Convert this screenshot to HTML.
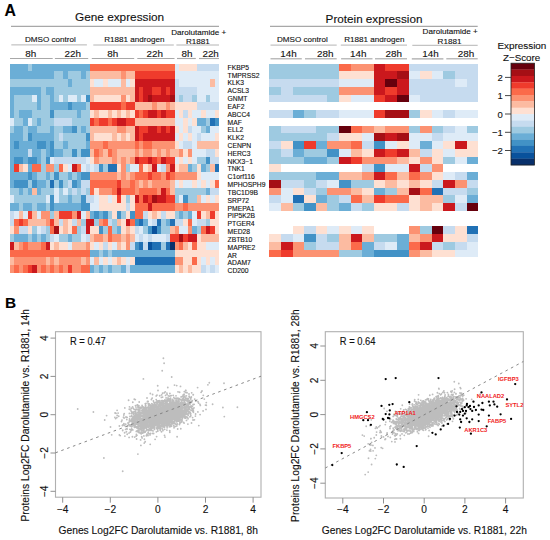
<!DOCTYPE html>
<html><head><meta charset="utf-8"><style>
html,body{margin:0;padding:0;background:#fff;width:550px;height:540px;overflow:hidden}
svg{display:block;font-family:"Liberation Sans",sans-serif}
text{stroke:#111;stroke-width:0.12px}
.hm rect{shape-rendering:crispEdges}
.r{stroke:none}
</style></head><body>
<svg width="550" height="540" viewBox="0 0 550 540">
<text x="4.6" y="16.4" font-size="15.8" font-weight="bold" fill="#000">A</text>
<text x="5.0" y="307.8" font-size="15.4" font-weight="bold" fill="#000">B</text>
<text x="75.0" y="20.6" font-size="11.8" text-anchor="start" fill="#111" >Gene expression</text>
<line x1="11" y1="26.35" x2="219" y2="26.35" stroke="#a8a8a8" stroke-width="1.3"/>
<text x="25.0" y="42.3" font-size="8.1" text-anchor="start" fill="#111" >DMSO control</text>
<line x1="11.3" y1="44.9" x2="86.9" y2="44.9" stroke="#b4b4b4" stroke-width="1.0"/>
<text x="104.2" y="41.9" font-size="8.1" text-anchor="start" fill="#111" >R1881 androgen</text>
<line x1="93.3" y1="45.0" x2="173.8" y2="45.0" stroke="#b4b4b4" stroke-width="1.0"/>
<text x="171.2" y="34.5" font-size="8.1" text-anchor="start" fill="#111" >Darolutamide +</text>
<text x="186.0" y="44.1" font-size="8.1" text-anchor="start" fill="#111" >R1881</text>
<line x1="176.4" y1="45.0" x2="219" y2="45.0" stroke="#b4b4b4" stroke-width="1.0"/>
<text x="25.2" y="56.8" font-size="9.9" text-anchor="start" fill="#111" >8h</text>
<text x="64.6" y="56.8" font-size="9.9" text-anchor="start" fill="#111" >22h</text>
<text x="107.3" y="56.8" font-size="9.9" text-anchor="start" fill="#111" >8h</text>
<text x="146.5" y="56.8" font-size="9.9" text-anchor="start" fill="#111" >22h</text>
<text x="181.4" y="56.8" font-size="9.9" text-anchor="start" fill="#111" >8h</text>
<text x="202.4" y="56.8" font-size="9.9" text-anchor="start" fill="#111" >22h</text>
<line x1="10" y1="58.5" x2="52.7" y2="58.5" stroke="#a8a8a8" stroke-width="1.15"/>
<line x1="54.9" y1="58.5" x2="88.2" y2="58.5" stroke="#a8a8a8" stroke-width="1.15"/>
<line x1="91.8" y1="58.5" x2="134.2" y2="58.5" stroke="#a8a8a8" stroke-width="1.15"/>
<line x1="137.3" y1="58.5" x2="174.5" y2="58.5" stroke="#a8a8a8" stroke-width="1.15"/>
<line x1="177" y1="58.5" x2="195.8" y2="58.5" stroke="#a8a8a8" stroke-width="1.15"/>
<line x1="199" y1="58.5" x2="219" y2="58.5" stroke="#a8a8a8" stroke-width="1.15"/>
<text x="325.6" y="22.8" font-size="11.7" text-anchor="start" fill="#111" >Protein expression</text>
<line x1="270" y1="26.35" x2="477.7" y2="26.35" stroke="#a8a8a8" stroke-width="1.3"/>
<text x="277.0" y="41.8" font-size="8.1" text-anchor="start" fill="#111" >DMSO control</text>
<line x1="270.5" y1="45.1" x2="336.7" y2="45.1" stroke="#b4b4b4" stroke-width="1.0"/>
<text x="344.2" y="41.8" font-size="8.1" text-anchor="start" fill="#111" >R1881 androgen</text>
<line x1="340.8" y1="45.1" x2="407" y2="45.1" stroke="#b4b4b4" stroke-width="1.0"/>
<text x="422.6" y="34.4" font-size="8.1" text-anchor="start" fill="#111" >Darolutamide +</text>
<text x="437.6" y="44.0" font-size="8.1" text-anchor="start" fill="#111" >R1881</text>
<line x1="412.3" y1="45.3" x2="477.7" y2="45.3" stroke="#b4b4b4" stroke-width="1.0"/>
<text x="280.3" y="56.8" font-size="9.9" text-anchor="start" fill="#111" >14h</text>
<text x="317.0" y="56.8" font-size="9.9" text-anchor="start" fill="#111" >28h</text>
<text x="350.0" y="56.8" font-size="9.9" text-anchor="start" fill="#111" >14h</text>
<text x="385.5" y="56.8" font-size="9.9" text-anchor="start" fill="#111" >28h</text>
<text x="422.2" y="56.8" font-size="9.9" text-anchor="start" fill="#111" >14h</text>
<text x="457.7" y="56.8" font-size="9.9" text-anchor="start" fill="#111" >28h</text>
<line x1="270.5" y1="58.8" x2="301.8" y2="58.8" stroke="#a8a8a8" stroke-width="1.15"/>
<line x1="305" y1="58.8" x2="336.7" y2="58.8" stroke="#a8a8a8" stroke-width="1.15"/>
<line x1="341.1" y1="58.8" x2="372.5" y2="58.8" stroke="#a8a8a8" stroke-width="1.15"/>
<line x1="375" y1="58.8" x2="407" y2="58.8" stroke="#a8a8a8" stroke-width="1.15"/>
<line x1="411.8" y1="58.8" x2="443.4" y2="58.8" stroke="#a8a8a8" stroke-width="1.15"/>
<line x1="446.3" y1="58.8" x2="477.7" y2="58.8" stroke="#a8a8a8" stroke-width="1.15"/>
<g class="hm">
<rect x="10.00" y="63.60" width="4.45" height="7.76" fill="#6baed6"/>
<rect x="14.45" y="63.60" width="4.45" height="7.76" fill="#6baed6"/>
<rect x="18.89" y="63.60" width="4.45" height="7.76" fill="#6baed6"/>
<rect x="23.34" y="63.60" width="4.45" height="7.76" fill="#6baed6"/>
<rect x="27.79" y="63.60" width="4.45" height="7.76" fill="#9ecae1"/>
<rect x="32.23" y="63.60" width="4.45" height="7.76" fill="#6baed6"/>
<rect x="36.68" y="63.60" width="4.45" height="7.76" fill="#6baed6"/>
<rect x="41.13" y="63.60" width="4.45" height="7.76" fill="#6baed6"/>
<rect x="45.57" y="63.60" width="4.45" height="7.76" fill="#6baed6"/>
<rect x="50.02" y="63.60" width="4.45" height="7.76" fill="#6baed6"/>
<rect x="54.47" y="63.60" width="4.45" height="7.76" fill="#6baed6"/>
<rect x="58.91" y="63.60" width="4.45" height="7.76" fill="#6baed6"/>
<rect x="63.36" y="63.60" width="4.45" height="7.76" fill="#6baed6"/>
<rect x="67.81" y="63.60" width="4.45" height="7.76" fill="#6baed6"/>
<rect x="72.26" y="63.60" width="4.45" height="7.76" fill="#6baed6"/>
<rect x="76.70" y="63.60" width="4.45" height="7.76" fill="#6baed6"/>
<rect x="81.15" y="63.60" width="4.45" height="7.76" fill="#6baed6"/>
<rect x="85.60" y="63.60" width="4.45" height="7.76" fill="#6baed6"/>
<rect x="90.04" y="63.60" width="4.45" height="7.76" fill="#fb6a4a"/>
<rect x="94.49" y="63.60" width="4.45" height="7.76" fill="#fb6a4a"/>
<rect x="98.94" y="63.60" width="4.45" height="7.76" fill="#fb6a4a"/>
<rect x="103.38" y="63.60" width="4.45" height="7.76" fill="#fb6a4a"/>
<rect x="107.83" y="63.60" width="4.45" height="7.76" fill="#fb6a4a"/>
<rect x="112.28" y="63.60" width="4.45" height="7.76" fill="#fb6a4a"/>
<rect x="116.72" y="63.60" width="4.45" height="7.76" fill="#fb6a4a"/>
<rect x="121.17" y="63.60" width="4.45" height="7.76" fill="#fb6a4a"/>
<rect x="125.62" y="63.60" width="4.45" height="7.76" fill="#fb6a4a"/>
<rect x="130.06" y="63.60" width="4.45" height="7.76" fill="#fb6a4a"/>
<rect x="134.51" y="63.60" width="4.45" height="7.76" fill="#fb6a4a"/>
<rect x="138.96" y="63.60" width="4.45" height="7.76" fill="#fb6a4a"/>
<rect x="143.40" y="63.60" width="4.45" height="7.76" fill="#fb6a4a"/>
<rect x="147.85" y="63.60" width="4.45" height="7.76" fill="#fb6a4a"/>
<rect x="152.30" y="63.60" width="4.45" height="7.76" fill="#fb6a4a"/>
<rect x="156.74" y="63.60" width="4.45" height="7.76" fill="#fb6a4a"/>
<rect x="161.19" y="63.60" width="4.45" height="7.76" fill="#fb6a4a"/>
<rect x="165.64" y="63.60" width="4.45" height="7.76" fill="#fb6a4a"/>
<rect x="170.09" y="63.60" width="4.45" height="7.76" fill="#fb6a4a"/>
<rect x="174.53" y="63.60" width="4.45" height="7.76" fill="#deebf7"/>
<rect x="178.98" y="63.60" width="4.45" height="7.76" fill="#fee0d2"/>
<rect x="183.43" y="63.60" width="4.45" height="7.76" fill="#fee0d2"/>
<rect x="187.87" y="63.60" width="4.45" height="7.76" fill="#fee0d2"/>
<rect x="192.32" y="63.60" width="4.45" height="7.76" fill="#fee0d2"/>
<rect x="196.77" y="63.60" width="4.45" height="7.76" fill="#c6dbef"/>
<rect x="201.21" y="63.60" width="4.45" height="7.76" fill="#c6dbef"/>
<rect x="205.66" y="63.60" width="4.45" height="7.76" fill="#c6dbef"/>
<rect x="210.11" y="63.60" width="4.45" height="7.76" fill="#c6dbef"/>
<rect x="214.55" y="63.60" width="4.45" height="7.76" fill="#c6dbef"/>
<rect x="10.00" y="71.36" width="4.45" height="7.76" fill="#6baed6"/>
<rect x="14.45" y="71.36" width="4.45" height="7.76" fill="#6baed6"/>
<rect x="18.89" y="71.36" width="4.45" height="7.76" fill="#6baed6"/>
<rect x="23.34" y="71.36" width="4.45" height="7.76" fill="#6baed6"/>
<rect x="27.79" y="71.36" width="4.45" height="7.76" fill="#6baed6"/>
<rect x="32.23" y="71.36" width="4.45" height="7.76" fill="#6baed6"/>
<rect x="36.68" y="71.36" width="4.45" height="7.76" fill="#6baed6"/>
<rect x="41.13" y="71.36" width="4.45" height="7.76" fill="#6baed6"/>
<rect x="45.57" y="71.36" width="4.45" height="7.76" fill="#6baed6"/>
<rect x="50.02" y="71.36" width="4.45" height="7.76" fill="#6baed6"/>
<rect x="54.47" y="71.36" width="4.45" height="7.76" fill="#9ecae1"/>
<rect x="58.91" y="71.36" width="4.45" height="7.76" fill="#9ecae1"/>
<rect x="63.36" y="71.36" width="4.45" height="7.76" fill="#6baed6"/>
<rect x="67.81" y="71.36" width="4.45" height="7.76" fill="#9ecae1"/>
<rect x="72.26" y="71.36" width="4.45" height="7.76" fill="#9ecae1"/>
<rect x="76.70" y="71.36" width="4.45" height="7.76" fill="#9ecae1"/>
<rect x="81.15" y="71.36" width="4.45" height="7.76" fill="#6baed6"/>
<rect x="85.60" y="71.36" width="4.45" height="7.76" fill="#9ecae1"/>
<rect x="90.04" y="71.36" width="4.45" height="7.76" fill="#fcbba1"/>
<rect x="94.49" y="71.36" width="4.45" height="7.76" fill="#fcbba1"/>
<rect x="98.94" y="71.36" width="4.45" height="7.76" fill="#fcbba1"/>
<rect x="103.38" y="71.36" width="4.45" height="7.76" fill="#fcbba1"/>
<rect x="107.83" y="71.36" width="4.45" height="7.76" fill="#fcbba1"/>
<rect x="112.28" y="71.36" width="4.45" height="7.76" fill="#fcbba1"/>
<rect x="116.72" y="71.36" width="4.45" height="7.76" fill="#fcbba1"/>
<rect x="121.17" y="71.36" width="4.45" height="7.76" fill="#fc9272"/>
<rect x="125.62" y="71.36" width="4.45" height="7.76" fill="#fcbba1"/>
<rect x="130.06" y="71.36" width="4.45" height="7.76" fill="#fcbba1"/>
<rect x="134.51" y="71.36" width="4.45" height="7.76" fill="#ef3b2c"/>
<rect x="138.96" y="71.36" width="4.45" height="7.76" fill="#ef3b2c"/>
<rect x="143.40" y="71.36" width="4.45" height="7.76" fill="#ef3b2c"/>
<rect x="147.85" y="71.36" width="4.45" height="7.76" fill="#ef3b2c"/>
<rect x="152.30" y="71.36" width="4.45" height="7.76" fill="#ef3b2c"/>
<rect x="156.74" y="71.36" width="4.45" height="7.76" fill="#ef3b2c"/>
<rect x="161.19" y="71.36" width="4.45" height="7.76" fill="#ef3b2c"/>
<rect x="165.64" y="71.36" width="4.45" height="7.76" fill="#ef3b2c"/>
<rect x="170.09" y="71.36" width="4.45" height="7.76" fill="#ef3b2c"/>
<rect x="174.53" y="71.36" width="4.45" height="7.76" fill="#deebf7"/>
<rect x="178.98" y="71.36" width="4.45" height="7.76" fill="#deebf7"/>
<rect x="183.43" y="71.36" width="4.45" height="7.76" fill="#deebf7"/>
<rect x="187.87" y="71.36" width="4.45" height="7.76" fill="#deebf7"/>
<rect x="192.32" y="71.36" width="4.45" height="7.76" fill="#deebf7"/>
<rect x="196.77" y="71.36" width="4.45" height="7.76" fill="#deebf7"/>
<rect x="201.21" y="71.36" width="4.45" height="7.76" fill="#deebf7"/>
<rect x="205.66" y="71.36" width="4.45" height="7.76" fill="#deebf7"/>
<rect x="210.11" y="71.36" width="4.45" height="7.76" fill="#deebf7"/>
<rect x="214.55" y="71.36" width="4.45" height="7.76" fill="#deebf7"/>
<rect x="10.00" y="79.11" width="4.45" height="7.76" fill="#9ecae1"/>
<rect x="14.45" y="79.11" width="4.45" height="7.76" fill="#9ecae1"/>
<rect x="18.89" y="79.11" width="4.45" height="7.76" fill="#9ecae1"/>
<rect x="23.34" y="79.11" width="4.45" height="7.76" fill="#9ecae1"/>
<rect x="27.79" y="79.11" width="4.45" height="7.76" fill="#9ecae1"/>
<rect x="32.23" y="79.11" width="4.45" height="7.76" fill="#9ecae1"/>
<rect x="36.68" y="79.11" width="4.45" height="7.76" fill="#9ecae1"/>
<rect x="41.13" y="79.11" width="4.45" height="7.76" fill="#9ecae1"/>
<rect x="45.57" y="79.11" width="4.45" height="7.76" fill="#9ecae1"/>
<rect x="50.02" y="79.11" width="4.45" height="7.76" fill="#9ecae1"/>
<rect x="54.47" y="79.11" width="4.45" height="7.76" fill="#9ecae1"/>
<rect x="58.91" y="79.11" width="4.45" height="7.76" fill="#9ecae1"/>
<rect x="63.36" y="79.11" width="4.45" height="7.76" fill="#9ecae1"/>
<rect x="67.81" y="79.11" width="4.45" height="7.76" fill="#6baed6"/>
<rect x="72.26" y="79.11" width="4.45" height="7.76" fill="#9ecae1"/>
<rect x="76.70" y="79.11" width="4.45" height="7.76" fill="#9ecae1"/>
<rect x="81.15" y="79.11" width="4.45" height="7.76" fill="#9ecae1"/>
<rect x="85.60" y="79.11" width="4.45" height="7.76" fill="#9ecae1"/>
<rect x="90.04" y="79.11" width="4.45" height="7.76" fill="#fee0d2"/>
<rect x="94.49" y="79.11" width="4.45" height="7.76" fill="#deebf7"/>
<rect x="98.94" y="79.11" width="4.45" height="7.76" fill="#deebf7"/>
<rect x="103.38" y="79.11" width="4.45" height="7.76" fill="#fee0d2"/>
<rect x="107.83" y="79.11" width="4.45" height="7.76" fill="#deebf7"/>
<rect x="112.28" y="79.11" width="4.45" height="7.76" fill="#deebf7"/>
<rect x="116.72" y="79.11" width="4.45" height="7.76" fill="#deebf7"/>
<rect x="121.17" y="79.11" width="4.45" height="7.76" fill="#fcbba1"/>
<rect x="125.62" y="79.11" width="4.45" height="7.76" fill="#deebf7"/>
<rect x="130.06" y="79.11" width="4.45" height="7.76" fill="#fee0d2"/>
<rect x="134.51" y="79.11" width="4.45" height="7.76" fill="#cb181d"/>
<rect x="138.96" y="79.11" width="4.45" height="7.76" fill="#cb181d"/>
<rect x="143.40" y="79.11" width="4.45" height="7.76" fill="#cb181d"/>
<rect x="147.85" y="79.11" width="4.45" height="7.76" fill="#cb181d"/>
<rect x="152.30" y="79.11" width="4.45" height="7.76" fill="#cb181d"/>
<rect x="156.74" y="79.11" width="4.45" height="7.76" fill="#cb181d"/>
<rect x="161.19" y="79.11" width="4.45" height="7.76" fill="#cb181d"/>
<rect x="165.64" y="79.11" width="4.45" height="7.76" fill="#cb181d"/>
<rect x="170.09" y="79.11" width="4.45" height="7.76" fill="#cb181d"/>
<rect x="174.53" y="79.11" width="4.45" height="7.76" fill="#c6dbef"/>
<rect x="178.98" y="79.11" width="4.45" height="7.76" fill="#deebf7"/>
<rect x="183.43" y="79.11" width="4.45" height="7.76" fill="#deebf7"/>
<rect x="187.87" y="79.11" width="4.45" height="7.76" fill="#deebf7"/>
<rect x="192.32" y="79.11" width="4.45" height="7.76" fill="#deebf7"/>
<rect x="196.77" y="79.11" width="4.45" height="7.76" fill="#deebf7"/>
<rect x="201.21" y="79.11" width="4.45" height="7.76" fill="#deebf7"/>
<rect x="205.66" y="79.11" width="4.45" height="7.76" fill="#deebf7"/>
<rect x="210.11" y="79.11" width="4.45" height="7.76" fill="#fcbba1"/>
<rect x="214.55" y="79.11" width="4.45" height="7.76" fill="#deebf7"/>
<rect x="10.00" y="86.87" width="4.45" height="7.76" fill="#6baed6"/>
<rect x="14.45" y="86.87" width="4.45" height="7.76" fill="#6baed6"/>
<rect x="18.89" y="86.87" width="4.45" height="7.76" fill="#6baed6"/>
<rect x="23.34" y="86.87" width="4.45" height="7.76" fill="#6baed6"/>
<rect x="27.79" y="86.87" width="4.45" height="7.76" fill="#6baed6"/>
<rect x="32.23" y="86.87" width="4.45" height="7.76" fill="#6baed6"/>
<rect x="36.68" y="86.87" width="4.45" height="7.76" fill="#6baed6"/>
<rect x="41.13" y="86.87" width="4.45" height="7.76" fill="#9ecae1"/>
<rect x="45.57" y="86.87" width="4.45" height="7.76" fill="#6baed6"/>
<rect x="50.02" y="86.87" width="4.45" height="7.76" fill="#6baed6"/>
<rect x="54.47" y="86.87" width="4.45" height="7.76" fill="#9ecae1"/>
<rect x="58.91" y="86.87" width="4.45" height="7.76" fill="#9ecae1"/>
<rect x="63.36" y="86.87" width="4.45" height="7.76" fill="#9ecae1"/>
<rect x="67.81" y="86.87" width="4.45" height="7.76" fill="#9ecae1"/>
<rect x="72.26" y="86.87" width="4.45" height="7.76" fill="#9ecae1"/>
<rect x="76.70" y="86.87" width="4.45" height="7.76" fill="#9ecae1"/>
<rect x="81.15" y="86.87" width="4.45" height="7.76" fill="#9ecae1"/>
<rect x="85.60" y="86.87" width="4.45" height="7.76" fill="#9ecae1"/>
<rect x="90.04" y="86.87" width="4.45" height="7.76" fill="#fcbba1"/>
<rect x="94.49" y="86.87" width="4.45" height="7.76" fill="#fcbba1"/>
<rect x="98.94" y="86.87" width="4.45" height="7.76" fill="#fcbba1"/>
<rect x="103.38" y="86.87" width="4.45" height="7.76" fill="#fcbba1"/>
<rect x="107.83" y="86.87" width="4.45" height="7.76" fill="#fcbba1"/>
<rect x="112.28" y="86.87" width="4.45" height="7.76" fill="#fcbba1"/>
<rect x="116.72" y="86.87" width="4.45" height="7.76" fill="#fcbba1"/>
<rect x="121.17" y="86.87" width="4.45" height="7.76" fill="#fcbba1"/>
<rect x="125.62" y="86.87" width="4.45" height="7.76" fill="#fcbba1"/>
<rect x="130.06" y="86.87" width="4.45" height="7.76" fill="#fcbba1"/>
<rect x="134.51" y="86.87" width="4.45" height="7.76" fill="#cb181d"/>
<rect x="138.96" y="86.87" width="4.45" height="7.76" fill="#ef3b2c"/>
<rect x="143.40" y="86.87" width="4.45" height="7.76" fill="#cb181d"/>
<rect x="147.85" y="86.87" width="4.45" height="7.76" fill="#cb181d"/>
<rect x="152.30" y="86.87" width="4.45" height="7.76" fill="#ef3b2c"/>
<rect x="156.74" y="86.87" width="4.45" height="7.76" fill="#ef3b2c"/>
<rect x="161.19" y="86.87" width="4.45" height="7.76" fill="#cb181d"/>
<rect x="165.64" y="86.87" width="4.45" height="7.76" fill="#ef3b2c"/>
<rect x="170.09" y="86.87" width="4.45" height="7.76" fill="#cb181d"/>
<rect x="174.53" y="86.87" width="4.45" height="7.76" fill="#c6dbef"/>
<rect x="178.98" y="86.87" width="4.45" height="7.76" fill="#c6dbef"/>
<rect x="183.43" y="86.87" width="4.45" height="7.76" fill="#c6dbef"/>
<rect x="187.87" y="86.87" width="4.45" height="7.76" fill="#c6dbef"/>
<rect x="192.32" y="86.87" width="4.45" height="7.76" fill="#c6dbef"/>
<rect x="196.77" y="86.87" width="4.45" height="7.76" fill="#deebf7"/>
<rect x="201.21" y="86.87" width="4.45" height="7.76" fill="#deebf7"/>
<rect x="205.66" y="86.87" width="4.45" height="7.76" fill="#deebf7"/>
<rect x="210.11" y="86.87" width="4.45" height="7.76" fill="#deebf7"/>
<rect x="214.55" y="86.87" width="4.45" height="7.76" fill="#deebf7"/>
<rect x="10.00" y="94.62" width="4.45" height="7.76" fill="#6baed6"/>
<rect x="14.45" y="94.62" width="4.45" height="7.76" fill="#9ecae1"/>
<rect x="18.89" y="94.62" width="4.45" height="7.76" fill="#9ecae1"/>
<rect x="23.34" y="94.62" width="4.45" height="7.76" fill="#9ecae1"/>
<rect x="27.79" y="94.62" width="4.45" height="7.76" fill="#9ecae1"/>
<rect x="32.23" y="94.62" width="4.45" height="7.76" fill="#deebf7"/>
<rect x="36.68" y="94.62" width="4.45" height="7.76" fill="#6baed6"/>
<rect x="41.13" y="94.62" width="4.45" height="7.76" fill="#9ecae1"/>
<rect x="45.57" y="94.62" width="4.45" height="7.76" fill="#9ecae1"/>
<rect x="50.02" y="94.62" width="4.45" height="7.76" fill="#6baed6"/>
<rect x="54.47" y="94.62" width="4.45" height="7.76" fill="#9ecae1"/>
<rect x="58.91" y="94.62" width="4.45" height="7.76" fill="#deebf7"/>
<rect x="63.36" y="94.62" width="4.45" height="7.76" fill="#9ecae1"/>
<rect x="67.81" y="94.62" width="4.45" height="7.76" fill="#deebf7"/>
<rect x="72.26" y="94.62" width="4.45" height="7.76" fill="#deebf7"/>
<rect x="76.70" y="94.62" width="4.45" height="7.76" fill="#9ecae1"/>
<rect x="81.15" y="94.62" width="4.45" height="7.76" fill="#deebf7"/>
<rect x="85.60" y="94.62" width="4.45" height="7.76" fill="#4292c6"/>
<rect x="90.04" y="94.62" width="4.45" height="7.76" fill="#fcbba1"/>
<rect x="94.49" y="94.62" width="4.45" height="7.76" fill="#fee0d2"/>
<rect x="98.94" y="94.62" width="4.45" height="7.76" fill="#fee0d2"/>
<rect x="103.38" y="94.62" width="4.45" height="7.76" fill="#fee0d2"/>
<rect x="107.83" y="94.62" width="4.45" height="7.76" fill="#fee0d2"/>
<rect x="112.28" y="94.62" width="4.45" height="7.76" fill="#fee0d2"/>
<rect x="116.72" y="94.62" width="4.45" height="7.76" fill="#fee0d2"/>
<rect x="121.17" y="94.62" width="4.45" height="7.76" fill="#fc9272"/>
<rect x="125.62" y="94.62" width="4.45" height="7.76" fill="#fee0d2"/>
<rect x="130.06" y="94.62" width="4.45" height="7.76" fill="#fcbba1"/>
<rect x="134.51" y="94.62" width="4.45" height="7.76" fill="#cb181d"/>
<rect x="138.96" y="94.62" width="4.45" height="7.76" fill="#ef3b2c"/>
<rect x="143.40" y="94.62" width="4.45" height="7.76" fill="#cb181d"/>
<rect x="147.85" y="94.62" width="4.45" height="7.76" fill="#a50f15"/>
<rect x="152.30" y="94.62" width="4.45" height="7.76" fill="#cb181d"/>
<rect x="156.74" y="94.62" width="4.45" height="7.76" fill="#cb181d"/>
<rect x="161.19" y="94.62" width="4.45" height="7.76" fill="#cb181d"/>
<rect x="165.64" y="94.62" width="4.45" height="7.76" fill="#cb181d"/>
<rect x="170.09" y="94.62" width="4.45" height="7.76" fill="#a50f15"/>
<rect x="174.53" y="94.62" width="4.45" height="7.76" fill="#c6dbef"/>
<rect x="178.98" y="94.62" width="4.45" height="7.76" fill="#9ecae1"/>
<rect x="183.43" y="94.62" width="4.45" height="7.76" fill="#c6dbef"/>
<rect x="187.87" y="94.62" width="4.45" height="7.76" fill="#c6dbef"/>
<rect x="192.32" y="94.62" width="4.45" height="7.76" fill="#9ecae1"/>
<rect x="196.77" y="94.62" width="4.45" height="7.76" fill="#deebf7"/>
<rect x="201.21" y="94.62" width="4.45" height="7.76" fill="#deebf7"/>
<rect x="205.66" y="94.62" width="4.45" height="7.76" fill="#9ecae1"/>
<rect x="210.11" y="94.62" width="4.45" height="7.76" fill="#deebf7"/>
<rect x="214.55" y="94.62" width="4.45" height="7.76" fill="#deebf7"/>
<rect x="10.00" y="102.38" width="4.45" height="7.76" fill="#6baed6"/>
<rect x="14.45" y="102.38" width="4.45" height="7.76" fill="#9ecae1"/>
<rect x="18.89" y="102.38" width="4.45" height="7.76" fill="#9ecae1"/>
<rect x="23.34" y="102.38" width="4.45" height="7.76" fill="#9ecae1"/>
<rect x="27.79" y="102.38" width="4.45" height="7.76" fill="#9ecae1"/>
<rect x="32.23" y="102.38" width="4.45" height="7.76" fill="#9ecae1"/>
<rect x="36.68" y="102.38" width="4.45" height="7.76" fill="#6baed6"/>
<rect x="41.13" y="102.38" width="4.45" height="7.76" fill="#9ecae1"/>
<rect x="45.57" y="102.38" width="4.45" height="7.76" fill="#9ecae1"/>
<rect x="50.02" y="102.38" width="4.45" height="7.76" fill="#6baed6"/>
<rect x="54.47" y="102.38" width="4.45" height="7.76" fill="#6baed6"/>
<rect x="58.91" y="102.38" width="4.45" height="7.76" fill="#6baed6"/>
<rect x="63.36" y="102.38" width="4.45" height="7.76" fill="#6baed6"/>
<rect x="67.81" y="102.38" width="4.45" height="7.76" fill="#4292c6"/>
<rect x="72.26" y="102.38" width="4.45" height="7.76" fill="#6baed6"/>
<rect x="76.70" y="102.38" width="4.45" height="7.76" fill="#6baed6"/>
<rect x="81.15" y="102.38" width="4.45" height="7.76" fill="#6baed6"/>
<rect x="85.60" y="102.38" width="4.45" height="7.76" fill="#9ecae1"/>
<rect x="90.04" y="102.38" width="4.45" height="7.76" fill="#ef3b2c"/>
<rect x="94.49" y="102.38" width="4.45" height="7.76" fill="#ef3b2c"/>
<rect x="98.94" y="102.38" width="4.45" height="7.76" fill="#ef3b2c"/>
<rect x="103.38" y="102.38" width="4.45" height="7.76" fill="#ef3b2c"/>
<rect x="107.83" y="102.38" width="4.45" height="7.76" fill="#ef3b2c"/>
<rect x="112.28" y="102.38" width="4.45" height="7.76" fill="#ef3b2c"/>
<rect x="116.72" y="102.38" width="4.45" height="7.76" fill="#ef3b2c"/>
<rect x="121.17" y="102.38" width="4.45" height="7.76" fill="#fb6a4a"/>
<rect x="125.62" y="102.38" width="4.45" height="7.76" fill="#ef3b2c"/>
<rect x="130.06" y="102.38" width="4.45" height="7.76" fill="#ef3b2c"/>
<rect x="134.51" y="102.38" width="4.45" height="7.76" fill="#fcbba1"/>
<rect x="138.96" y="102.38" width="4.45" height="7.76" fill="#fcbba1"/>
<rect x="143.40" y="102.38" width="4.45" height="7.76" fill="#fcbba1"/>
<rect x="147.85" y="102.38" width="4.45" height="7.76" fill="#fcbba1"/>
<rect x="152.30" y="102.38" width="4.45" height="7.76" fill="#fc9272"/>
<rect x="156.74" y="102.38" width="4.45" height="7.76" fill="#fcbba1"/>
<rect x="161.19" y="102.38" width="4.45" height="7.76" fill="#fcbba1"/>
<rect x="165.64" y="102.38" width="4.45" height="7.76" fill="#fc9272"/>
<rect x="170.09" y="102.38" width="4.45" height="7.76" fill="#fcbba1"/>
<rect x="174.53" y="102.38" width="4.45" height="7.76" fill="#fee0d2"/>
<rect x="178.98" y="102.38" width="4.45" height="7.76" fill="#fee0d2"/>
<rect x="183.43" y="102.38" width="4.45" height="7.76" fill="#fee0d2"/>
<rect x="187.87" y="102.38" width="4.45" height="7.76" fill="#fee0d2"/>
<rect x="192.32" y="102.38" width="4.45" height="7.76" fill="#fee0d2"/>
<rect x="196.77" y="102.38" width="4.45" height="7.76" fill="#c6dbef"/>
<rect x="201.21" y="102.38" width="4.45" height="7.76" fill="#c6dbef"/>
<rect x="205.66" y="102.38" width="4.45" height="7.76" fill="#c6dbef"/>
<rect x="210.11" y="102.38" width="4.45" height="7.76" fill="#c6dbef"/>
<rect x="214.55" y="102.38" width="4.45" height="7.76" fill="#c6dbef"/>
<rect x="10.00" y="110.13" width="4.45" height="7.76" fill="#6baed6"/>
<rect x="14.45" y="110.13" width="4.45" height="7.76" fill="#9ecae1"/>
<rect x="18.89" y="110.13" width="4.45" height="7.76" fill="#6baed6"/>
<rect x="23.34" y="110.13" width="4.45" height="7.76" fill="#6baed6"/>
<rect x="27.79" y="110.13" width="4.45" height="7.76" fill="#6baed6"/>
<rect x="32.23" y="110.13" width="4.45" height="7.76" fill="#9ecae1"/>
<rect x="36.68" y="110.13" width="4.45" height="7.76" fill="#9ecae1"/>
<rect x="41.13" y="110.13" width="4.45" height="7.76" fill="#9ecae1"/>
<rect x="45.57" y="110.13" width="4.45" height="7.76" fill="#9ecae1"/>
<rect x="50.02" y="110.13" width="4.45" height="7.76" fill="#4292c6"/>
<rect x="54.47" y="110.13" width="4.45" height="7.76" fill="#9ecae1"/>
<rect x="58.91" y="110.13" width="4.45" height="7.76" fill="#9ecae1"/>
<rect x="63.36" y="110.13" width="4.45" height="7.76" fill="#9ecae1"/>
<rect x="67.81" y="110.13" width="4.45" height="7.76" fill="#9ecae1"/>
<rect x="72.26" y="110.13" width="4.45" height="7.76" fill="#9ecae1"/>
<rect x="76.70" y="110.13" width="4.45" height="7.76" fill="#6baed6"/>
<rect x="81.15" y="110.13" width="4.45" height="7.76" fill="#9ecae1"/>
<rect x="85.60" y="110.13" width="4.45" height="7.76" fill="#9ecae1"/>
<rect x="90.04" y="110.13" width="4.45" height="7.76" fill="#fee0d2"/>
<rect x="94.49" y="110.13" width="4.45" height="7.76" fill="#fcbba1"/>
<rect x="98.94" y="110.13" width="4.45" height="7.76" fill="#fee0d2"/>
<rect x="103.38" y="110.13" width="4.45" height="7.76" fill="#fee0d2"/>
<rect x="107.83" y="110.13" width="4.45" height="7.76" fill="#fcbba1"/>
<rect x="112.28" y="110.13" width="4.45" height="7.76" fill="#fee0d2"/>
<rect x="116.72" y="110.13" width="4.45" height="7.76" fill="#fcbba1"/>
<rect x="121.17" y="110.13" width="4.45" height="7.76" fill="#fee0d2"/>
<rect x="125.62" y="110.13" width="4.45" height="7.76" fill="#fcbba1"/>
<rect x="130.06" y="110.13" width="4.45" height="7.76" fill="#fee0d2"/>
<rect x="134.51" y="110.13" width="4.45" height="7.76" fill="#ef3b2c"/>
<rect x="138.96" y="110.13" width="4.45" height="7.76" fill="#fb6a4a"/>
<rect x="143.40" y="110.13" width="4.45" height="7.76" fill="#ef3b2c"/>
<rect x="147.85" y="110.13" width="4.45" height="7.76" fill="#cb181d"/>
<rect x="152.30" y="110.13" width="4.45" height="7.76" fill="#cb181d"/>
<rect x="156.74" y="110.13" width="4.45" height="7.76" fill="#ef3b2c"/>
<rect x="161.19" y="110.13" width="4.45" height="7.76" fill="#cb181d"/>
<rect x="165.64" y="110.13" width="4.45" height="7.76" fill="#ef3b2c"/>
<rect x="170.09" y="110.13" width="4.45" height="7.76" fill="#ef3b2c"/>
<rect x="174.53" y="110.13" width="4.45" height="7.76" fill="#deebf7"/>
<rect x="178.98" y="110.13" width="4.45" height="7.76" fill="#fee0d2"/>
<rect x="183.43" y="110.13" width="4.45" height="7.76" fill="#c6dbef"/>
<rect x="187.87" y="110.13" width="4.45" height="7.76" fill="#fee0d2"/>
<rect x="192.32" y="110.13" width="4.45" height="7.76" fill="#deebf7"/>
<rect x="196.77" y="110.13" width="4.45" height="7.76" fill="#deebf7"/>
<rect x="201.21" y="110.13" width="4.45" height="7.76" fill="#fee0d2"/>
<rect x="205.66" y="110.13" width="4.45" height="7.76" fill="#deebf7"/>
<rect x="210.11" y="110.13" width="4.45" height="7.76" fill="#deebf7"/>
<rect x="214.55" y="110.13" width="4.45" height="7.76" fill="#fee0d2"/>
<rect x="10.00" y="117.89" width="4.45" height="7.76" fill="#deebf7"/>
<rect x="14.45" y="117.89" width="4.45" height="7.76" fill="#9ecae1"/>
<rect x="18.89" y="117.89" width="4.45" height="7.76" fill="#9ecae1"/>
<rect x="23.34" y="117.89" width="4.45" height="7.76" fill="#6baed6"/>
<rect x="27.79" y="117.89" width="4.45" height="7.76" fill="#deebf7"/>
<rect x="32.23" y="117.89" width="4.45" height="7.76" fill="#9ecae1"/>
<rect x="36.68" y="117.89" width="4.45" height="7.76" fill="#6baed6"/>
<rect x="41.13" y="117.89" width="4.45" height="7.76" fill="#9ecae1"/>
<rect x="45.57" y="117.89" width="4.45" height="7.76" fill="#9ecae1"/>
<rect x="50.02" y="117.89" width="4.45" height="7.76" fill="#9ecae1"/>
<rect x="54.47" y="117.89" width="4.45" height="7.76" fill="#c6dbef"/>
<rect x="58.91" y="117.89" width="4.45" height="7.76" fill="#c6dbef"/>
<rect x="63.36" y="117.89" width="4.45" height="7.76" fill="#c6dbef"/>
<rect x="67.81" y="117.89" width="4.45" height="7.76" fill="#c6dbef"/>
<rect x="72.26" y="117.89" width="4.45" height="7.76" fill="#9ecae1"/>
<rect x="76.70" y="117.89" width="4.45" height="7.76" fill="#9ecae1"/>
<rect x="81.15" y="117.89" width="4.45" height="7.76" fill="#9ecae1"/>
<rect x="85.60" y="117.89" width="4.45" height="7.76" fill="#9ecae1"/>
<rect x="90.04" y="117.89" width="4.45" height="7.76" fill="#ef3b2c"/>
<rect x="94.49" y="117.89" width="4.45" height="7.76" fill="#fb6a4a"/>
<rect x="98.94" y="117.89" width="4.45" height="7.76" fill="#ef3b2c"/>
<rect x="103.38" y="117.89" width="4.45" height="7.76" fill="#ef3b2c"/>
<rect x="107.83" y="117.89" width="4.45" height="7.76" fill="#fb6a4a"/>
<rect x="112.28" y="117.89" width="4.45" height="7.76" fill="#ef3b2c"/>
<rect x="116.72" y="117.89" width="4.45" height="7.76" fill="#cb181d"/>
<rect x="121.17" y="117.89" width="4.45" height="7.76" fill="#cb181d"/>
<rect x="125.62" y="117.89" width="4.45" height="7.76" fill="#ef3b2c"/>
<rect x="130.06" y="117.89" width="4.45" height="7.76" fill="#ef3b2c"/>
<rect x="134.51" y="117.89" width="4.45" height="7.76" fill="#fcbba1"/>
<rect x="138.96" y="117.89" width="4.45" height="7.76" fill="#fcbba1"/>
<rect x="143.40" y="117.89" width="4.45" height="7.76" fill="#fcbba1"/>
<rect x="147.85" y="117.89" width="4.45" height="7.76" fill="#fcbba1"/>
<rect x="152.30" y="117.89" width="4.45" height="7.76" fill="#fcbba1"/>
<rect x="156.74" y="117.89" width="4.45" height="7.76" fill="#fcbba1"/>
<rect x="161.19" y="117.89" width="4.45" height="7.76" fill="#fcbba1"/>
<rect x="165.64" y="117.89" width="4.45" height="7.76" fill="#fcbba1"/>
<rect x="170.09" y="117.89" width="4.45" height="7.76" fill="#fcbba1"/>
<rect x="174.53" y="117.89" width="4.45" height="7.76" fill="#deebf7"/>
<rect x="178.98" y="117.89" width="4.45" height="7.76" fill="#deebf7"/>
<rect x="183.43" y="117.89" width="4.45" height="7.76" fill="#fee0d2"/>
<rect x="187.87" y="117.89" width="4.45" height="7.76" fill="#deebf7"/>
<rect x="192.32" y="117.89" width="4.45" height="7.76" fill="#fee0d2"/>
<rect x="196.77" y="117.89" width="4.45" height="7.76" fill="#6baed6"/>
<rect x="201.21" y="117.89" width="4.45" height="7.76" fill="#6baed6"/>
<rect x="205.66" y="117.89" width="4.45" height="7.76" fill="#9ecae1"/>
<rect x="210.11" y="117.89" width="4.45" height="7.76" fill="#2171b5"/>
<rect x="214.55" y="117.89" width="4.45" height="7.76" fill="#4292c6"/>
<rect x="10.00" y="125.64" width="4.45" height="7.76" fill="#9ecae1"/>
<rect x="14.45" y="125.64" width="4.45" height="7.76" fill="#6baed6"/>
<rect x="18.89" y="125.64" width="4.45" height="7.76" fill="#6baed6"/>
<rect x="23.34" y="125.64" width="4.45" height="7.76" fill="#9ecae1"/>
<rect x="27.79" y="125.64" width="4.45" height="7.76" fill="#6baed6"/>
<rect x="32.23" y="125.64" width="4.45" height="7.76" fill="#6baed6"/>
<rect x="36.68" y="125.64" width="4.45" height="7.76" fill="#9ecae1"/>
<rect x="41.13" y="125.64" width="4.45" height="7.76" fill="#9ecae1"/>
<rect x="45.57" y="125.64" width="4.45" height="7.76" fill="#9ecae1"/>
<rect x="50.02" y="125.64" width="4.45" height="7.76" fill="#6baed6"/>
<rect x="54.47" y="125.64" width="4.45" height="7.76" fill="#9ecae1"/>
<rect x="58.91" y="125.64" width="4.45" height="7.76" fill="#9ecae1"/>
<rect x="63.36" y="125.64" width="4.45" height="7.76" fill="#6baed6"/>
<rect x="67.81" y="125.64" width="4.45" height="7.76" fill="#6baed6"/>
<rect x="72.26" y="125.64" width="4.45" height="7.76" fill="#4292c6"/>
<rect x="76.70" y="125.64" width="4.45" height="7.76" fill="#9ecae1"/>
<rect x="81.15" y="125.64" width="4.45" height="7.76" fill="#6baed6"/>
<rect x="85.60" y="125.64" width="4.45" height="7.76" fill="#9ecae1"/>
<rect x="90.04" y="125.64" width="4.45" height="7.76" fill="#fcbba1"/>
<rect x="94.49" y="125.64" width="4.45" height="7.76" fill="#fcbba1"/>
<rect x="98.94" y="125.64" width="4.45" height="7.76" fill="#fcbba1"/>
<rect x="103.38" y="125.64" width="4.45" height="7.76" fill="#fcbba1"/>
<rect x="107.83" y="125.64" width="4.45" height="7.76" fill="#fcbba1"/>
<rect x="112.28" y="125.64" width="4.45" height="7.76" fill="#fcbba1"/>
<rect x="116.72" y="125.64" width="4.45" height="7.76" fill="#fc9272"/>
<rect x="121.17" y="125.64" width="4.45" height="7.76" fill="#fc9272"/>
<rect x="125.62" y="125.64" width="4.45" height="7.76" fill="#fcbba1"/>
<rect x="130.06" y="125.64" width="4.45" height="7.76" fill="#fcbba1"/>
<rect x="134.51" y="125.64" width="4.45" height="7.76" fill="#cb181d"/>
<rect x="138.96" y="125.64" width="4.45" height="7.76" fill="#ef3b2c"/>
<rect x="143.40" y="125.64" width="4.45" height="7.76" fill="#ef3b2c"/>
<rect x="147.85" y="125.64" width="4.45" height="7.76" fill="#cb181d"/>
<rect x="152.30" y="125.64" width="4.45" height="7.76" fill="#cb181d"/>
<rect x="156.74" y="125.64" width="4.45" height="7.76" fill="#ef3b2c"/>
<rect x="161.19" y="125.64" width="4.45" height="7.76" fill="#cb181d"/>
<rect x="165.64" y="125.64" width="4.45" height="7.76" fill="#ef3b2c"/>
<rect x="170.09" y="125.64" width="4.45" height="7.76" fill="#cb181d"/>
<rect x="174.53" y="125.64" width="4.45" height="7.76" fill="#fee0d2"/>
<rect x="178.98" y="125.64" width="4.45" height="7.76" fill="#deebf7"/>
<rect x="183.43" y="125.64" width="4.45" height="7.76" fill="#fee0d2"/>
<rect x="187.87" y="125.64" width="4.45" height="7.76" fill="#c6dbef"/>
<rect x="192.32" y="125.64" width="4.45" height="7.76" fill="#deebf7"/>
<rect x="196.77" y="125.64" width="4.45" height="7.76" fill="#deebf7"/>
<rect x="201.21" y="125.64" width="4.45" height="7.76" fill="#9ecae1"/>
<rect x="205.66" y="125.64" width="4.45" height="7.76" fill="#6baed6"/>
<rect x="210.11" y="125.64" width="4.45" height="7.76" fill="#deebf7"/>
<rect x="214.55" y="125.64" width="4.45" height="7.76" fill="#deebf7"/>
<rect x="10.00" y="133.40" width="4.45" height="7.76" fill="#6baed6"/>
<rect x="14.45" y="133.40" width="4.45" height="7.76" fill="#6baed6"/>
<rect x="18.89" y="133.40" width="4.45" height="7.76" fill="#6baed6"/>
<rect x="23.34" y="133.40" width="4.45" height="7.76" fill="#9ecae1"/>
<rect x="27.79" y="133.40" width="4.45" height="7.76" fill="#4292c6"/>
<rect x="32.23" y="133.40" width="4.45" height="7.76" fill="#6baed6"/>
<rect x="36.68" y="133.40" width="4.45" height="7.76" fill="#6baed6"/>
<rect x="41.13" y="133.40" width="4.45" height="7.76" fill="#6baed6"/>
<rect x="45.57" y="133.40" width="4.45" height="7.76" fill="#6baed6"/>
<rect x="50.02" y="133.40" width="4.45" height="7.76" fill="#6baed6"/>
<rect x="54.47" y="133.40" width="4.45" height="7.76" fill="#9ecae1"/>
<rect x="58.91" y="133.40" width="4.45" height="7.76" fill="#c6dbef"/>
<rect x="63.36" y="133.40" width="4.45" height="7.76" fill="#9ecae1"/>
<rect x="67.81" y="133.40" width="4.45" height="7.76" fill="#9ecae1"/>
<rect x="72.26" y="133.40" width="4.45" height="7.76" fill="#9ecae1"/>
<rect x="76.70" y="133.40" width="4.45" height="7.76" fill="#9ecae1"/>
<rect x="81.15" y="133.40" width="4.45" height="7.76" fill="#9ecae1"/>
<rect x="85.60" y="133.40" width="4.45" height="7.76" fill="#4292c6"/>
<rect x="90.04" y="133.40" width="4.45" height="7.76" fill="#fcbba1"/>
<rect x="94.49" y="133.40" width="4.45" height="7.76" fill="#fee0d2"/>
<rect x="98.94" y="133.40" width="4.45" height="7.76" fill="#fee0d2"/>
<rect x="103.38" y="133.40" width="4.45" height="7.76" fill="#fee0d2"/>
<rect x="107.83" y="133.40" width="4.45" height="7.76" fill="#fee0d2"/>
<rect x="112.28" y="133.40" width="4.45" height="7.76" fill="#fcbba1"/>
<rect x="116.72" y="133.40" width="4.45" height="7.76" fill="#fee0d2"/>
<rect x="121.17" y="133.40" width="4.45" height="7.76" fill="#fcbba1"/>
<rect x="125.62" y="133.40" width="4.45" height="7.76" fill="#fee0d2"/>
<rect x="130.06" y="133.40" width="4.45" height="7.76" fill="#fcbba1"/>
<rect x="134.51" y="133.40" width="4.45" height="7.76" fill="#cb181d"/>
<rect x="138.96" y="133.40" width="4.45" height="7.76" fill="#ef3b2c"/>
<rect x="143.40" y="133.40" width="4.45" height="7.76" fill="#cb181d"/>
<rect x="147.85" y="133.40" width="4.45" height="7.76" fill="#cb181d"/>
<rect x="152.30" y="133.40" width="4.45" height="7.76" fill="#cb181d"/>
<rect x="156.74" y="133.40" width="4.45" height="7.76" fill="#cb181d"/>
<rect x="161.19" y="133.40" width="4.45" height="7.76" fill="#cb181d"/>
<rect x="165.64" y="133.40" width="4.45" height="7.76" fill="#cb181d"/>
<rect x="170.09" y="133.40" width="4.45" height="7.76" fill="#cb181d"/>
<rect x="174.53" y="133.40" width="4.45" height="7.76" fill="#deebf7"/>
<rect x="178.98" y="133.40" width="4.45" height="7.76" fill="#fee0d2"/>
<rect x="183.43" y="133.40" width="4.45" height="7.76" fill="#deebf7"/>
<rect x="187.87" y="133.40" width="4.45" height="7.76" fill="#fee0d2"/>
<rect x="192.32" y="133.40" width="4.45" height="7.76" fill="#deebf7"/>
<rect x="196.77" y="133.40" width="4.45" height="7.76" fill="#c6dbef"/>
<rect x="201.21" y="133.40" width="4.45" height="7.76" fill="#deebf7"/>
<rect x="205.66" y="133.40" width="4.45" height="7.76" fill="#deebf7"/>
<rect x="210.11" y="133.40" width="4.45" height="7.76" fill="#deebf7"/>
<rect x="214.55" y="133.40" width="4.45" height="7.76" fill="#fee0d2"/>
<rect x="10.00" y="141.16" width="4.45" height="7.76" fill="#6baed6"/>
<rect x="14.45" y="141.16" width="4.45" height="7.76" fill="#4292c6"/>
<rect x="18.89" y="141.16" width="4.45" height="7.76" fill="#6baed6"/>
<rect x="23.34" y="141.16" width="4.45" height="7.76" fill="#6baed6"/>
<rect x="27.79" y="141.16" width="4.45" height="7.76" fill="#6baed6"/>
<rect x="32.23" y="141.16" width="4.45" height="7.76" fill="#6baed6"/>
<rect x="36.68" y="141.16" width="4.45" height="7.76" fill="#4292c6"/>
<rect x="41.13" y="141.16" width="4.45" height="7.76" fill="#4292c6"/>
<rect x="45.57" y="141.16" width="4.45" height="7.76" fill="#6baed6"/>
<rect x="50.02" y="141.16" width="4.45" height="7.76" fill="#4292c6"/>
<rect x="54.47" y="141.16" width="4.45" height="7.76" fill="#9ecae1"/>
<rect x="58.91" y="141.16" width="4.45" height="7.76" fill="#9ecae1"/>
<rect x="63.36" y="141.16" width="4.45" height="7.76" fill="#6baed6"/>
<rect x="67.81" y="141.16" width="4.45" height="7.76" fill="#9ecae1"/>
<rect x="72.26" y="141.16" width="4.45" height="7.76" fill="#9ecae1"/>
<rect x="76.70" y="141.16" width="4.45" height="7.76" fill="#9ecae1"/>
<rect x="81.15" y="141.16" width="4.45" height="7.76" fill="#9ecae1"/>
<rect x="85.60" y="141.16" width="4.45" height="7.76" fill="#6baed6"/>
<rect x="90.04" y="141.16" width="4.45" height="7.76" fill="#fc9272"/>
<rect x="94.49" y="141.16" width="4.45" height="7.76" fill="#fc9272"/>
<rect x="98.94" y="141.16" width="4.45" height="7.76" fill="#fc9272"/>
<rect x="103.38" y="141.16" width="4.45" height="7.76" fill="#fb6a4a"/>
<rect x="107.83" y="141.16" width="4.45" height="7.76" fill="#fc9272"/>
<rect x="112.28" y="141.16" width="4.45" height="7.76" fill="#fc9272"/>
<rect x="116.72" y="141.16" width="4.45" height="7.76" fill="#fc9272"/>
<rect x="121.17" y="141.16" width="4.45" height="7.76" fill="#fc9272"/>
<rect x="125.62" y="141.16" width="4.45" height="7.76" fill="#fc9272"/>
<rect x="130.06" y="141.16" width="4.45" height="7.76" fill="#fc9272"/>
<rect x="134.51" y="141.16" width="4.45" height="7.76" fill="#fb6a4a"/>
<rect x="138.96" y="141.16" width="4.45" height="7.76" fill="#fc9272"/>
<rect x="143.40" y="141.16" width="4.45" height="7.76" fill="#fb6a4a"/>
<rect x="147.85" y="141.16" width="4.45" height="7.76" fill="#fb6a4a"/>
<rect x="152.30" y="141.16" width="4.45" height="7.76" fill="#fc9272"/>
<rect x="156.74" y="141.16" width="4.45" height="7.76" fill="#fc9272"/>
<rect x="161.19" y="141.16" width="4.45" height="7.76" fill="#fc9272"/>
<rect x="165.64" y="141.16" width="4.45" height="7.76" fill="#fc9272"/>
<rect x="170.09" y="141.16" width="4.45" height="7.76" fill="#fc9272"/>
<rect x="174.53" y="141.16" width="4.45" height="7.76" fill="#fee0d2"/>
<rect x="178.98" y="141.16" width="4.45" height="7.76" fill="#deebf7"/>
<rect x="183.43" y="141.16" width="4.45" height="7.76" fill="#c6dbef"/>
<rect x="187.87" y="141.16" width="4.45" height="7.76" fill="#c6dbef"/>
<rect x="192.32" y="141.16" width="4.45" height="7.76" fill="#deebf7"/>
<rect x="196.77" y="141.16" width="4.45" height="7.76" fill="#fcbba1"/>
<rect x="201.21" y="141.16" width="4.45" height="7.76" fill="#fcbba1"/>
<rect x="205.66" y="141.16" width="4.45" height="7.76" fill="#fcbba1"/>
<rect x="210.11" y="141.16" width="4.45" height="7.76" fill="#fcbba1"/>
<rect x="214.55" y="141.16" width="4.45" height="7.76" fill="#fcbba1"/>
<rect x="10.00" y="148.91" width="4.45" height="7.76" fill="#6baed6"/>
<rect x="14.45" y="148.91" width="4.45" height="7.76" fill="#6baed6"/>
<rect x="18.89" y="148.91" width="4.45" height="7.76" fill="#6baed6"/>
<rect x="23.34" y="148.91" width="4.45" height="7.76" fill="#6baed6"/>
<rect x="27.79" y="148.91" width="4.45" height="7.76" fill="#c6dbef"/>
<rect x="32.23" y="148.91" width="4.45" height="7.76" fill="#6baed6"/>
<rect x="36.68" y="148.91" width="4.45" height="7.76" fill="#6baed6"/>
<rect x="41.13" y="148.91" width="4.45" height="7.76" fill="#9ecae1"/>
<rect x="45.57" y="148.91" width="4.45" height="7.76" fill="#6baed6"/>
<rect x="50.02" y="148.91" width="4.45" height="7.76" fill="#4292c6"/>
<rect x="54.47" y="148.91" width="4.45" height="7.76" fill="#6baed6"/>
<rect x="58.91" y="148.91" width="4.45" height="7.76" fill="#6baed6"/>
<rect x="63.36" y="148.91" width="4.45" height="7.76" fill="#9ecae1"/>
<rect x="67.81" y="148.91" width="4.45" height="7.76" fill="#9ecae1"/>
<rect x="72.26" y="148.91" width="4.45" height="7.76" fill="#4292c6"/>
<rect x="76.70" y="148.91" width="4.45" height="7.76" fill="#9ecae1"/>
<rect x="81.15" y="148.91" width="4.45" height="7.76" fill="#4292c6"/>
<rect x="85.60" y="148.91" width="4.45" height="7.76" fill="#4292c6"/>
<rect x="90.04" y="148.91" width="4.45" height="7.76" fill="#fcbba1"/>
<rect x="94.49" y="148.91" width="4.45" height="7.76" fill="#fb6a4a"/>
<rect x="98.94" y="148.91" width="4.45" height="7.76" fill="#fc9272"/>
<rect x="103.38" y="148.91" width="4.45" height="7.76" fill="#fcbba1"/>
<rect x="107.83" y="148.91" width="4.45" height="7.76" fill="#fb6a4a"/>
<rect x="112.28" y="148.91" width="4.45" height="7.76" fill="#fc9272"/>
<rect x="116.72" y="148.91" width="4.45" height="7.76" fill="#fcbba1"/>
<rect x="121.17" y="148.91" width="4.45" height="7.76" fill="#fcbba1"/>
<rect x="125.62" y="148.91" width="4.45" height="7.76" fill="#fcbba1"/>
<rect x="130.06" y="148.91" width="4.45" height="7.76" fill="#fcbba1"/>
<rect x="134.51" y="148.91" width="4.45" height="7.76" fill="#fc9272"/>
<rect x="138.96" y="148.91" width="4.45" height="7.76" fill="#fcbba1"/>
<rect x="143.40" y="148.91" width="4.45" height="7.76" fill="#fc9272"/>
<rect x="147.85" y="148.91" width="4.45" height="7.76" fill="#fc9272"/>
<rect x="152.30" y="148.91" width="4.45" height="7.76" fill="#fcbba1"/>
<rect x="156.74" y="148.91" width="4.45" height="7.76" fill="#fc9272"/>
<rect x="161.19" y="148.91" width="4.45" height="7.76" fill="#fcbba1"/>
<rect x="165.64" y="148.91" width="4.45" height="7.76" fill="#fc9272"/>
<rect x="170.09" y="148.91" width="4.45" height="7.76" fill="#fcbba1"/>
<rect x="174.53" y="148.91" width="4.45" height="7.76" fill="#fcbba1"/>
<rect x="178.98" y="148.91" width="4.45" height="7.76" fill="#fc9272"/>
<rect x="183.43" y="148.91" width="4.45" height="7.76" fill="#fee0d2"/>
<rect x="187.87" y="148.91" width="4.45" height="7.76" fill="#fc9272"/>
<rect x="192.32" y="148.91" width="4.45" height="7.76" fill="#deebf7"/>
<rect x="196.77" y="148.91" width="4.45" height="7.76" fill="#deebf7"/>
<rect x="201.21" y="148.91" width="4.45" height="7.76" fill="#deebf7"/>
<rect x="205.66" y="148.91" width="4.45" height="7.76" fill="#c6dbef"/>
<rect x="210.11" y="148.91" width="4.45" height="7.76" fill="#c6dbef"/>
<rect x="214.55" y="148.91" width="4.45" height="7.76" fill="#fee0d2"/>
<rect x="10.00" y="156.67" width="4.45" height="7.76" fill="#6baed6"/>
<rect x="14.45" y="156.67" width="4.45" height="7.76" fill="#4292c6"/>
<rect x="18.89" y="156.67" width="4.45" height="7.76" fill="#4292c6"/>
<rect x="23.34" y="156.67" width="4.45" height="7.76" fill="#6baed6"/>
<rect x="27.79" y="156.67" width="4.45" height="7.76" fill="#4292c6"/>
<rect x="32.23" y="156.67" width="4.45" height="7.76" fill="#4292c6"/>
<rect x="36.68" y="156.67" width="4.45" height="7.76" fill="#6baed6"/>
<rect x="41.13" y="156.67" width="4.45" height="7.76" fill="#9ecae1"/>
<rect x="45.57" y="156.67" width="4.45" height="7.76" fill="#4292c6"/>
<rect x="50.02" y="156.67" width="4.45" height="7.76" fill="#deebf7"/>
<rect x="54.47" y="156.67" width="4.45" height="7.76" fill="#c6dbef"/>
<rect x="58.91" y="156.67" width="4.45" height="7.76" fill="#c6dbef"/>
<rect x="63.36" y="156.67" width="4.45" height="7.76" fill="#c6dbef"/>
<rect x="67.81" y="156.67" width="4.45" height="7.76" fill="#c6dbef"/>
<rect x="72.26" y="156.67" width="4.45" height="7.76" fill="#c6dbef"/>
<rect x="76.70" y="156.67" width="4.45" height="7.76" fill="#c6dbef"/>
<rect x="81.15" y="156.67" width="4.45" height="7.76" fill="#c6dbef"/>
<rect x="85.60" y="156.67" width="4.45" height="7.76" fill="#deebf7"/>
<rect x="90.04" y="156.67" width="4.45" height="7.76" fill="#fee0d2"/>
<rect x="94.49" y="156.67" width="4.45" height="7.76" fill="#fc9272"/>
<rect x="98.94" y="156.67" width="4.45" height="7.76" fill="#fcbba1"/>
<rect x="103.38" y="156.67" width="4.45" height="7.76" fill="#fcbba1"/>
<rect x="107.83" y="156.67" width="4.45" height="7.76" fill="#fcbba1"/>
<rect x="112.28" y="156.67" width="4.45" height="7.76" fill="#fc9272"/>
<rect x="116.72" y="156.67" width="4.45" height="7.76" fill="#fcbba1"/>
<rect x="121.17" y="156.67" width="4.45" height="7.76" fill="#fc9272"/>
<rect x="125.62" y="156.67" width="4.45" height="7.76" fill="#fcbba1"/>
<rect x="130.06" y="156.67" width="4.45" height="7.76" fill="#fc9272"/>
<rect x="134.51" y="156.67" width="4.45" height="7.76" fill="#cb181d"/>
<rect x="138.96" y="156.67" width="4.45" height="7.76" fill="#ef3b2c"/>
<rect x="143.40" y="156.67" width="4.45" height="7.76" fill="#ef3b2c"/>
<rect x="147.85" y="156.67" width="4.45" height="7.76" fill="#cb181d"/>
<rect x="152.30" y="156.67" width="4.45" height="7.76" fill="#ef3b2c"/>
<rect x="156.74" y="156.67" width="4.45" height="7.76" fill="#fb6a4a"/>
<rect x="161.19" y="156.67" width="4.45" height="7.76" fill="#cb181d"/>
<rect x="165.64" y="156.67" width="4.45" height="7.76" fill="#ef3b2c"/>
<rect x="170.09" y="156.67" width="4.45" height="7.76" fill="#ef3b2c"/>
<rect x="174.53" y="156.67" width="4.45" height="7.76" fill="#deebf7"/>
<rect x="178.98" y="156.67" width="4.45" height="7.76" fill="#fee0d2"/>
<rect x="183.43" y="156.67" width="4.45" height="7.76" fill="#deebf7"/>
<rect x="187.87" y="156.67" width="4.45" height="7.76" fill="#fee0d2"/>
<rect x="192.32" y="156.67" width="4.45" height="7.76" fill="#deebf7"/>
<rect x="196.77" y="156.67" width="4.45" height="7.76" fill="#9ecae1"/>
<rect x="201.21" y="156.67" width="4.45" height="7.76" fill="#9ecae1"/>
<rect x="205.66" y="156.67" width="4.45" height="7.76" fill="#4292c6"/>
<rect x="210.11" y="156.67" width="4.45" height="7.76" fill="#c6dbef"/>
<rect x="214.55" y="156.67" width="4.45" height="7.76" fill="#c6dbef"/>
<rect x="10.00" y="164.42" width="4.45" height="7.76" fill="#6baed6"/>
<rect x="14.45" y="164.42" width="4.45" height="7.76" fill="#ef3b2c"/>
<rect x="18.89" y="164.42" width="4.45" height="7.76" fill="#fcbba1"/>
<rect x="23.34" y="164.42" width="4.45" height="7.76" fill="#fee0d2"/>
<rect x="27.79" y="164.42" width="4.45" height="7.76" fill="#6baed6"/>
<rect x="32.23" y="164.42" width="4.45" height="7.76" fill="#fb6a4a"/>
<rect x="36.68" y="164.42" width="4.45" height="7.76" fill="#fb6a4a"/>
<rect x="41.13" y="164.42" width="4.45" height="7.76" fill="#9ecae1"/>
<rect x="45.57" y="164.42" width="4.45" height="7.76" fill="#fc9272"/>
<rect x="50.02" y="164.42" width="4.45" height="7.76" fill="#fc9272"/>
<rect x="54.47" y="164.42" width="4.45" height="7.76" fill="#9ecae1"/>
<rect x="58.91" y="164.42" width="4.45" height="7.76" fill="#fb6a4a"/>
<rect x="63.36" y="164.42" width="4.45" height="7.76" fill="#fee0d2"/>
<rect x="67.81" y="164.42" width="4.45" height="7.76" fill="#deebf7"/>
<rect x="72.26" y="164.42" width="4.45" height="7.76" fill="#cb181d"/>
<rect x="76.70" y="164.42" width="4.45" height="7.76" fill="#fb6a4a"/>
<rect x="81.15" y="164.42" width="4.45" height="7.76" fill="#deebf7"/>
<rect x="85.60" y="164.42" width="4.45" height="7.76" fill="#c6dbef"/>
<rect x="90.04" y="164.42" width="4.45" height="7.76" fill="#deebf7"/>
<rect x="94.49" y="164.42" width="4.45" height="7.76" fill="#c6dbef"/>
<rect x="98.94" y="164.42" width="4.45" height="7.76" fill="#4292c6"/>
<rect x="103.38" y="164.42" width="4.45" height="7.76" fill="#9ecae1"/>
<rect x="107.83" y="164.42" width="4.45" height="7.76" fill="#2171b5"/>
<rect x="112.28" y="164.42" width="4.45" height="7.76" fill="#2171b5"/>
<rect x="116.72" y="164.42" width="4.45" height="7.76" fill="#fee0d2"/>
<rect x="121.17" y="164.42" width="4.45" height="7.76" fill="#fc9272"/>
<rect x="125.62" y="164.42" width="4.45" height="7.76" fill="#9ecae1"/>
<rect x="130.06" y="164.42" width="4.45" height="7.76" fill="#deebf7"/>
<rect x="134.51" y="164.42" width="4.45" height="7.76" fill="#deebf7"/>
<rect x="138.96" y="164.42" width="4.45" height="7.76" fill="#fb6a4a"/>
<rect x="143.40" y="164.42" width="4.45" height="7.76" fill="#fee0d2"/>
<rect x="147.85" y="164.42" width="4.45" height="7.76" fill="#fcbba1"/>
<rect x="152.30" y="164.42" width="4.45" height="7.76" fill="#cb181d"/>
<rect x="156.74" y="164.42" width="4.45" height="7.76" fill="#deebf7"/>
<rect x="161.19" y="164.42" width="4.45" height="7.76" fill="#c6dbef"/>
<rect x="165.64" y="164.42" width="4.45" height="7.76" fill="#fc9272"/>
<rect x="170.09" y="164.42" width="4.45" height="7.76" fill="#cb181d"/>
<rect x="174.53" y="164.42" width="4.45" height="7.76" fill="#fee0d2"/>
<rect x="178.98" y="164.42" width="4.45" height="7.76" fill="#fcbba1"/>
<rect x="183.43" y="164.42" width="4.45" height="7.76" fill="#fcbba1"/>
<rect x="187.87" y="164.42" width="4.45" height="7.76" fill="#6baed6"/>
<rect x="192.32" y="164.42" width="4.45" height="7.76" fill="#9ecae1"/>
<rect x="196.77" y="164.42" width="4.45" height="7.76" fill="#fee0d2"/>
<rect x="201.21" y="164.42" width="4.45" height="7.76" fill="#6baed6"/>
<rect x="205.66" y="164.42" width="4.45" height="7.76" fill="#9ecae1"/>
<rect x="210.11" y="164.42" width="4.45" height="7.76" fill="#fcbba1"/>
<rect x="214.55" y="164.42" width="4.45" height="7.76" fill="#2171b5"/>
<rect x="10.00" y="172.18" width="4.45" height="7.76" fill="#6baed6"/>
<rect x="14.45" y="172.18" width="4.45" height="7.76" fill="#6baed6"/>
<rect x="18.89" y="172.18" width="4.45" height="7.76" fill="#6baed6"/>
<rect x="23.34" y="172.18" width="4.45" height="7.76" fill="#6baed6"/>
<rect x="27.79" y="172.18" width="4.45" height="7.76" fill="#4292c6"/>
<rect x="32.23" y="172.18" width="4.45" height="7.76" fill="#6baed6"/>
<rect x="36.68" y="172.18" width="4.45" height="7.76" fill="#9ecae1"/>
<rect x="41.13" y="172.18" width="4.45" height="7.76" fill="#9ecae1"/>
<rect x="45.57" y="172.18" width="4.45" height="7.76" fill="#6baed6"/>
<rect x="50.02" y="172.18" width="4.45" height="7.76" fill="#9ecae1"/>
<rect x="54.47" y="172.18" width="4.45" height="7.76" fill="#4292c6"/>
<rect x="58.91" y="172.18" width="4.45" height="7.76" fill="#9ecae1"/>
<rect x="63.36" y="172.18" width="4.45" height="7.76" fill="#9ecae1"/>
<rect x="67.81" y="172.18" width="4.45" height="7.76" fill="#6baed6"/>
<rect x="72.26" y="172.18" width="4.45" height="7.76" fill="#9ecae1"/>
<rect x="76.70" y="172.18" width="4.45" height="7.76" fill="#6baed6"/>
<rect x="81.15" y="172.18" width="4.45" height="7.76" fill="#4292c6"/>
<rect x="85.60" y="172.18" width="4.45" height="7.76" fill="#4292c6"/>
<rect x="90.04" y="172.18" width="4.45" height="7.76" fill="#fc9272"/>
<rect x="94.49" y="172.18" width="4.45" height="7.76" fill="#fc9272"/>
<rect x="98.94" y="172.18" width="4.45" height="7.76" fill="#fc9272"/>
<rect x="103.38" y="172.18" width="4.45" height="7.76" fill="#fc9272"/>
<rect x="107.83" y="172.18" width="4.45" height="7.76" fill="#fc9272"/>
<rect x="112.28" y="172.18" width="4.45" height="7.76" fill="#fc9272"/>
<rect x="116.72" y="172.18" width="4.45" height="7.76" fill="#fcbba1"/>
<rect x="121.17" y="172.18" width="4.45" height="7.76" fill="#fc9272"/>
<rect x="125.62" y="172.18" width="4.45" height="7.76" fill="#fcbba1"/>
<rect x="130.06" y="172.18" width="4.45" height="7.76" fill="#fc9272"/>
<rect x="134.51" y="172.18" width="4.45" height="7.76" fill="#fb6a4a"/>
<rect x="138.96" y="172.18" width="4.45" height="7.76" fill="#fb6a4a"/>
<rect x="143.40" y="172.18" width="4.45" height="7.76" fill="#fb6a4a"/>
<rect x="147.85" y="172.18" width="4.45" height="7.76" fill="#ef3b2c"/>
<rect x="152.30" y="172.18" width="4.45" height="7.76" fill="#fb6a4a"/>
<rect x="156.74" y="172.18" width="4.45" height="7.76" fill="#fb6a4a"/>
<rect x="161.19" y="172.18" width="4.45" height="7.76" fill="#fc9272"/>
<rect x="165.64" y="172.18" width="4.45" height="7.76" fill="#ef3b2c"/>
<rect x="170.09" y="172.18" width="4.45" height="7.76" fill="#fb6a4a"/>
<rect x="174.53" y="172.18" width="4.45" height="7.76" fill="#fc9272"/>
<rect x="178.98" y="172.18" width="4.45" height="7.76" fill="#fc9272"/>
<rect x="183.43" y="172.18" width="4.45" height="7.76" fill="#fc9272"/>
<rect x="187.87" y="172.18" width="4.45" height="7.76" fill="#fc9272"/>
<rect x="192.32" y="172.18" width="4.45" height="7.76" fill="#fc9272"/>
<rect x="196.77" y="172.18" width="4.45" height="7.76" fill="#fee0d2"/>
<rect x="201.21" y="172.18" width="4.45" height="7.76" fill="#deebf7"/>
<rect x="205.66" y="172.18" width="4.45" height="7.76" fill="#deebf7"/>
<rect x="210.11" y="172.18" width="4.45" height="7.76" fill="#deebf7"/>
<rect x="214.55" y="172.18" width="4.45" height="7.76" fill="#deebf7"/>
<rect x="10.00" y="179.93" width="4.45" height="7.76" fill="#6baed6"/>
<rect x="14.45" y="179.93" width="4.45" height="7.76" fill="#4292c6"/>
<rect x="18.89" y="179.93" width="4.45" height="7.76" fill="#4292c6"/>
<rect x="23.34" y="179.93" width="4.45" height="7.76" fill="#4292c6"/>
<rect x="27.79" y="179.93" width="4.45" height="7.76" fill="#9ecae1"/>
<rect x="32.23" y="179.93" width="4.45" height="7.76" fill="#4292c6"/>
<rect x="36.68" y="179.93" width="4.45" height="7.76" fill="#6baed6"/>
<rect x="41.13" y="179.93" width="4.45" height="7.76" fill="#6baed6"/>
<rect x="45.57" y="179.93" width="4.45" height="7.76" fill="#9ecae1"/>
<rect x="50.02" y="179.93" width="4.45" height="7.76" fill="#2171b5"/>
<rect x="54.47" y="179.93" width="4.45" height="7.76" fill="#9ecae1"/>
<rect x="58.91" y="179.93" width="4.45" height="7.76" fill="#4292c6"/>
<rect x="63.36" y="179.93" width="4.45" height="7.76" fill="#9ecae1"/>
<rect x="67.81" y="179.93" width="4.45" height="7.76" fill="#c6dbef"/>
<rect x="72.26" y="179.93" width="4.45" height="7.76" fill="#4292c6"/>
<rect x="76.70" y="179.93" width="4.45" height="7.76" fill="#6baed6"/>
<rect x="81.15" y="179.93" width="4.45" height="7.76" fill="#c6dbef"/>
<rect x="85.60" y="179.93" width="4.45" height="7.76" fill="#c6dbef"/>
<rect x="90.04" y="179.93" width="4.45" height="7.76" fill="#fb6a4a"/>
<rect x="94.49" y="179.93" width="4.45" height="7.76" fill="#fb6a4a"/>
<rect x="98.94" y="179.93" width="4.45" height="7.76" fill="#fb6a4a"/>
<rect x="103.38" y="179.93" width="4.45" height="7.76" fill="#fb6a4a"/>
<rect x="107.83" y="179.93" width="4.45" height="7.76" fill="#fb6a4a"/>
<rect x="112.28" y="179.93" width="4.45" height="7.76" fill="#fb6a4a"/>
<rect x="116.72" y="179.93" width="4.45" height="7.76" fill="#ef3b2c"/>
<rect x="121.17" y="179.93" width="4.45" height="7.76" fill="#fc9272"/>
<rect x="125.62" y="179.93" width="4.45" height="7.76" fill="#fc9272"/>
<rect x="130.06" y="179.93" width="4.45" height="7.76" fill="#fb6a4a"/>
<rect x="134.51" y="179.93" width="4.45" height="7.76" fill="#fc9272"/>
<rect x="138.96" y="179.93" width="4.45" height="7.76" fill="#fcbba1"/>
<rect x="143.40" y="179.93" width="4.45" height="7.76" fill="#fc9272"/>
<rect x="147.85" y="179.93" width="4.45" height="7.76" fill="#fcbba1"/>
<rect x="152.30" y="179.93" width="4.45" height="7.76" fill="#fc9272"/>
<rect x="156.74" y="179.93" width="4.45" height="7.76" fill="#fc9272"/>
<rect x="161.19" y="179.93" width="4.45" height="7.76" fill="#fc9272"/>
<rect x="165.64" y="179.93" width="4.45" height="7.76" fill="#fc9272"/>
<rect x="170.09" y="179.93" width="4.45" height="7.76" fill="#fcbba1"/>
<rect x="174.53" y="179.93" width="4.45" height="7.76" fill="#deebf7"/>
<rect x="178.98" y="179.93" width="4.45" height="7.76" fill="#fee0d2"/>
<rect x="183.43" y="179.93" width="4.45" height="7.76" fill="#deebf7"/>
<rect x="187.87" y="179.93" width="4.45" height="7.76" fill="#deebf7"/>
<rect x="192.32" y="179.93" width="4.45" height="7.76" fill="#fee0d2"/>
<rect x="196.77" y="179.93" width="4.45" height="7.76" fill="#deebf7"/>
<rect x="201.21" y="179.93" width="4.45" height="7.76" fill="#fee0d2"/>
<rect x="205.66" y="179.93" width="4.45" height="7.76" fill="#deebf7"/>
<rect x="210.11" y="179.93" width="4.45" height="7.76" fill="#fee0d2"/>
<rect x="214.55" y="179.93" width="4.45" height="7.76" fill="#fb6a4a"/>
<rect x="10.00" y="187.69" width="4.45" height="7.76" fill="#9ecae1"/>
<rect x="14.45" y="187.69" width="4.45" height="7.76" fill="#9ecae1"/>
<rect x="18.89" y="187.69" width="4.45" height="7.76" fill="#6baed6"/>
<rect x="23.34" y="187.69" width="4.45" height="7.76" fill="#9ecae1"/>
<rect x="27.79" y="187.69" width="4.45" height="7.76" fill="#6baed6"/>
<rect x="32.23" y="187.69" width="4.45" height="7.76" fill="#fcbba1"/>
<rect x="36.68" y="187.69" width="4.45" height="7.76" fill="#6baed6"/>
<rect x="41.13" y="187.69" width="4.45" height="7.76" fill="#9ecae1"/>
<rect x="45.57" y="187.69" width="4.45" height="7.76" fill="#9ecae1"/>
<rect x="50.02" y="187.69" width="4.45" height="7.76" fill="#9ecae1"/>
<rect x="54.47" y="187.69" width="4.45" height="7.76" fill="#deebf7"/>
<rect x="58.91" y="187.69" width="4.45" height="7.76" fill="#9ecae1"/>
<rect x="63.36" y="187.69" width="4.45" height="7.76" fill="#deebf7"/>
<rect x="67.81" y="187.69" width="4.45" height="7.76" fill="#9ecae1"/>
<rect x="72.26" y="187.69" width="4.45" height="7.76" fill="#c6dbef"/>
<rect x="76.70" y="187.69" width="4.45" height="7.76" fill="#9ecae1"/>
<rect x="81.15" y="187.69" width="4.45" height="7.76" fill="#c6dbef"/>
<rect x="85.60" y="187.69" width="4.45" height="7.76" fill="#9ecae1"/>
<rect x="90.04" y="187.69" width="4.45" height="7.76" fill="#fb6a4a"/>
<rect x="94.49" y="187.69" width="4.45" height="7.76" fill="#fee0d2"/>
<rect x="98.94" y="187.69" width="4.45" height="7.76" fill="#fc9272"/>
<rect x="103.38" y="187.69" width="4.45" height="7.76" fill="#fc9272"/>
<rect x="107.83" y="187.69" width="4.45" height="7.76" fill="#fc9272"/>
<rect x="112.28" y="187.69" width="4.45" height="7.76" fill="#fb6a4a"/>
<rect x="116.72" y="187.69" width="4.45" height="7.76" fill="#cb181d"/>
<rect x="121.17" y="187.69" width="4.45" height="7.76" fill="#fb6a4a"/>
<rect x="125.62" y="187.69" width="4.45" height="7.76" fill="#fb6a4a"/>
<rect x="130.06" y="187.69" width="4.45" height="7.76" fill="#fb6a4a"/>
<rect x="134.51" y="187.69" width="4.45" height="7.76" fill="#fc9272"/>
<rect x="138.96" y="187.69" width="4.45" height="7.76" fill="#fb6a4a"/>
<rect x="143.40" y="187.69" width="4.45" height="7.76" fill="#fb6a4a"/>
<rect x="147.85" y="187.69" width="4.45" height="7.76" fill="#fb6a4a"/>
<rect x="152.30" y="187.69" width="4.45" height="7.76" fill="#fb6a4a"/>
<rect x="156.74" y="187.69" width="4.45" height="7.76" fill="#fc9272"/>
<rect x="161.19" y="187.69" width="4.45" height="7.76" fill="#cb181d"/>
<rect x="165.64" y="187.69" width="4.45" height="7.76" fill="#fb6a4a"/>
<rect x="170.09" y="187.69" width="4.45" height="7.76" fill="#fcbba1"/>
<rect x="174.53" y="187.69" width="4.45" height="7.76" fill="#9ecae1"/>
<rect x="178.98" y="187.69" width="4.45" height="7.76" fill="#9ecae1"/>
<rect x="183.43" y="187.69" width="4.45" height="7.76" fill="#9ecae1"/>
<rect x="187.87" y="187.69" width="4.45" height="7.76" fill="#9ecae1"/>
<rect x="192.32" y="187.69" width="4.45" height="7.76" fill="#9ecae1"/>
<rect x="196.77" y="187.69" width="4.45" height="7.76" fill="#9ecae1"/>
<rect x="201.21" y="187.69" width="4.45" height="7.76" fill="#9ecae1"/>
<rect x="205.66" y="187.69" width="4.45" height="7.76" fill="#6baed6"/>
<rect x="210.11" y="187.69" width="4.45" height="7.76" fill="#c6dbef"/>
<rect x="214.55" y="187.69" width="4.45" height="7.76" fill="#c6dbef"/>
<rect x="10.00" y="195.44" width="4.45" height="7.76" fill="#deebf7"/>
<rect x="14.45" y="195.44" width="4.45" height="7.76" fill="#9ecae1"/>
<rect x="18.89" y="195.44" width="4.45" height="7.76" fill="#9ecae1"/>
<rect x="23.34" y="195.44" width="4.45" height="7.76" fill="#9ecae1"/>
<rect x="27.79" y="195.44" width="4.45" height="7.76" fill="#9ecae1"/>
<rect x="32.23" y="195.44" width="4.45" height="7.76" fill="#9ecae1"/>
<rect x="36.68" y="195.44" width="4.45" height="7.76" fill="#9ecae1"/>
<rect x="41.13" y="195.44" width="4.45" height="7.76" fill="#9ecae1"/>
<rect x="45.57" y="195.44" width="4.45" height="7.76" fill="#deebf7"/>
<rect x="50.02" y="195.44" width="4.45" height="7.76" fill="#4292c6"/>
<rect x="54.47" y="195.44" width="4.45" height="7.76" fill="#deebf7"/>
<rect x="58.91" y="195.44" width="4.45" height="7.76" fill="#9ecae1"/>
<rect x="63.36" y="195.44" width="4.45" height="7.76" fill="#9ecae1"/>
<rect x="67.81" y="195.44" width="4.45" height="7.76" fill="#6baed6"/>
<rect x="72.26" y="195.44" width="4.45" height="7.76" fill="#9ecae1"/>
<rect x="76.70" y="195.44" width="4.45" height="7.76" fill="#9ecae1"/>
<rect x="81.15" y="195.44" width="4.45" height="7.76" fill="#4292c6"/>
<rect x="85.60" y="195.44" width="4.45" height="7.76" fill="#c6dbef"/>
<rect x="90.04" y="195.44" width="4.45" height="7.76" fill="#c6dbef"/>
<rect x="94.49" y="195.44" width="4.45" height="7.76" fill="#deebf7"/>
<rect x="98.94" y="195.44" width="4.45" height="7.76" fill="#fee0d2"/>
<rect x="103.38" y="195.44" width="4.45" height="7.76" fill="#fee0d2"/>
<rect x="107.83" y="195.44" width="4.45" height="7.76" fill="#deebf7"/>
<rect x="112.28" y="195.44" width="4.45" height="7.76" fill="#fee0d2"/>
<rect x="116.72" y="195.44" width="4.45" height="7.76" fill="#ef3b2c"/>
<rect x="121.17" y="195.44" width="4.45" height="7.76" fill="#fee0d2"/>
<rect x="125.62" y="195.44" width="4.45" height="7.76" fill="#9ecae1"/>
<rect x="130.06" y="195.44" width="4.45" height="7.76" fill="#fee0d2"/>
<rect x="134.51" y="195.44" width="4.45" height="7.76" fill="#cb181d"/>
<rect x="138.96" y="195.44" width="4.45" height="7.76" fill="#fb6a4a"/>
<rect x="143.40" y="195.44" width="4.45" height="7.76" fill="#cb181d"/>
<rect x="147.85" y="195.44" width="4.45" height="7.76" fill="#ef3b2c"/>
<rect x="152.30" y="195.44" width="4.45" height="7.76" fill="#a50f15"/>
<rect x="156.74" y="195.44" width="4.45" height="7.76" fill="#cb181d"/>
<rect x="161.19" y="195.44" width="4.45" height="7.76" fill="#cb181d"/>
<rect x="165.64" y="195.44" width="4.45" height="7.76" fill="#ef3b2c"/>
<rect x="170.09" y="195.44" width="4.45" height="7.76" fill="#ef3b2c"/>
<rect x="174.53" y="195.44" width="4.45" height="7.76" fill="#9ecae1"/>
<rect x="178.98" y="195.44" width="4.45" height="7.76" fill="#deebf7"/>
<rect x="183.43" y="195.44" width="4.45" height="7.76" fill="#4292c6"/>
<rect x="187.87" y="195.44" width="4.45" height="7.76" fill="#9ecae1"/>
<rect x="192.32" y="195.44" width="4.45" height="7.76" fill="#9ecae1"/>
<rect x="196.77" y="195.44" width="4.45" height="7.76" fill="#fcbba1"/>
<rect x="201.21" y="195.44" width="4.45" height="7.76" fill="#deebf7"/>
<rect x="205.66" y="195.44" width="4.45" height="7.76" fill="#fee0d2"/>
<rect x="210.11" y="195.44" width="4.45" height="7.76" fill="#deebf7"/>
<rect x="214.55" y="195.44" width="4.45" height="7.76" fill="#fee0d2"/>
<rect x="10.00" y="203.20" width="4.45" height="7.76" fill="#6baed6"/>
<rect x="14.45" y="203.20" width="4.45" height="7.76" fill="#6baed6"/>
<rect x="18.89" y="203.20" width="4.45" height="7.76" fill="#9ecae1"/>
<rect x="23.34" y="203.20" width="4.45" height="7.76" fill="#6baed6"/>
<rect x="27.79" y="203.20" width="4.45" height="7.76" fill="#6baed6"/>
<rect x="32.23" y="203.20" width="4.45" height="7.76" fill="#9ecae1"/>
<rect x="36.68" y="203.20" width="4.45" height="7.76" fill="#6baed6"/>
<rect x="41.13" y="203.20" width="4.45" height="7.76" fill="#6baed6"/>
<rect x="45.57" y="203.20" width="4.45" height="7.76" fill="#9ecae1"/>
<rect x="50.02" y="203.20" width="4.45" height="7.76" fill="#4292c6"/>
<rect x="54.47" y="203.20" width="4.45" height="7.76" fill="#6baed6"/>
<rect x="58.91" y="203.20" width="4.45" height="7.76" fill="#6baed6"/>
<rect x="63.36" y="203.20" width="4.45" height="7.76" fill="#6baed6"/>
<rect x="67.81" y="203.20" width="4.45" height="7.76" fill="#6baed6"/>
<rect x="72.26" y="203.20" width="4.45" height="7.76" fill="#6baed6"/>
<rect x="76.70" y="203.20" width="4.45" height="7.76" fill="#6baed6"/>
<rect x="81.15" y="203.20" width="4.45" height="7.76" fill="#4292c6"/>
<rect x="85.60" y="203.20" width="4.45" height="7.76" fill="#4292c6"/>
<rect x="90.04" y="203.20" width="4.45" height="7.76" fill="#deebf7"/>
<rect x="94.49" y="203.20" width="4.45" height="7.76" fill="#deebf7"/>
<rect x="98.94" y="203.20" width="4.45" height="7.76" fill="#fee0d2"/>
<rect x="103.38" y="203.20" width="4.45" height="7.76" fill="#fee0d2"/>
<rect x="107.83" y="203.20" width="4.45" height="7.76" fill="#fee0d2"/>
<rect x="112.28" y="203.20" width="4.45" height="7.76" fill="#fee0d2"/>
<rect x="116.72" y="203.20" width="4.45" height="7.76" fill="#fee0d2"/>
<rect x="121.17" y="203.20" width="4.45" height="7.76" fill="#fee0d2"/>
<rect x="125.62" y="203.20" width="4.45" height="7.76" fill="#c6dbef"/>
<rect x="130.06" y="203.20" width="4.45" height="7.76" fill="#fee0d2"/>
<rect x="134.51" y="203.20" width="4.45" height="7.76" fill="#fb6a4a"/>
<rect x="138.96" y="203.20" width="4.45" height="7.76" fill="#fb6a4a"/>
<rect x="143.40" y="203.20" width="4.45" height="7.76" fill="#fb6a4a"/>
<rect x="147.85" y="203.20" width="4.45" height="7.76" fill="#cb181d"/>
<rect x="152.30" y="203.20" width="4.45" height="7.76" fill="#fb6a4a"/>
<rect x="156.74" y="203.20" width="4.45" height="7.76" fill="#fb6a4a"/>
<rect x="161.19" y="203.20" width="4.45" height="7.76" fill="#fb6a4a"/>
<rect x="165.64" y="203.20" width="4.45" height="7.76" fill="#fb6a4a"/>
<rect x="170.09" y="203.20" width="4.45" height="7.76" fill="#fb6a4a"/>
<rect x="174.53" y="203.20" width="4.45" height="7.76" fill="#fc9272"/>
<rect x="178.98" y="203.20" width="4.45" height="7.76" fill="#fc9272"/>
<rect x="183.43" y="203.20" width="4.45" height="7.76" fill="#fb6a4a"/>
<rect x="187.87" y="203.20" width="4.45" height="7.76" fill="#fc9272"/>
<rect x="192.32" y="203.20" width="4.45" height="7.76" fill="#fc9272"/>
<rect x="196.77" y="203.20" width="4.45" height="7.76" fill="#fc9272"/>
<rect x="201.21" y="203.20" width="4.45" height="7.76" fill="#fc9272"/>
<rect x="205.66" y="203.20" width="4.45" height="7.76" fill="#fc9272"/>
<rect x="210.11" y="203.20" width="4.45" height="7.76" fill="#fc9272"/>
<rect x="214.55" y="203.20" width="4.45" height="7.76" fill="#fc9272"/>
<rect x="10.00" y="210.96" width="4.45" height="7.76" fill="#c6dbef"/>
<rect x="14.45" y="210.96" width="4.45" height="7.76" fill="#deebf7"/>
<rect x="18.89" y="210.96" width="4.45" height="7.76" fill="#fcbba1"/>
<rect x="23.34" y="210.96" width="4.45" height="7.76" fill="#deebf7"/>
<rect x="27.79" y="210.96" width="4.45" height="7.76" fill="#ef3b2c"/>
<rect x="32.23" y="210.96" width="4.45" height="7.76" fill="#fcbba1"/>
<rect x="36.68" y="210.96" width="4.45" height="7.76" fill="#deebf7"/>
<rect x="41.13" y="210.96" width="4.45" height="7.76" fill="#fc9272"/>
<rect x="45.57" y="210.96" width="4.45" height="7.76" fill="#fc9272"/>
<rect x="50.02" y="210.96" width="4.45" height="7.76" fill="#9ecae1"/>
<rect x="54.47" y="210.96" width="4.45" height="7.76" fill="#fcbba1"/>
<rect x="58.91" y="210.96" width="4.45" height="7.76" fill="#ef3b2c"/>
<rect x="63.36" y="210.96" width="4.45" height="7.76" fill="#ef3b2c"/>
<rect x="67.81" y="210.96" width="4.45" height="7.76" fill="#ef3b2c"/>
<rect x="72.26" y="210.96" width="4.45" height="7.76" fill="#fc9272"/>
<rect x="76.70" y="210.96" width="4.45" height="7.76" fill="#cb181d"/>
<rect x="81.15" y="210.96" width="4.45" height="7.76" fill="#deebf7"/>
<rect x="85.60" y="210.96" width="4.45" height="7.76" fill="#fcbba1"/>
<rect x="90.04" y="210.96" width="4.45" height="7.76" fill="#6baed6"/>
<rect x="94.49" y="210.96" width="4.45" height="7.76" fill="#4292c6"/>
<rect x="98.94" y="210.96" width="4.45" height="7.76" fill="#6baed6"/>
<rect x="103.38" y="210.96" width="4.45" height="7.76" fill="#4292c6"/>
<rect x="107.83" y="210.96" width="4.45" height="7.76" fill="#9ecae1"/>
<rect x="112.28" y="210.96" width="4.45" height="7.76" fill="#fee0d2"/>
<rect x="116.72" y="210.96" width="4.45" height="7.76" fill="#4292c6"/>
<rect x="121.17" y="210.96" width="4.45" height="7.76" fill="#9ecae1"/>
<rect x="125.62" y="210.96" width="4.45" height="7.76" fill="#fee0d2"/>
<rect x="130.06" y="210.96" width="4.45" height="7.76" fill="#4292c6"/>
<rect x="134.51" y="210.96" width="4.45" height="7.76" fill="#fb6a4a"/>
<rect x="138.96" y="210.96" width="4.45" height="7.76" fill="#fb6a4a"/>
<rect x="143.40" y="210.96" width="4.45" height="7.76" fill="#c6dbef"/>
<rect x="147.85" y="210.96" width="4.45" height="7.76" fill="#fee0d2"/>
<rect x="152.30" y="210.96" width="4.45" height="7.76" fill="#fcbba1"/>
<rect x="156.74" y="210.96" width="4.45" height="7.76" fill="#fee0d2"/>
<rect x="161.19" y="210.96" width="4.45" height="7.76" fill="#c6dbef"/>
<rect x="165.64" y="210.96" width="4.45" height="7.76" fill="#fee0d2"/>
<rect x="170.09" y="210.96" width="4.45" height="7.76" fill="#fee0d2"/>
<rect x="174.53" y="210.96" width="4.45" height="7.76" fill="#9ecae1"/>
<rect x="178.98" y="210.96" width="4.45" height="7.76" fill="#6baed6"/>
<rect x="183.43" y="210.96" width="4.45" height="7.76" fill="#9ecae1"/>
<rect x="187.87" y="210.96" width="4.45" height="7.76" fill="#6baed6"/>
<rect x="192.32" y="210.96" width="4.45" height="7.76" fill="#deebf7"/>
<rect x="196.77" y="210.96" width="4.45" height="7.76" fill="#ef3b2c"/>
<rect x="201.21" y="210.96" width="4.45" height="7.76" fill="#fee0d2"/>
<rect x="205.66" y="210.96" width="4.45" height="7.76" fill="#fcbba1"/>
<rect x="210.11" y="210.96" width="4.45" height="7.76" fill="#ef3b2c"/>
<rect x="214.55" y="210.96" width="4.45" height="7.76" fill="#fee0d2"/>
<rect x="10.00" y="218.71" width="4.45" height="7.76" fill="#c6dbef"/>
<rect x="14.45" y="218.71" width="4.45" height="7.76" fill="#fb6a4a"/>
<rect x="18.89" y="218.71" width="4.45" height="7.76" fill="#ef3b2c"/>
<rect x="23.34" y="218.71" width="4.45" height="7.76" fill="#fb6a4a"/>
<rect x="27.79" y="218.71" width="4.45" height="7.76" fill="#fcbba1"/>
<rect x="32.23" y="218.71" width="4.45" height="7.76" fill="#fcbba1"/>
<rect x="36.68" y="218.71" width="4.45" height="7.76" fill="#fcbba1"/>
<rect x="41.13" y="218.71" width="4.45" height="7.76" fill="#fcbba1"/>
<rect x="45.57" y="218.71" width="4.45" height="7.76" fill="#fc9272"/>
<rect x="50.02" y="218.71" width="4.45" height="7.76" fill="#ef3b2c"/>
<rect x="54.47" y="218.71" width="4.45" height="7.76" fill="#fcbba1"/>
<rect x="58.91" y="218.71" width="4.45" height="7.76" fill="#c6dbef"/>
<rect x="63.36" y="218.71" width="4.45" height="7.76" fill="#fcbba1"/>
<rect x="67.81" y="218.71" width="4.45" height="7.76" fill="#fee0d2"/>
<rect x="72.26" y="218.71" width="4.45" height="7.76" fill="#c6dbef"/>
<rect x="76.70" y="218.71" width="4.45" height="7.76" fill="#fcbba1"/>
<rect x="81.15" y="218.71" width="4.45" height="7.76" fill="#9ecae1"/>
<rect x="85.60" y="218.71" width="4.45" height="7.76" fill="#cb181d"/>
<rect x="90.04" y="218.71" width="4.45" height="7.76" fill="#cb181d"/>
<rect x="94.49" y="218.71" width="4.45" height="7.76" fill="#9ecae1"/>
<rect x="98.94" y="218.71" width="4.45" height="7.76" fill="#fc9272"/>
<rect x="103.38" y="218.71" width="4.45" height="7.76" fill="#fb6a4a"/>
<rect x="107.83" y="218.71" width="4.45" height="7.76" fill="#c6dbef"/>
<rect x="112.28" y="218.71" width="4.45" height="7.76" fill="#9ecae1"/>
<rect x="116.72" y="218.71" width="4.45" height="7.76" fill="#fcbba1"/>
<rect x="121.17" y="218.71" width="4.45" height="7.76" fill="#fee0d2"/>
<rect x="125.62" y="218.71" width="4.45" height="7.76" fill="#cb181d"/>
<rect x="130.06" y="218.71" width="4.45" height="7.76" fill="#fb6a4a"/>
<rect x="134.51" y="218.71" width="4.45" height="7.76" fill="#4292c6"/>
<rect x="138.96" y="218.71" width="4.45" height="7.76" fill="#2171b5"/>
<rect x="143.40" y="218.71" width="4.45" height="7.76" fill="#6baed6"/>
<rect x="147.85" y="218.71" width="4.45" height="7.76" fill="#deebf7"/>
<rect x="152.30" y="218.71" width="4.45" height="7.76" fill="#c6dbef"/>
<rect x="156.74" y="218.71" width="4.45" height="7.76" fill="#2171b5"/>
<rect x="161.19" y="218.71" width="4.45" height="7.76" fill="#9ecae1"/>
<rect x="165.64" y="218.71" width="4.45" height="7.76" fill="#6baed6"/>
<rect x="170.09" y="218.71" width="4.45" height="7.76" fill="#2171b5"/>
<rect x="174.53" y="218.71" width="4.45" height="7.76" fill="#c6dbef"/>
<rect x="178.98" y="218.71" width="4.45" height="7.76" fill="#c6dbef"/>
<rect x="183.43" y="218.71" width="4.45" height="7.76" fill="#fee0d2"/>
<rect x="187.87" y="218.71" width="4.45" height="7.76" fill="#fb6a4a"/>
<rect x="192.32" y="218.71" width="4.45" height="7.76" fill="#deebf7"/>
<rect x="196.77" y="218.71" width="4.45" height="7.76" fill="#c6dbef"/>
<rect x="201.21" y="218.71" width="4.45" height="7.76" fill="#c6dbef"/>
<rect x="205.66" y="218.71" width="4.45" height="7.76" fill="#9ecae1"/>
<rect x="210.11" y="218.71" width="4.45" height="7.76" fill="#fee0d2"/>
<rect x="214.55" y="218.71" width="4.45" height="7.76" fill="#fee0d2"/>
<rect x="10.00" y="226.47" width="4.45" height="7.76" fill="#fee0d2"/>
<rect x="14.45" y="226.47" width="4.45" height="7.76" fill="#fc9272"/>
<rect x="18.89" y="226.47" width="4.45" height="7.76" fill="#c6dbef"/>
<rect x="23.34" y="226.47" width="4.45" height="7.76" fill="#c6dbef"/>
<rect x="27.79" y="226.47" width="4.45" height="7.76" fill="#fee0d2"/>
<rect x="32.23" y="226.47" width="4.45" height="7.76" fill="#9ecae1"/>
<rect x="36.68" y="226.47" width="4.45" height="7.76" fill="#deebf7"/>
<rect x="41.13" y="226.47" width="4.45" height="7.76" fill="#c6dbef"/>
<rect x="45.57" y="226.47" width="4.45" height="7.76" fill="#9ecae1"/>
<rect x="50.02" y="226.47" width="4.45" height="7.76" fill="#fb6a4a"/>
<rect x="54.47" y="226.47" width="4.45" height="7.76" fill="#a50f15"/>
<rect x="58.91" y="226.47" width="4.45" height="7.76" fill="#fee0d2"/>
<rect x="63.36" y="226.47" width="4.45" height="7.76" fill="#fcbba1"/>
<rect x="67.81" y="226.47" width="4.45" height="7.76" fill="#fee0d2"/>
<rect x="72.26" y="226.47" width="4.45" height="7.76" fill="#fb6a4a"/>
<rect x="76.70" y="226.47" width="4.45" height="7.76" fill="#9ecae1"/>
<rect x="81.15" y="226.47" width="4.45" height="7.76" fill="#c6dbef"/>
<rect x="85.60" y="226.47" width="4.45" height="7.76" fill="#cb181d"/>
<rect x="90.04" y="226.47" width="4.45" height="7.76" fill="#fee0d2"/>
<rect x="94.49" y="226.47" width="4.45" height="7.76" fill="#fee0d2"/>
<rect x="98.94" y="226.47" width="4.45" height="7.76" fill="#4292c6"/>
<rect x="103.38" y="226.47" width="4.45" height="7.76" fill="#9ecae1"/>
<rect x="107.83" y="226.47" width="4.45" height="7.76" fill="#fb6a4a"/>
<rect x="112.28" y="226.47" width="4.45" height="7.76" fill="#9ecae1"/>
<rect x="116.72" y="226.47" width="4.45" height="7.76" fill="#6baed6"/>
<rect x="121.17" y="226.47" width="4.45" height="7.76" fill="#fee0d2"/>
<rect x="125.62" y="226.47" width="4.45" height="7.76" fill="#fcbba1"/>
<rect x="130.06" y="226.47" width="4.45" height="7.76" fill="#fee0d2"/>
<rect x="134.51" y="226.47" width="4.45" height="7.76" fill="#c6dbef"/>
<rect x="138.96" y="226.47" width="4.45" height="7.76" fill="#deebf7"/>
<rect x="143.40" y="226.47" width="4.45" height="7.76" fill="#9ecae1"/>
<rect x="147.85" y="226.47" width="4.45" height="7.76" fill="#4292c6"/>
<rect x="152.30" y="226.47" width="4.45" height="7.76" fill="#08519c"/>
<rect x="156.74" y="226.47" width="4.45" height="7.76" fill="#4292c6"/>
<rect x="161.19" y="226.47" width="4.45" height="7.76" fill="#9ecae1"/>
<rect x="165.64" y="226.47" width="4.45" height="7.76" fill="#9ecae1"/>
<rect x="170.09" y="226.47" width="4.45" height="7.76" fill="#fcbba1"/>
<rect x="174.53" y="226.47" width="4.45" height="7.76" fill="#fc9272"/>
<rect x="178.98" y="226.47" width="4.45" height="7.76" fill="#deebf7"/>
<rect x="183.43" y="226.47" width="4.45" height="7.76" fill="#deebf7"/>
<rect x="187.87" y="226.47" width="4.45" height="7.76" fill="#fc9272"/>
<rect x="192.32" y="226.47" width="4.45" height="7.76" fill="#6baed6"/>
<rect x="196.77" y="226.47" width="4.45" height="7.76" fill="#9ecae1"/>
<rect x="201.21" y="226.47" width="4.45" height="7.76" fill="#fb6a4a"/>
<rect x="205.66" y="226.47" width="4.45" height="7.76" fill="#cb181d"/>
<rect x="210.11" y="226.47" width="4.45" height="7.76" fill="#ef3b2c"/>
<rect x="214.55" y="226.47" width="4.45" height="7.76" fill="#fee0d2"/>
<rect x="10.00" y="234.22" width="4.45" height="7.76" fill="#9ecae1"/>
<rect x="14.45" y="234.22" width="4.45" height="7.76" fill="#6baed6"/>
<rect x="18.89" y="234.22" width="4.45" height="7.76" fill="#6baed6"/>
<rect x="23.34" y="234.22" width="4.45" height="7.76" fill="#6baed6"/>
<rect x="27.79" y="234.22" width="4.45" height="7.76" fill="#9ecae1"/>
<rect x="32.23" y="234.22" width="4.45" height="7.76" fill="#6baed6"/>
<rect x="36.68" y="234.22" width="4.45" height="7.76" fill="#9ecae1"/>
<rect x="41.13" y="234.22" width="4.45" height="7.76" fill="#6baed6"/>
<rect x="45.57" y="234.22" width="4.45" height="7.76" fill="#9ecae1"/>
<rect x="50.02" y="234.22" width="4.45" height="7.76" fill="#c6dbef"/>
<rect x="54.47" y="234.22" width="4.45" height="7.76" fill="#deebf7"/>
<rect x="58.91" y="234.22" width="4.45" height="7.76" fill="#9ecae1"/>
<rect x="63.36" y="234.22" width="4.45" height="7.76" fill="#9ecae1"/>
<rect x="67.81" y="234.22" width="4.45" height="7.76" fill="#6baed6"/>
<rect x="72.26" y="234.22" width="4.45" height="7.76" fill="#9ecae1"/>
<rect x="76.70" y="234.22" width="4.45" height="7.76" fill="#9ecae1"/>
<rect x="81.15" y="234.22" width="4.45" height="7.76" fill="#deebf7"/>
<rect x="85.60" y="234.22" width="4.45" height="7.76" fill="#c6dbef"/>
<rect x="90.04" y="234.22" width="4.45" height="7.76" fill="#fcbba1"/>
<rect x="94.49" y="234.22" width="4.45" height="7.76" fill="#fc9272"/>
<rect x="98.94" y="234.22" width="4.45" height="7.76" fill="#fc9272"/>
<rect x="103.38" y="234.22" width="4.45" height="7.76" fill="#fcbba1"/>
<rect x="107.83" y="234.22" width="4.45" height="7.76" fill="#fb6a4a"/>
<rect x="112.28" y="234.22" width="4.45" height="7.76" fill="#fc9272"/>
<rect x="116.72" y="234.22" width="4.45" height="7.76" fill="#fc9272"/>
<rect x="121.17" y="234.22" width="4.45" height="7.76" fill="#fcbba1"/>
<rect x="125.62" y="234.22" width="4.45" height="7.76" fill="#fc9272"/>
<rect x="130.06" y="234.22" width="4.45" height="7.76" fill="#fcbba1"/>
<rect x="134.51" y="234.22" width="4.45" height="7.76" fill="#deebf7"/>
<rect x="138.96" y="234.22" width="4.45" height="7.76" fill="#c6dbef"/>
<rect x="143.40" y="234.22" width="4.45" height="7.76" fill="#deebf7"/>
<rect x="147.85" y="234.22" width="4.45" height="7.76" fill="#c6dbef"/>
<rect x="152.30" y="234.22" width="4.45" height="7.76" fill="#deebf7"/>
<rect x="156.74" y="234.22" width="4.45" height="7.76" fill="#deebf7"/>
<rect x="161.19" y="234.22" width="4.45" height="7.76" fill="#deebf7"/>
<rect x="165.64" y="234.22" width="4.45" height="7.76" fill="#c6dbef"/>
<rect x="170.09" y="234.22" width="4.45" height="7.76" fill="#ef3b2c"/>
<rect x="174.53" y="234.22" width="4.45" height="7.76" fill="#ef3b2c"/>
<rect x="178.98" y="234.22" width="4.45" height="7.76" fill="#a50f15"/>
<rect x="183.43" y="234.22" width="4.45" height="7.76" fill="#ef3b2c"/>
<rect x="187.87" y="234.22" width="4.45" height="7.76" fill="#cb181d"/>
<rect x="192.32" y="234.22" width="4.45" height="7.76" fill="#cb181d"/>
<rect x="196.77" y="234.22" width="4.45" height="7.76" fill="#fee0d2"/>
<rect x="201.21" y="234.22" width="4.45" height="7.76" fill="#fcbba1"/>
<rect x="205.66" y="234.22" width="4.45" height="7.76" fill="#fcbba1"/>
<rect x="210.11" y="234.22" width="4.45" height="7.76" fill="#fcbba1"/>
<rect x="214.55" y="234.22" width="4.45" height="7.76" fill="#fcbba1"/>
<rect x="10.00" y="241.98" width="4.45" height="7.76" fill="#cb181d"/>
<rect x="14.45" y="241.98" width="4.45" height="7.76" fill="#fcbba1"/>
<rect x="18.89" y="241.98" width="4.45" height="7.76" fill="#fc9272"/>
<rect x="23.34" y="241.98" width="4.45" height="7.76" fill="#fb6a4a"/>
<rect x="27.79" y="241.98" width="4.45" height="7.76" fill="#fc9272"/>
<rect x="32.23" y="241.98" width="4.45" height="7.76" fill="#fc9272"/>
<rect x="36.68" y="241.98" width="4.45" height="7.76" fill="#fc9272"/>
<rect x="41.13" y="241.98" width="4.45" height="7.76" fill="#fb6a4a"/>
<rect x="45.57" y="241.98" width="4.45" height="7.76" fill="#cb181d"/>
<rect x="50.02" y="241.98" width="4.45" height="7.76" fill="#fee0d2"/>
<rect x="54.47" y="241.98" width="4.45" height="7.76" fill="#fcbba1"/>
<rect x="58.91" y="241.98" width="4.45" height="7.76" fill="#fee0d2"/>
<rect x="63.36" y="241.98" width="4.45" height="7.76" fill="#fee0d2"/>
<rect x="67.81" y="241.98" width="4.45" height="7.76" fill="#deebf7"/>
<rect x="72.26" y="241.98" width="4.45" height="7.76" fill="#fcbba1"/>
<rect x="76.70" y="241.98" width="4.45" height="7.76" fill="#fcbba1"/>
<rect x="81.15" y="241.98" width="4.45" height="7.76" fill="#fcbba1"/>
<rect x="85.60" y="241.98" width="4.45" height="7.76" fill="#fc9272"/>
<rect x="90.04" y="241.98" width="4.45" height="7.76" fill="#fee0d2"/>
<rect x="94.49" y="241.98" width="4.45" height="7.76" fill="#deebf7"/>
<rect x="98.94" y="241.98" width="4.45" height="7.76" fill="#fee0d2"/>
<rect x="103.38" y="241.98" width="4.45" height="7.76" fill="#c6dbef"/>
<rect x="107.83" y="241.98" width="4.45" height="7.76" fill="#fee0d2"/>
<rect x="112.28" y="241.98" width="4.45" height="7.76" fill="#deebf7"/>
<rect x="116.72" y="241.98" width="4.45" height="7.76" fill="#fcbba1"/>
<rect x="121.17" y="241.98" width="4.45" height="7.76" fill="#fee0d2"/>
<rect x="125.62" y="241.98" width="4.45" height="7.76" fill="#fc9272"/>
<rect x="130.06" y="241.98" width="4.45" height="7.76" fill="#c6dbef"/>
<rect x="134.51" y="241.98" width="4.45" height="7.76" fill="#4292c6"/>
<rect x="138.96" y="241.98" width="4.45" height="7.76" fill="#2171b5"/>
<rect x="143.40" y="241.98" width="4.45" height="7.76" fill="#c6dbef"/>
<rect x="147.85" y="241.98" width="4.45" height="7.76" fill="#08519c"/>
<rect x="152.30" y="241.98" width="4.45" height="7.76" fill="#2171b5"/>
<rect x="156.74" y="241.98" width="4.45" height="7.76" fill="#2171b5"/>
<rect x="161.19" y="241.98" width="4.45" height="7.76" fill="#9ecae1"/>
<rect x="165.64" y="241.98" width="4.45" height="7.76" fill="#2171b5"/>
<rect x="170.09" y="241.98" width="4.45" height="7.76" fill="#08306b"/>
<rect x="174.53" y="241.98" width="4.45" height="7.76" fill="#fc9272"/>
<rect x="178.98" y="241.98" width="4.45" height="7.76" fill="#fb6a4a"/>
<rect x="183.43" y="241.98" width="4.45" height="7.76" fill="#fcbba1"/>
<rect x="187.87" y="241.98" width="4.45" height="7.76" fill="#fee0d2"/>
<rect x="192.32" y="241.98" width="4.45" height="7.76" fill="#fb6a4a"/>
<rect x="196.77" y="241.98" width="4.45" height="7.76" fill="#fee0d2"/>
<rect x="201.21" y="241.98" width="4.45" height="7.76" fill="#fee0d2"/>
<rect x="205.66" y="241.98" width="4.45" height="7.76" fill="#deebf7"/>
<rect x="210.11" y="241.98" width="4.45" height="7.76" fill="#deebf7"/>
<rect x="214.55" y="241.98" width="4.45" height="7.76" fill="#deebf7"/>
<rect x="10.00" y="249.73" width="4.45" height="7.76" fill="#fb6a4a"/>
<rect x="14.45" y="249.73" width="4.45" height="7.76" fill="#fb6a4a"/>
<rect x="18.89" y="249.73" width="4.45" height="7.76" fill="#fb6a4a"/>
<rect x="23.34" y="249.73" width="4.45" height="7.76" fill="#fb6a4a"/>
<rect x="27.79" y="249.73" width="4.45" height="7.76" fill="#fb6a4a"/>
<rect x="32.23" y="249.73" width="4.45" height="7.76" fill="#fb6a4a"/>
<rect x="36.68" y="249.73" width="4.45" height="7.76" fill="#fb6a4a"/>
<rect x="41.13" y="249.73" width="4.45" height="7.76" fill="#fb6a4a"/>
<rect x="45.57" y="249.73" width="4.45" height="7.76" fill="#fb6a4a"/>
<rect x="50.02" y="249.73" width="4.45" height="7.76" fill="#fb6a4a"/>
<rect x="54.47" y="249.73" width="4.45" height="7.76" fill="#fb6a4a"/>
<rect x="58.91" y="249.73" width="4.45" height="7.76" fill="#fb6a4a"/>
<rect x="63.36" y="249.73" width="4.45" height="7.76" fill="#fb6a4a"/>
<rect x="67.81" y="249.73" width="4.45" height="7.76" fill="#fb6a4a"/>
<rect x="72.26" y="249.73" width="4.45" height="7.76" fill="#fb6a4a"/>
<rect x="76.70" y="249.73" width="4.45" height="7.76" fill="#fb6a4a"/>
<rect x="81.15" y="249.73" width="4.45" height="7.76" fill="#fb6a4a"/>
<rect x="85.60" y="249.73" width="4.45" height="7.76" fill="#fb6a4a"/>
<rect x="90.04" y="249.73" width="4.45" height="7.76" fill="#6baed6"/>
<rect x="94.49" y="249.73" width="4.45" height="7.76" fill="#6baed6"/>
<rect x="98.94" y="249.73" width="4.45" height="7.76" fill="#9ecae1"/>
<rect x="103.38" y="249.73" width="4.45" height="7.76" fill="#6baed6"/>
<rect x="107.83" y="249.73" width="4.45" height="7.76" fill="#9ecae1"/>
<rect x="112.28" y="249.73" width="4.45" height="7.76" fill="#6baed6"/>
<rect x="116.72" y="249.73" width="4.45" height="7.76" fill="#6baed6"/>
<rect x="121.17" y="249.73" width="4.45" height="7.76" fill="#6baed6"/>
<rect x="125.62" y="249.73" width="4.45" height="7.76" fill="#6baed6"/>
<rect x="130.06" y="249.73" width="4.45" height="7.76" fill="#6baed6"/>
<rect x="134.51" y="249.73" width="4.45" height="7.76" fill="#6baed6"/>
<rect x="138.96" y="249.73" width="4.45" height="7.76" fill="#6baed6"/>
<rect x="143.40" y="249.73" width="4.45" height="7.76" fill="#6baed6"/>
<rect x="147.85" y="249.73" width="4.45" height="7.76" fill="#6baed6"/>
<rect x="152.30" y="249.73" width="4.45" height="7.76" fill="#6baed6"/>
<rect x="156.74" y="249.73" width="4.45" height="7.76" fill="#6baed6"/>
<rect x="161.19" y="249.73" width="4.45" height="7.76" fill="#6baed6"/>
<rect x="165.64" y="249.73" width="4.45" height="7.76" fill="#6baed6"/>
<rect x="170.09" y="249.73" width="4.45" height="7.76" fill="#6baed6"/>
<rect x="174.53" y="249.73" width="4.45" height="7.76" fill="#fee0d2"/>
<rect x="178.98" y="249.73" width="4.45" height="7.76" fill="#fee0d2"/>
<rect x="183.43" y="249.73" width="4.45" height="7.76" fill="#fee0d2"/>
<rect x="187.87" y="249.73" width="4.45" height="7.76" fill="#fee0d2"/>
<rect x="192.32" y="249.73" width="4.45" height="7.76" fill="#fee0d2"/>
<rect x="196.77" y="249.73" width="4.45" height="7.76" fill="#fee0d2"/>
<rect x="201.21" y="249.73" width="4.45" height="7.76" fill="#fee0d2"/>
<rect x="205.66" y="249.73" width="4.45" height="7.76" fill="#fee0d2"/>
<rect x="210.11" y="249.73" width="4.45" height="7.76" fill="#fee0d2"/>
<rect x="214.55" y="249.73" width="4.45" height="7.76" fill="#fee0d2"/>
<rect x="10.00" y="257.49" width="4.45" height="7.76" fill="#fcbba1"/>
<rect x="14.45" y="257.49" width="4.45" height="7.76" fill="#fc9272"/>
<rect x="18.89" y="257.49" width="4.45" height="7.76" fill="#fc9272"/>
<rect x="23.34" y="257.49" width="4.45" height="7.76" fill="#fc9272"/>
<rect x="27.79" y="257.49" width="4.45" height="7.76" fill="#fc9272"/>
<rect x="32.23" y="257.49" width="4.45" height="7.76" fill="#fc9272"/>
<rect x="36.68" y="257.49" width="4.45" height="7.76" fill="#fc9272"/>
<rect x="41.13" y="257.49" width="4.45" height="7.76" fill="#fc9272"/>
<rect x="45.57" y="257.49" width="4.45" height="7.76" fill="#fcbba1"/>
<rect x="50.02" y="257.49" width="4.45" height="7.76" fill="#fc9272"/>
<rect x="54.47" y="257.49" width="4.45" height="7.76" fill="#fcbba1"/>
<rect x="58.91" y="257.49" width="4.45" height="7.76" fill="#fc9272"/>
<rect x="63.36" y="257.49" width="4.45" height="7.76" fill="#fc9272"/>
<rect x="67.81" y="257.49" width="4.45" height="7.76" fill="#fc9272"/>
<rect x="72.26" y="257.49" width="4.45" height="7.76" fill="#fc9272"/>
<rect x="76.70" y="257.49" width="4.45" height="7.76" fill="#fc9272"/>
<rect x="81.15" y="257.49" width="4.45" height="7.76" fill="#fcbba1"/>
<rect x="85.60" y="257.49" width="4.45" height="7.76" fill="#fc9272"/>
<rect x="90.04" y="257.49" width="4.45" height="7.76" fill="#deebf7"/>
<rect x="94.49" y="257.49" width="4.45" height="7.76" fill="#fcbba1"/>
<rect x="98.94" y="257.49" width="4.45" height="7.76" fill="#deebf7"/>
<rect x="103.38" y="257.49" width="4.45" height="7.76" fill="#fee0d2"/>
<rect x="107.83" y="257.49" width="4.45" height="7.76" fill="#deebf7"/>
<rect x="112.28" y="257.49" width="4.45" height="7.76" fill="#fee0d2"/>
<rect x="116.72" y="257.49" width="4.45" height="7.76" fill="#fcbba1"/>
<rect x="121.17" y="257.49" width="4.45" height="7.76" fill="#fee0d2"/>
<rect x="125.62" y="257.49" width="4.45" height="7.76" fill="#deebf7"/>
<rect x="130.06" y="257.49" width="4.45" height="7.76" fill="#fee0d2"/>
<rect x="134.51" y="257.49" width="4.45" height="7.76" fill="#2171b5"/>
<rect x="138.96" y="257.49" width="4.45" height="7.76" fill="#2171b5"/>
<rect x="143.40" y="257.49" width="4.45" height="7.76" fill="#2171b5"/>
<rect x="147.85" y="257.49" width="4.45" height="7.76" fill="#2171b5"/>
<rect x="152.30" y="257.49" width="4.45" height="7.76" fill="#2171b5"/>
<rect x="156.74" y="257.49" width="4.45" height="7.76" fill="#2171b5"/>
<rect x="161.19" y="257.49" width="4.45" height="7.76" fill="#2171b5"/>
<rect x="165.64" y="257.49" width="4.45" height="7.76" fill="#2171b5"/>
<rect x="170.09" y="257.49" width="4.45" height="7.76" fill="#2171b5"/>
<rect x="174.53" y="257.49" width="4.45" height="7.76" fill="#fc9272"/>
<rect x="178.98" y="257.49" width="4.45" height="7.76" fill="#fc9272"/>
<rect x="183.43" y="257.49" width="4.45" height="7.76" fill="#fee0d2"/>
<rect x="187.87" y="257.49" width="4.45" height="7.76" fill="#fee0d2"/>
<rect x="192.32" y="257.49" width="4.45" height="7.76" fill="#fb6a4a"/>
<rect x="196.77" y="257.49" width="4.45" height="7.76" fill="#fee0d2"/>
<rect x="201.21" y="257.49" width="4.45" height="7.76" fill="#deebf7"/>
<rect x="205.66" y="257.49" width="4.45" height="7.76" fill="#fee0d2"/>
<rect x="210.11" y="257.49" width="4.45" height="7.76" fill="#deebf7"/>
<rect x="214.55" y="257.49" width="4.45" height="7.76" fill="#fee0d2"/>
<rect x="10.00" y="265.24" width="4.45" height="7.76" fill="#fc9272"/>
<rect x="14.45" y="265.24" width="4.45" height="7.76" fill="#fb6a4a"/>
<rect x="18.89" y="265.24" width="4.45" height="7.76" fill="#fc9272"/>
<rect x="23.34" y="265.24" width="4.45" height="7.76" fill="#fb6a4a"/>
<rect x="27.79" y="265.24" width="4.45" height="7.76" fill="#ef3b2c"/>
<rect x="32.23" y="265.24" width="4.45" height="7.76" fill="#cb181d"/>
<rect x="36.68" y="265.24" width="4.45" height="7.76" fill="#fc9272"/>
<rect x="41.13" y="265.24" width="4.45" height="7.76" fill="#fb6a4a"/>
<rect x="45.57" y="265.24" width="4.45" height="7.76" fill="#fc9272"/>
<rect x="50.02" y="265.24" width="4.45" height="7.76" fill="#fb6a4a"/>
<rect x="54.47" y="265.24" width="4.45" height="7.76" fill="#fc9272"/>
<rect x="58.91" y="265.24" width="4.45" height="7.76" fill="#fb6a4a"/>
<rect x="63.36" y="265.24" width="4.45" height="7.76" fill="#fc9272"/>
<rect x="67.81" y="265.24" width="4.45" height="7.76" fill="#ef3b2c"/>
<rect x="72.26" y="265.24" width="4.45" height="7.76" fill="#fc9272"/>
<rect x="76.70" y="265.24" width="4.45" height="7.76" fill="#fc9272"/>
<rect x="81.15" y="265.24" width="4.45" height="7.76" fill="#fb6a4a"/>
<rect x="85.60" y="265.24" width="4.45" height="7.76" fill="#fb6a4a"/>
<rect x="90.04" y="265.24" width="4.45" height="7.76" fill="#6baed6"/>
<rect x="94.49" y="265.24" width="4.45" height="7.76" fill="#9ecae1"/>
<rect x="98.94" y="265.24" width="4.45" height="7.76" fill="#6baed6"/>
<rect x="103.38" y="265.24" width="4.45" height="7.76" fill="#9ecae1"/>
<rect x="107.83" y="265.24" width="4.45" height="7.76" fill="#6baed6"/>
<rect x="112.28" y="265.24" width="4.45" height="7.76" fill="#9ecae1"/>
<rect x="116.72" y="265.24" width="4.45" height="7.76" fill="#9ecae1"/>
<rect x="121.17" y="265.24" width="4.45" height="7.76" fill="#6baed6"/>
<rect x="125.62" y="265.24" width="4.45" height="7.76" fill="#c6dbef"/>
<rect x="130.06" y="265.24" width="4.45" height="7.76" fill="#6baed6"/>
<rect x="134.51" y="265.24" width="4.45" height="7.76" fill="#6baed6"/>
<rect x="138.96" y="265.24" width="4.45" height="7.76" fill="#6baed6"/>
<rect x="143.40" y="265.24" width="4.45" height="7.76" fill="#6baed6"/>
<rect x="147.85" y="265.24" width="4.45" height="7.76" fill="#6baed6"/>
<rect x="152.30" y="265.24" width="4.45" height="7.76" fill="#6baed6"/>
<rect x="156.74" y="265.24" width="4.45" height="7.76" fill="#6baed6"/>
<rect x="161.19" y="265.24" width="4.45" height="7.76" fill="#6baed6"/>
<rect x="165.64" y="265.24" width="4.45" height="7.76" fill="#6baed6"/>
<rect x="170.09" y="265.24" width="4.45" height="7.76" fill="#6baed6"/>
<rect x="174.53" y="265.24" width="4.45" height="7.76" fill="#fee0d2"/>
<rect x="178.98" y="265.24" width="4.45" height="7.76" fill="#fcbba1"/>
<rect x="183.43" y="265.24" width="4.45" height="7.76" fill="#fee0d2"/>
<rect x="187.87" y="265.24" width="4.45" height="7.76" fill="#fcbba1"/>
<rect x="192.32" y="265.24" width="4.45" height="7.76" fill="#fee0d2"/>
<rect x="196.77" y="265.24" width="4.45" height="7.76" fill="#fee0d2"/>
<rect x="201.21" y="265.24" width="4.45" height="7.76" fill="#c6dbef"/>
<rect x="205.66" y="265.24" width="4.45" height="7.76" fill="#deebf7"/>
<rect x="210.11" y="265.24" width="4.45" height="7.76" fill="#c6dbef"/>
<rect x="214.55" y="265.24" width="4.45" height="7.76" fill="#deebf7"/>
<rect x="269.40" y="63.60" width="11.60" height="7.76" fill="#9ecae1"/>
<rect x="281.00" y="63.60" width="11.60" height="7.76" fill="#9ecae1"/>
<rect x="292.60" y="63.60" width="11.60" height="7.76" fill="#9ecae1"/>
<rect x="304.20" y="63.60" width="11.60" height="7.76" fill="#9ecae1"/>
<rect x="315.80" y="63.60" width="11.60" height="7.76" fill="#9ecae1"/>
<rect x="327.40" y="63.60" width="11.60" height="7.76" fill="#9ecae1"/>
<rect x="339.00" y="63.60" width="11.60" height="7.76" fill="#fb6a4a"/>
<rect x="350.60" y="63.60" width="11.60" height="7.76" fill="#fc9272"/>
<rect x="362.20" y="63.60" width="11.60" height="7.76" fill="#fc9272"/>
<rect x="373.80" y="63.60" width="11.60" height="7.76" fill="#cb181d"/>
<rect x="385.40" y="63.60" width="11.60" height="7.76" fill="#ef3b2c"/>
<rect x="397.00" y="63.60" width="11.60" height="7.76" fill="#ef3b2c"/>
<rect x="408.60" y="63.60" width="11.60" height="7.76" fill="#c6dbef"/>
<rect x="420.20" y="63.60" width="11.60" height="7.76" fill="#c6dbef"/>
<rect x="431.80" y="63.60" width="11.60" height="7.76" fill="#c6dbef"/>
<rect x="443.40" y="63.60" width="11.60" height="7.76" fill="#c6dbef"/>
<rect x="455.00" y="63.60" width="11.60" height="7.76" fill="#c6dbef"/>
<rect x="466.60" y="63.60" width="11.60" height="7.76" fill="#c6dbef"/>
<rect x="269.40" y="71.36" width="11.60" height="7.76" fill="#9ecae1"/>
<rect x="281.00" y="71.36" width="11.60" height="7.76" fill="#9ecae1"/>
<rect x="292.60" y="71.36" width="11.60" height="7.76" fill="#9ecae1"/>
<rect x="304.20" y="71.36" width="11.60" height="7.76" fill="#9ecae1"/>
<rect x="315.80" y="71.36" width="11.60" height="7.76" fill="#9ecae1"/>
<rect x="327.40" y="71.36" width="11.60" height="7.76" fill="#9ecae1"/>
<rect x="339.00" y="71.36" width="11.60" height="7.76" fill="#fee0d2"/>
<rect x="350.60" y="71.36" width="11.60" height="7.76" fill="#fee0d2"/>
<rect x="362.20" y="71.36" width="11.60" height="7.76" fill="#fee0d2"/>
<rect x="373.80" y="71.36" width="11.60" height="7.76" fill="#cb181d"/>
<rect x="385.40" y="71.36" width="11.60" height="7.76" fill="#cb181d"/>
<rect x="397.00" y="71.36" width="11.60" height="7.76" fill="#a50f15"/>
<rect x="408.60" y="71.36" width="11.60" height="7.76" fill="#deebf7"/>
<rect x="420.20" y="71.36" width="11.60" height="7.76" fill="#fee0d2"/>
<rect x="431.80" y="71.36" width="11.60" height="7.76" fill="#deebf7"/>
<rect x="443.40" y="71.36" width="11.60" height="7.76" fill="#9ecae1"/>
<rect x="455.00" y="71.36" width="11.60" height="7.76" fill="#c6dbef"/>
<rect x="466.60" y="71.36" width="11.60" height="7.76" fill="#c6dbef"/>
<rect x="269.40" y="79.11" width="11.60" height="7.76" fill="#c6dbef"/>
<rect x="281.00" y="79.11" width="11.60" height="7.76" fill="#c6dbef"/>
<rect x="292.60" y="79.11" width="11.60" height="7.76" fill="#c6dbef"/>
<rect x="304.20" y="79.11" width="11.60" height="7.76" fill="#c6dbef"/>
<rect x="315.80" y="79.11" width="11.60" height="7.76" fill="#c6dbef"/>
<rect x="327.40" y="79.11" width="11.60" height="7.76" fill="#c6dbef"/>
<rect x="339.00" y="79.11" width="11.60" height="7.76" fill="#deebf7"/>
<rect x="350.60" y="79.11" width="11.60" height="7.76" fill="#deebf7"/>
<rect x="362.20" y="79.11" width="11.60" height="7.76" fill="#deebf7"/>
<rect x="373.80" y="79.11" width="11.60" height="7.76" fill="#cb181d"/>
<rect x="385.40" y="79.11" width="11.60" height="7.76" fill="#67000d"/>
<rect x="397.00" y="79.11" width="11.60" height="7.76" fill="#cb181d"/>
<rect x="408.60" y="79.11" width="11.60" height="7.76" fill="#c6dbef"/>
<rect x="420.20" y="79.11" width="11.60" height="7.76" fill="#c6dbef"/>
<rect x="431.80" y="79.11" width="11.60" height="7.76" fill="#c6dbef"/>
<rect x="443.40" y="79.11" width="11.60" height="7.76" fill="#c6dbef"/>
<rect x="455.00" y="79.11" width="11.60" height="7.76" fill="#deebf7"/>
<rect x="466.60" y="79.11" width="11.60" height="7.76" fill="#c6dbef"/>
<rect x="269.40" y="86.87" width="11.60" height="7.76" fill="#9ecae1"/>
<rect x="281.00" y="86.87" width="11.60" height="7.76" fill="#c6dbef"/>
<rect x="292.60" y="86.87" width="11.60" height="7.76" fill="#9ecae1"/>
<rect x="304.20" y="86.87" width="11.60" height="7.76" fill="#9ecae1"/>
<rect x="315.80" y="86.87" width="11.60" height="7.76" fill="#9ecae1"/>
<rect x="327.40" y="86.87" width="11.60" height="7.76" fill="#9ecae1"/>
<rect x="339.00" y="86.87" width="11.60" height="7.76" fill="#fc9272"/>
<rect x="350.60" y="86.87" width="11.60" height="7.76" fill="#fc9272"/>
<rect x="362.20" y="86.87" width="11.60" height="7.76" fill="#fc9272"/>
<rect x="373.80" y="86.87" width="11.60" height="7.76" fill="#cb181d"/>
<rect x="385.40" y="86.87" width="11.60" height="7.76" fill="#ef3b2c"/>
<rect x="397.00" y="86.87" width="11.60" height="7.76" fill="#cb181d"/>
<rect x="408.60" y="86.87" width="11.60" height="7.76" fill="#c6dbef"/>
<rect x="420.20" y="86.87" width="11.60" height="7.76" fill="#c6dbef"/>
<rect x="431.80" y="86.87" width="11.60" height="7.76" fill="#c6dbef"/>
<rect x="443.40" y="86.87" width="11.60" height="7.76" fill="#c6dbef"/>
<rect x="455.00" y="86.87" width="11.60" height="7.76" fill="#c6dbef"/>
<rect x="466.60" y="86.87" width="11.60" height="7.76" fill="#c6dbef"/>
<rect x="269.40" y="94.62" width="11.60" height="7.76" fill="#c6dbef"/>
<rect x="281.00" y="94.62" width="11.60" height="7.76" fill="#c6dbef"/>
<rect x="292.60" y="94.62" width="11.60" height="7.76" fill="#c6dbef"/>
<rect x="304.20" y="94.62" width="11.60" height="7.76" fill="#c6dbef"/>
<rect x="315.80" y="94.62" width="11.60" height="7.76" fill="#c6dbef"/>
<rect x="327.40" y="94.62" width="11.60" height="7.76" fill="#9ecae1"/>
<rect x="339.00" y="94.62" width="11.60" height="7.76" fill="#fee0d2"/>
<rect x="350.60" y="94.62" width="11.60" height="7.76" fill="#deebf7"/>
<rect x="362.20" y="94.62" width="11.60" height="7.76" fill="#deebf7"/>
<rect x="373.80" y="94.62" width="11.60" height="7.76" fill="#ef3b2c"/>
<rect x="385.40" y="94.62" width="11.60" height="7.76" fill="#cb181d"/>
<rect x="397.00" y="94.62" width="11.60" height="7.76" fill="#67000d"/>
<rect x="408.60" y="94.62" width="11.60" height="7.76" fill="#deebf7"/>
<rect x="420.20" y="94.62" width="11.60" height="7.76" fill="#c6dbef"/>
<rect x="431.80" y="94.62" width="11.60" height="7.76" fill="#c6dbef"/>
<rect x="443.40" y="94.62" width="11.60" height="7.76" fill="#c6dbef"/>
<rect x="455.00" y="94.62" width="11.60" height="7.76" fill="#c6dbef"/>
<rect x="466.60" y="94.62" width="11.60" height="7.76" fill="#c6dbef"/>
<rect x="269.40" y="110.13" width="11.60" height="7.76" fill="#c6dbef"/>
<rect x="281.00" y="110.13" width="11.60" height="7.76" fill="#c6dbef"/>
<rect x="292.60" y="110.13" width="11.60" height="7.76" fill="#6baed6"/>
<rect x="304.20" y="110.13" width="11.60" height="7.76" fill="#9ecae1"/>
<rect x="315.80" y="110.13" width="11.60" height="7.76" fill="#c6dbef"/>
<rect x="327.40" y="110.13" width="11.60" height="7.76" fill="#c6dbef"/>
<rect x="339.00" y="110.13" width="11.60" height="7.76" fill="#deebf7"/>
<rect x="350.60" y="110.13" width="11.60" height="7.76" fill="#deebf7"/>
<rect x="362.20" y="110.13" width="11.60" height="7.76" fill="#deebf7"/>
<rect x="373.80" y="110.13" width="11.60" height="7.76" fill="#ef3b2c"/>
<rect x="385.40" y="110.13" width="11.60" height="7.76" fill="#a50f15"/>
<rect x="397.00" y="110.13" width="11.60" height="7.76" fill="#a50f15"/>
<rect x="408.60" y="110.13" width="11.60" height="7.76" fill="#9ecae1"/>
<rect x="420.20" y="110.13" width="11.60" height="7.76" fill="#fee0d2"/>
<rect x="431.80" y="110.13" width="11.60" height="7.76" fill="#deebf7"/>
<rect x="443.40" y="110.13" width="11.60" height="7.76" fill="#c6dbef"/>
<rect x="455.00" y="110.13" width="11.60" height="7.76" fill="#deebf7"/>
<rect x="466.60" y="110.13" width="11.60" height="7.76" fill="#deebf7"/>
<rect x="269.40" y="125.64" width="11.60" height="7.76" fill="#9ecae1"/>
<rect x="281.00" y="125.64" width="11.60" height="7.76" fill="#c6dbef"/>
<rect x="292.60" y="125.64" width="11.60" height="7.76" fill="#c6dbef"/>
<rect x="304.20" y="125.64" width="11.60" height="7.76" fill="#c6dbef"/>
<rect x="315.80" y="125.64" width="11.60" height="7.76" fill="#9ecae1"/>
<rect x="327.40" y="125.64" width="11.60" height="7.76" fill="#9ecae1"/>
<rect x="339.00" y="125.64" width="11.60" height="7.76" fill="#67000d"/>
<rect x="350.60" y="125.64" width="11.60" height="7.76" fill="#fb6a4a"/>
<rect x="362.20" y="125.64" width="11.60" height="7.76" fill="#fc9272"/>
<rect x="373.80" y="125.64" width="11.60" height="7.76" fill="#fcbba1"/>
<rect x="385.40" y="125.64" width="11.60" height="7.76" fill="#fc9272"/>
<rect x="397.00" y="125.64" width="11.60" height="7.76" fill="#fc9272"/>
<rect x="408.60" y="125.64" width="11.60" height="7.76" fill="#9ecae1"/>
<rect x="420.20" y="125.64" width="11.60" height="7.76" fill="#fc9272"/>
<rect x="431.80" y="125.64" width="11.60" height="7.76" fill="#9ecae1"/>
<rect x="443.40" y="125.64" width="11.60" height="7.76" fill="#c6dbef"/>
<rect x="455.00" y="125.64" width="11.60" height="7.76" fill="#deebf7"/>
<rect x="466.60" y="125.64" width="11.60" height="7.76" fill="#9ecae1"/>
<rect x="269.40" y="133.40" width="11.60" height="7.76" fill="#9ecae1"/>
<rect x="281.00" y="133.40" width="11.60" height="7.76" fill="#9ecae1"/>
<rect x="292.60" y="133.40" width="11.60" height="7.76" fill="#9ecae1"/>
<rect x="304.20" y="133.40" width="11.60" height="7.76" fill="#9ecae1"/>
<rect x="315.80" y="133.40" width="11.60" height="7.76" fill="#9ecae1"/>
<rect x="327.40" y="133.40" width="11.60" height="7.76" fill="#c6dbef"/>
<rect x="339.00" y="133.40" width="11.60" height="7.76" fill="#fee0d2"/>
<rect x="350.60" y="133.40" width="11.60" height="7.76" fill="#fee0d2"/>
<rect x="362.20" y="133.40" width="11.60" height="7.76" fill="#deebf7"/>
<rect x="373.80" y="133.40" width="11.60" height="7.76" fill="#a50f15"/>
<rect x="385.40" y="133.40" width="11.60" height="7.76" fill="#cb181d"/>
<rect x="397.00" y="133.40" width="11.60" height="7.76" fill="#a50f15"/>
<rect x="408.60" y="133.40" width="11.60" height="7.76" fill="#deebf7"/>
<rect x="420.20" y="133.40" width="11.60" height="7.76" fill="#deebf7"/>
<rect x="431.80" y="133.40" width="11.60" height="7.76" fill="#c6dbef"/>
<rect x="443.40" y="133.40" width="11.60" height="7.76" fill="#deebf7"/>
<rect x="455.00" y="133.40" width="11.60" height="7.76" fill="#deebf7"/>
<rect x="466.60" y="133.40" width="11.60" height="7.76" fill="#deebf7"/>
<rect x="269.40" y="141.16" width="11.60" height="7.76" fill="#c6dbef"/>
<rect x="281.00" y="141.16" width="11.60" height="7.76" fill="#fee0d2"/>
<rect x="292.60" y="141.16" width="11.60" height="7.76" fill="#4292c6"/>
<rect x="304.20" y="141.16" width="11.60" height="7.76" fill="#ef3b2c"/>
<rect x="315.80" y="141.16" width="11.60" height="7.76" fill="#6baed6"/>
<rect x="327.40" y="141.16" width="11.60" height="7.76" fill="#fc9272"/>
<rect x="339.00" y="141.16" width="11.60" height="7.76" fill="#fc9272"/>
<rect x="350.60" y="141.16" width="11.60" height="7.76" fill="#fb6a4a"/>
<rect x="362.20" y="141.16" width="11.60" height="7.76" fill="#c6dbef"/>
<rect x="373.80" y="141.16" width="11.60" height="7.76" fill="#4292c6"/>
<rect x="385.40" y="141.16" width="11.60" height="7.76" fill="#deebf7"/>
<rect x="397.00" y="141.16" width="11.60" height="7.76" fill="#fee0d2"/>
<rect x="408.60" y="141.16" width="11.60" height="7.76" fill="#deebf7"/>
<rect x="420.20" y="141.16" width="11.60" height="7.76" fill="#6baed6"/>
<rect x="431.80" y="141.16" width="11.60" height="7.76" fill="#deebf7"/>
<rect x="443.40" y="141.16" width="11.60" height="7.76" fill="#fee0d2"/>
<rect x="455.00" y="141.16" width="11.60" height="7.76" fill="#cb181d"/>
<rect x="466.60" y="141.16" width="11.60" height="7.76" fill="#fee0d2"/>
<rect x="269.40" y="148.91" width="11.60" height="7.76" fill="#9ecae1"/>
<rect x="281.00" y="148.91" width="11.60" height="7.76" fill="#c6dbef"/>
<rect x="292.60" y="148.91" width="11.60" height="7.76" fill="#6baed6"/>
<rect x="304.20" y="148.91" width="11.60" height="7.76" fill="#9ecae1"/>
<rect x="315.80" y="148.91" width="11.60" height="7.76" fill="#9ecae1"/>
<rect x="327.40" y="148.91" width="11.60" height="7.76" fill="#4292c6"/>
<rect x="339.00" y="148.91" width="11.60" height="7.76" fill="#deebf7"/>
<rect x="350.60" y="148.91" width="11.60" height="7.76" fill="#fcbba1"/>
<rect x="362.20" y="148.91" width="11.60" height="7.76" fill="#fee0d2"/>
<rect x="373.80" y="148.91" width="11.60" height="7.76" fill="#cb181d"/>
<rect x="385.40" y="148.91" width="11.60" height="7.76" fill="#ef3b2c"/>
<rect x="397.00" y="148.91" width="11.60" height="7.76" fill="#cb181d"/>
<rect x="408.60" y="148.91" width="11.60" height="7.76" fill="#fcbba1"/>
<rect x="420.20" y="148.91" width="11.60" height="7.76" fill="#c6dbef"/>
<rect x="431.80" y="148.91" width="11.60" height="7.76" fill="#fee0d2"/>
<rect x="443.40" y="148.91" width="11.60" height="7.76" fill="#deebf7"/>
<rect x="455.00" y="148.91" width="11.60" height="7.76" fill="#fee0d2"/>
<rect x="466.60" y="148.91" width="11.60" height="7.76" fill="#fee0d2"/>
<rect x="269.40" y="156.67" width="11.60" height="7.76" fill="#9ecae1"/>
<rect x="281.00" y="156.67" width="11.60" height="7.76" fill="#9ecae1"/>
<rect x="292.60" y="156.67" width="11.60" height="7.76" fill="#9ecae1"/>
<rect x="304.20" y="156.67" width="11.60" height="7.76" fill="#6baed6"/>
<rect x="315.80" y="156.67" width="11.60" height="7.76" fill="#6baed6"/>
<rect x="327.40" y="156.67" width="11.60" height="7.76" fill="#9ecae1"/>
<rect x="339.00" y="156.67" width="11.60" height="7.76" fill="#cb181d"/>
<rect x="350.60" y="156.67" width="11.60" height="7.76" fill="#ef3b2c"/>
<rect x="362.20" y="156.67" width="11.60" height="7.76" fill="#fc9272"/>
<rect x="373.80" y="156.67" width="11.60" height="7.76" fill="#fc9272"/>
<rect x="385.40" y="156.67" width="11.60" height="7.76" fill="#fc9272"/>
<rect x="397.00" y="156.67" width="11.60" height="7.76" fill="#fcbba1"/>
<rect x="408.60" y="156.67" width="11.60" height="7.76" fill="#fee0d2"/>
<rect x="420.20" y="156.67" width="11.60" height="7.76" fill="#fc9272"/>
<rect x="431.80" y="156.67" width="11.60" height="7.76" fill="#fee0d2"/>
<rect x="443.40" y="156.67" width="11.60" height="7.76" fill="#9ecae1"/>
<rect x="455.00" y="156.67" width="11.60" height="7.76" fill="#deebf7"/>
<rect x="466.60" y="156.67" width="11.60" height="7.76" fill="#6baed6"/>
<rect x="269.40" y="164.42" width="11.60" height="7.76" fill="#fee0d2"/>
<rect x="362.20" y="164.42" width="11.60" height="7.76" fill="#c6dbef"/>
<rect x="373.80" y="164.42" width="11.60" height="7.76" fill="#4292c6"/>
<rect x="385.40" y="164.42" width="11.60" height="7.76" fill="#deebf7"/>
<rect x="397.00" y="164.42" width="11.60" height="7.76" fill="#deebf7"/>
<rect x="408.60" y="164.42" width="11.60" height="7.76" fill="#cb181d"/>
<rect x="420.20" y="164.42" width="11.60" height="7.76" fill="#c6dbef"/>
<rect x="431.80" y="164.42" width="11.60" height="7.76" fill="#fc9272"/>
<rect x="269.40" y="172.18" width="11.60" height="7.76" fill="#9ecae1"/>
<rect x="281.00" y="172.18" width="11.60" height="7.76" fill="#9ecae1"/>
<rect x="292.60" y="172.18" width="11.60" height="7.76" fill="#9ecae1"/>
<rect x="304.20" y="172.18" width="11.60" height="7.76" fill="#9ecae1"/>
<rect x="315.80" y="172.18" width="11.60" height="7.76" fill="#6baed6"/>
<rect x="327.40" y="172.18" width="11.60" height="7.76" fill="#6baed6"/>
<rect x="339.00" y="172.18" width="11.60" height="7.76" fill="#fcbba1"/>
<rect x="350.60" y="172.18" width="11.60" height="7.76" fill="#fcbba1"/>
<rect x="362.20" y="172.18" width="11.60" height="7.76" fill="#fc9272"/>
<rect x="373.80" y="172.18" width="11.60" height="7.76" fill="#cb181d"/>
<rect x="385.40" y="172.18" width="11.60" height="7.76" fill="#fb6a4a"/>
<rect x="397.00" y="172.18" width="11.60" height="7.76" fill="#fcbba1"/>
<rect x="408.60" y="172.18" width="11.60" height="7.76" fill="#fb6a4a"/>
<rect x="420.20" y="172.18" width="11.60" height="7.76" fill="#fc9272"/>
<rect x="431.80" y="172.18" width="11.60" height="7.76" fill="#fee0d2"/>
<rect x="443.40" y="172.18" width="11.60" height="7.76" fill="#deebf7"/>
<rect x="455.00" y="172.18" width="11.60" height="7.76" fill="#c6dbef"/>
<rect x="466.60" y="172.18" width="11.60" height="7.76" fill="#6baed6"/>
<rect x="269.40" y="179.93" width="11.60" height="7.76" fill="#a50f15"/>
<rect x="281.00" y="179.93" width="11.60" height="7.76" fill="#c6dbef"/>
<rect x="292.60" y="179.93" width="11.60" height="7.76" fill="#c6dbef"/>
<rect x="304.20" y="179.93" width="11.60" height="7.76" fill="#9ecae1"/>
<rect x="315.80" y="179.93" width="11.60" height="7.76" fill="#c6dbef"/>
<rect x="327.40" y="179.93" width="11.60" height="7.76" fill="#deebf7"/>
<rect x="339.00" y="179.93" width="11.60" height="7.76" fill="#4292c6"/>
<rect x="350.60" y="179.93" width="11.60" height="7.76" fill="#9ecae1"/>
<rect x="362.20" y="179.93" width="11.60" height="7.76" fill="#9ecae1"/>
<rect x="373.80" y="179.93" width="11.60" height="7.76" fill="#fee0d2"/>
<rect x="385.40" y="179.93" width="11.60" height="7.76" fill="#fcbba1"/>
<rect x="397.00" y="179.93" width="11.60" height="7.76" fill="#fee0d2"/>
<rect x="408.60" y="179.93" width="11.60" height="7.76" fill="#fcbba1"/>
<rect x="420.20" y="179.93" width="11.60" height="7.76" fill="#fee0d2"/>
<rect x="431.80" y="179.93" width="11.60" height="7.76" fill="#c6dbef"/>
<rect x="443.40" y="179.93" width="11.60" height="7.76" fill="#cb181d"/>
<rect x="455.00" y="179.93" width="11.60" height="7.76" fill="#fc9272"/>
<rect x="466.60" y="179.93" width="11.60" height="7.76" fill="#c6dbef"/>
<rect x="269.40" y="187.69" width="11.60" height="7.76" fill="#fc9272"/>
<rect x="281.00" y="187.69" width="11.60" height="7.76" fill="#deebf7"/>
<rect x="292.60" y="187.69" width="11.60" height="7.76" fill="#fee0d2"/>
<rect x="304.20" y="187.69" width="11.60" height="7.76" fill="#c6dbef"/>
<rect x="315.80" y="187.69" width="11.60" height="7.76" fill="#9ecae1"/>
<rect x="327.40" y="187.69" width="11.60" height="7.76" fill="#fc9272"/>
<rect x="339.00" y="187.69" width="11.60" height="7.76" fill="#fc9272"/>
<rect x="350.60" y="187.69" width="11.60" height="7.76" fill="#fcbba1"/>
<rect x="362.20" y="187.69" width="11.60" height="7.76" fill="#fee0d2"/>
<rect x="373.80" y="187.69" width="11.60" height="7.76" fill="#6baed6"/>
<rect x="385.40" y="187.69" width="11.60" height="7.76" fill="#9ecae1"/>
<rect x="397.00" y="187.69" width="11.60" height="7.76" fill="#fcbba1"/>
<rect x="408.60" y="187.69" width="11.60" height="7.76" fill="#a50f15"/>
<rect x="420.20" y="187.69" width="11.60" height="7.76" fill="#fb6a4a"/>
<rect x="431.80" y="187.69" width="11.60" height="7.76" fill="#2171b5"/>
<rect x="443.40" y="187.69" width="11.60" height="7.76" fill="#c6dbef"/>
<rect x="455.00" y="187.69" width="11.60" height="7.76" fill="#c6dbef"/>
<rect x="466.60" y="187.69" width="11.60" height="7.76" fill="#9ecae1"/>
<rect x="269.40" y="195.44" width="11.60" height="7.76" fill="#c6dbef"/>
<rect x="281.00" y="195.44" width="11.60" height="7.76" fill="#deebf7"/>
<rect x="292.60" y="195.44" width="11.60" height="7.76" fill="#2171b5"/>
<rect x="304.20" y="195.44" width="11.60" height="7.76" fill="#fee0d2"/>
<rect x="315.80" y="195.44" width="11.60" height="7.76" fill="#6baed6"/>
<rect x="327.40" y="195.44" width="11.60" height="7.76" fill="#9ecae1"/>
<rect x="339.00" y="195.44" width="11.60" height="7.76" fill="#c6dbef"/>
<rect x="350.60" y="195.44" width="11.60" height="7.76" fill="#fb6a4a"/>
<rect x="362.20" y="195.44" width="11.60" height="7.76" fill="#fcbba1"/>
<rect x="373.80" y="195.44" width="11.60" height="7.76" fill="#ef3b2c"/>
<rect x="385.40" y="195.44" width="11.60" height="7.76" fill="#fb6a4a"/>
<rect x="397.00" y="195.44" width="11.60" height="7.76" fill="#fb6a4a"/>
<rect x="408.60" y="195.44" width="11.60" height="7.76" fill="#fee0d2"/>
<rect x="420.20" y="195.44" width="11.60" height="7.76" fill="#fcbba1"/>
<rect x="431.80" y="195.44" width="11.60" height="7.76" fill="#fcbba1"/>
<rect x="443.40" y="195.44" width="11.60" height="7.76" fill="#9ecae1"/>
<rect x="455.00" y="195.44" width="11.60" height="7.76" fill="#deebf7"/>
<rect x="466.60" y="195.44" width="11.60" height="7.76" fill="#6baed6"/>
<rect x="269.40" y="203.20" width="11.60" height="7.76" fill="#deebf7"/>
<rect x="281.00" y="203.20" width="11.60" height="7.76" fill="#fcbba1"/>
<rect x="292.60" y="203.20" width="11.60" height="7.76" fill="#9ecae1"/>
<rect x="304.20" y="203.20" width="11.60" height="7.76" fill="#4292c6"/>
<rect x="315.80" y="203.20" width="11.60" height="7.76" fill="#fcbba1"/>
<rect x="327.40" y="203.20" width="11.60" height="7.76" fill="#9ecae1"/>
<rect x="339.00" y="203.20" width="11.60" height="7.76" fill="#6baed6"/>
<rect x="350.60" y="203.20" width="11.60" height="7.76" fill="#c6dbef"/>
<rect x="362.20" y="203.20" width="11.60" height="7.76" fill="#9ecae1"/>
<rect x="373.80" y="203.20" width="11.60" height="7.76" fill="#fee0d2"/>
<rect x="385.40" y="203.20" width="11.60" height="7.76" fill="#fee0d2"/>
<rect x="397.00" y="203.20" width="11.60" height="7.76" fill="#c6dbef"/>
<rect x="408.60" y="203.20" width="11.60" height="7.76" fill="#fee0d2"/>
<rect x="420.20" y="203.20" width="11.60" height="7.76" fill="#fcbba1"/>
<rect x="431.80" y="203.20" width="11.60" height="7.76" fill="#fee0d2"/>
<rect x="443.40" y="203.20" width="11.60" height="7.76" fill="#cb181d"/>
<rect x="455.00" y="203.20" width="11.60" height="7.76" fill="#c6dbef"/>
<rect x="466.60" y="203.20" width="11.60" height="7.76" fill="#67000d"/>
<rect x="292.60" y="226.47" width="11.60" height="7.76" fill="#fee0d2"/>
<rect x="304.20" y="226.47" width="11.60" height="7.76" fill="#c6dbef"/>
<rect x="315.80" y="226.47" width="11.60" height="7.76" fill="#fee0d2"/>
<rect x="327.40" y="226.47" width="11.60" height="7.76" fill="#deebf7"/>
<rect x="339.00" y="226.47" width="11.60" height="7.76" fill="#fee0d2"/>
<rect x="350.60" y="226.47" width="11.60" height="7.76" fill="#deebf7"/>
<rect x="362.20" y="226.47" width="11.60" height="7.76" fill="#fee0d2"/>
<rect x="408.60" y="226.47" width="11.60" height="7.76" fill="#fc9272"/>
<rect x="420.20" y="226.47" width="11.60" height="7.76" fill="#9ecae1"/>
<rect x="431.80" y="226.47" width="11.60" height="7.76" fill="#67000d"/>
<rect x="443.40" y="226.47" width="11.60" height="7.76" fill="#c6dbef"/>
<rect x="455.00" y="226.47" width="11.60" height="7.76" fill="#fee0d2"/>
<rect x="466.60" y="226.47" width="11.60" height="7.76" fill="#2171b5"/>
<rect x="269.40" y="234.22" width="11.60" height="7.76" fill="#fee0d2"/>
<rect x="281.00" y="234.22" width="11.60" height="7.76" fill="#c6dbef"/>
<rect x="292.60" y="234.22" width="11.60" height="7.76" fill="#deebf7"/>
<rect x="304.20" y="234.22" width="11.60" height="7.76" fill="#4292c6"/>
<rect x="315.80" y="234.22" width="11.60" height="7.76" fill="#c6dbef"/>
<rect x="327.40" y="234.22" width="11.60" height="7.76" fill="#9ecae1"/>
<rect x="339.00" y="234.22" width="11.60" height="7.76" fill="#fcbba1"/>
<rect x="350.60" y="234.22" width="11.60" height="7.76" fill="#cb181d"/>
<rect x="362.20" y="234.22" width="11.60" height="7.76" fill="#fcbba1"/>
<rect x="373.80" y="234.22" width="11.60" height="7.76" fill="#9ecae1"/>
<rect x="385.40" y="234.22" width="11.60" height="7.76" fill="#9ecae1"/>
<rect x="397.00" y="234.22" width="11.60" height="7.76" fill="#6baed6"/>
<rect x="408.60" y="234.22" width="11.60" height="7.76" fill="#fcbba1"/>
<rect x="420.20" y="234.22" width="11.60" height="7.76" fill="#fc9272"/>
<rect x="431.80" y="234.22" width="11.60" height="7.76" fill="#cb181d"/>
<rect x="443.40" y="234.22" width="11.60" height="7.76" fill="#fee0d2"/>
<rect x="455.00" y="234.22" width="11.60" height="7.76" fill="#fee0d2"/>
<rect x="466.60" y="234.22" width="11.60" height="7.76" fill="#c6dbef"/>
<rect x="269.40" y="241.98" width="11.60" height="7.76" fill="#fcbba1"/>
<rect x="281.00" y="241.98" width="11.60" height="7.76" fill="#cb181d"/>
<rect x="292.60" y="241.98" width="11.60" height="7.76" fill="#fc9272"/>
<rect x="304.20" y="241.98" width="11.60" height="7.76" fill="#9ecae1"/>
<rect x="315.80" y="241.98" width="11.60" height="7.76" fill="#c6dbef"/>
<rect x="327.40" y="241.98" width="11.60" height="7.76" fill="#c6dbef"/>
<rect x="339.00" y="241.98" width="11.60" height="7.76" fill="#fcbba1"/>
<rect x="350.60" y="241.98" width="11.60" height="7.76" fill="#fb6a4a"/>
<rect x="362.20" y="241.98" width="11.60" height="7.76" fill="#6baed6"/>
<rect x="373.80" y="241.98" width="11.60" height="7.76" fill="#c6dbef"/>
<rect x="385.40" y="241.98" width="11.60" height="7.76" fill="#deebf7"/>
<rect x="397.00" y="241.98" width="11.60" height="7.76" fill="#6baed6"/>
<rect x="408.60" y="241.98" width="11.60" height="7.76" fill="#fb6a4a"/>
<rect x="420.20" y="241.98" width="11.60" height="7.76" fill="#cb181d"/>
<rect x="431.80" y="241.98" width="11.60" height="7.76" fill="#c6dbef"/>
<rect x="443.40" y="241.98" width="11.60" height="7.76" fill="#9ecae1"/>
<rect x="455.00" y="241.98" width="11.60" height="7.76" fill="#c6dbef"/>
<rect x="466.60" y="241.98" width="11.60" height="7.76" fill="#deebf7"/>
<rect x="269.40" y="249.73" width="11.60" height="7.76" fill="#fb6a4a"/>
<rect x="281.00" y="249.73" width="11.60" height="7.76" fill="#ef3b2c"/>
<rect x="292.60" y="249.73" width="11.60" height="7.76" fill="#fc9272"/>
<rect x="304.20" y="249.73" width="11.60" height="7.76" fill="#fc9272"/>
<rect x="315.80" y="249.73" width="11.60" height="7.76" fill="#fc9272"/>
<rect x="327.40" y="249.73" width="11.60" height="7.76" fill="#fc9272"/>
<rect x="339.00" y="249.73" width="11.60" height="7.76" fill="#9ecae1"/>
<rect x="350.60" y="249.73" width="11.60" height="7.76" fill="#9ecae1"/>
<rect x="362.20" y="249.73" width="11.60" height="7.76" fill="#6baed6"/>
<rect x="373.80" y="249.73" width="11.60" height="7.76" fill="#4292c6"/>
<rect x="385.40" y="249.73" width="11.60" height="7.76" fill="#4292c6"/>
<rect x="397.00" y="249.73" width="11.60" height="7.76" fill="#4292c6"/>
<rect x="408.60" y="249.73" width="11.60" height="7.76" fill="#fc9272"/>
<rect x="420.20" y="249.73" width="11.60" height="7.76" fill="#fcbba1"/>
<rect x="431.80" y="249.73" width="11.60" height="7.76" fill="#fee0d2"/>
<rect x="443.40" y="249.73" width="11.60" height="7.76" fill="#fee0d2"/>
<rect x="455.00" y="249.73" width="11.60" height="7.76" fill="#deebf7"/>
<rect x="466.60" y="249.73" width="11.60" height="7.76" fill="#deebf7"/>
</g>
<text x="227.6" y="69.7" font-size="6.75" text-anchor="start" fill="#111" >FKBP5</text>
<text x="227.6" y="77.53" font-size="6.75" text-anchor="start" fill="#111" >TMPRSS2</text>
<text x="227.6" y="85.36" font-size="6.75" text-anchor="start" fill="#111" >KLK3</text>
<text x="227.6" y="93.19" font-size="6.75" text-anchor="start" fill="#111" >ACSL3</text>
<text x="227.6" y="101.02000000000001" font-size="6.75" text-anchor="start" fill="#111" >GNMT</text>
<text x="227.6" y="108.85" font-size="6.75" text-anchor="start" fill="#111" >EAF2</text>
<text x="227.6" y="116.68" font-size="6.75" text-anchor="start" fill="#111" >ABCC4</text>
<text x="227.6" y="124.51" font-size="6.75" text-anchor="start" fill="#111" >MAF</text>
<text x="227.6" y="132.34" font-size="6.75" text-anchor="start" fill="#111" >ELL2</text>
<text x="227.6" y="140.17000000000002" font-size="6.75" text-anchor="start" fill="#111" >KLK2</text>
<text x="227.6" y="148.0" font-size="6.75" text-anchor="start" fill="#111" >CENPN</text>
<text x="227.6" y="155.82999999999998" font-size="6.75" text-anchor="start" fill="#111" >HERC3</text>
<text x="227.6" y="163.66000000000003" font-size="6.75" text-anchor="start" fill="#111" >NKX3−1</text>
<text x="227.6" y="171.49" font-size="6.75" text-anchor="start" fill="#111" >TNK1</text>
<text x="227.6" y="179.32" font-size="6.75" text-anchor="start" fill="#111" >C1orf116</text>
<text x="227.6" y="187.15" font-size="6.75" text-anchor="start" fill="#111" >MPHOSPH9</text>
<text x="227.6" y="194.98000000000002" font-size="6.75" text-anchor="start" fill="#111" >TBC1D9B</text>
<text x="227.6" y="202.81" font-size="6.75" text-anchor="start" fill="#111" >SRP72</text>
<text x="227.6" y="210.64" font-size="6.75" text-anchor="start" fill="#111" >PMEPA1</text>
<text x="227.6" y="218.47000000000003" font-size="6.75" text-anchor="start" fill="#111" >PIP5K2B</text>
<text x="227.6" y="226.3" font-size="6.75" text-anchor="start" fill="#111" >PTGER4</text>
<text x="227.6" y="234.13" font-size="6.75" text-anchor="start" fill="#111" >MED28</text>
<text x="227.6" y="241.95999999999998" font-size="6.75" text-anchor="start" fill="#111" >ZBTB10</text>
<text x="227.6" y="249.79000000000002" font-size="6.75" text-anchor="start" fill="#111" >MAPRE2</text>
<text x="227.6" y="257.62" font-size="6.75" text-anchor="start" fill="#111" >AR</text>
<text x="227.6" y="265.45" font-size="6.75" text-anchor="start" fill="#111" >ADAM7</text>
<text x="227.6" y="273.28000000000003" font-size="6.75" text-anchor="start" fill="#111" >CD200</text>
<rect x="511.0" y="63.20" width="23.5" height="6.56" fill="#67000d"/>
<rect x="511.0" y="69.56" width="23.5" height="6.56" fill="#a50f15"/>
<rect x="511.0" y="75.92" width="23.5" height="6.56" fill="#cb181d"/>
<rect x="511.0" y="82.29" width="23.5" height="6.56" fill="#ef3b2c"/>
<rect x="511.0" y="88.65" width="23.5" height="6.56" fill="#fb6a4a"/>
<rect x="511.0" y="95.01" width="23.5" height="6.56" fill="#fc9272"/>
<rect x="511.0" y="101.38" width="23.5" height="6.56" fill="#fcbba1"/>
<rect x="511.0" y="107.74" width="23.5" height="6.56" fill="#fee0d2"/>
<rect x="511.0" y="114.10" width="23.5" height="6.56" fill="#deebf7"/>
<rect x="511.0" y="120.46" width="23.5" height="6.56" fill="#c6dbef"/>
<rect x="511.0" y="126.83" width="23.5" height="6.56" fill="#9ecae1"/>
<rect x="511.0" y="133.19" width="23.5" height="6.56" fill="#6baed6"/>
<rect x="511.0" y="139.55" width="23.5" height="6.56" fill="#4292c6"/>
<rect x="511.0" y="145.91" width="23.5" height="6.56" fill="#2171b5"/>
<rect x="511.0" y="152.28" width="23.5" height="6.56" fill="#08519c"/>
<rect x="511.0" y="158.64" width="23.5" height="6.56" fill="#08306b"/>
<rect x="511.0" y="63.2" width="23.5" height="101.8" fill="none" stroke="#222" stroke-width="0.8"/>
<text x="497.4" y="49.0" font-size="9.6" fill="#111" textLength="49.0" lengthAdjust="spacingAndGlyphs">Expression</text>
<text x="502.9" y="60.5" font-size="9.6" fill="#111" textLength="37.4" lengthAdjust="spacingAndGlyphs">Z−Score</text>
<line x1="505" y1="77.4" x2="511" y2="77.4" stroke="#333" stroke-width="0.9"/>
<text x="502.8" y="80.9" font-size="9.5" text-anchor="end" fill="#111" >2</text>
<line x1="505" y1="95.6" x2="511" y2="95.6" stroke="#333" stroke-width="0.9"/>
<text x="502.8" y="99.1" font-size="9.5" text-anchor="end" fill="#111" >1</text>
<line x1="505" y1="114.0" x2="511" y2="114.0" stroke="#333" stroke-width="0.9"/>
<text x="502.8" y="117.5" font-size="9.5" text-anchor="end" fill="#111" >0</text>
<line x1="505" y1="132.3" x2="511" y2="132.3" stroke="#333" stroke-width="0.9"/>
<text x="502.8" y="135.8" font-size="9.5" text-anchor="end" fill="#111" >−1</text>
<line x1="505" y1="150.5" x2="511" y2="150.5" stroke="#333" stroke-width="0.9"/>
<text x="502.8" y="154.0" font-size="9.5" text-anchor="end" fill="#111" >−2</text>
<rect x="55.5" y="331.7" width="205.5" height="165.5" fill="none" stroke="#b0b0b0" stroke-width="1.1"/>
<line x1="62.70" y1="497.2" x2="62.70" y2="502.7" stroke="#909090" stroke-width="1"/>
<text x="62.70" y="513.0" font-size="10.2" text-anchor="middle" fill="#111" >−4</text>
<line x1="110.30" y1="497.2" x2="110.30" y2="502.7" stroke="#909090" stroke-width="1"/>
<text x="110.30" y="513.0" font-size="10.2" text-anchor="middle" fill="#111" >−2</text>
<line x1="157.90" y1="497.2" x2="157.90" y2="502.7" stroke="#909090" stroke-width="1"/>
<text x="157.90" y="513.0" font-size="10.2" text-anchor="middle" fill="#111" >0</text>
<line x1="205.50" y1="497.2" x2="205.50" y2="502.7" stroke="#909090" stroke-width="1"/>
<text x="205.50" y="513.0" font-size="10.2" text-anchor="middle" fill="#111" >2</text>
<line x1="253.10" y1="497.2" x2="253.10" y2="502.7" stroke="#909090" stroke-width="1"/>
<text x="253.10" y="513.0" font-size="10.2" text-anchor="middle" fill="#111" >4</text>
<line x1="50.5" y1="491.30" x2="55.5" y2="491.30" stroke="#909090" stroke-width="1"/>
<text transform="translate(47.9,491.30) rotate(-90)" font-size="10.2" text-anchor="middle" fill="#111">−4</text>
<line x1="50.5" y1="453.00" x2="55.5" y2="453.00" stroke="#909090" stroke-width="1"/>
<text transform="translate(47.9,453.00) rotate(-90)" font-size="10.2" text-anchor="middle" fill="#111">−2</text>
<line x1="50.5" y1="414.70" x2="55.5" y2="414.70" stroke="#909090" stroke-width="1"/>
<text transform="translate(47.9,414.70) rotate(-90)" font-size="10.2" text-anchor="middle" fill="#111">0</text>
<line x1="50.5" y1="376.40" x2="55.5" y2="376.40" stroke="#909090" stroke-width="1"/>
<text transform="translate(47.9,376.40) rotate(-90)" font-size="10.2" text-anchor="middle" fill="#111">2</text>
<line x1="50.5" y1="338.10" x2="55.5" y2="338.10" stroke="#909090" stroke-width="1"/>
<text transform="translate(47.9,338.10) rotate(-90)" font-size="10.2" text-anchor="middle" fill="#111">4</text>
<text x="70.0" y="344.8" font-size="10.6" fill="#111" textLength="35.6" lengthAdjust="spacingAndGlyphs">R = 0.47</text>
<text x="158.25" y="534.4" font-size="10.25" text-anchor="middle" fill="#111" >Genes Log2FC Darolutamide vs. R1881, 8h</text>
<text transform="translate(28.9,415.25) rotate(-90)" font-size="10.25" text-anchor="middle" fill="#111">Proteins Log2FC Darolutamide vs. R1881, 14h</text>
<path d="M157.8 412.4h0M158.2 417.3h0M148.2 418.9h0M177.3 408.7h0M176.3 410.0h0M167.1 412.3h0M137.7 414.6h0M168.7 410.1h0M137.3 430.6h0M148.8 420.3h0M165.8 414.0h0M168.9 417.0h0M165.9 411.3h0M152.0 406.2h0M169.4 405.6h0M152.6 421.2h0M156.6 416.4h0M170.5 411.2h0M155.1 422.0h0M154.0 408.8h0M149.9 415.7h0M167.6 422.5h0M162.2 406.5h0M132.7 422.9h0M160.0 420.0h0M168.6 413.5h0M140.6 414.2h0M171.0 406.8h0M182.0 408.0h0M163.2 422.3h0M170.3 416.5h0M155.0 423.9h0M147.7 421.0h0M179.9 423.2h0M140.7 417.8h0M182.1 406.7h0M134.3 418.4h0M151.0 423.8h0M175.4 404.9h0M163.7 412.7h0M167.7 403.6h0M170.3 409.6h0M169.3 422.6h0M179.8 404.9h0M169.0 425.2h0M152.4 411.5h0M135.6 421.4h0M176.0 419.6h0M184.5 406.3h0M159.3 413.2h0M170.7 411.9h0M177.8 415.2h0M155.5 409.6h0M161.9 420.0h0M175.0 402.8h0M155.1 424.5h0M159.5 416.0h0M157.2 407.0h0M146.8 410.2h0M143.4 423.5h0M170.5 405.8h0M173.7 409.9h0M163.5 413.3h0M169.7 414.0h0M165.4 410.3h0M161.5 410.0h0M169.6 400.6h0M166.1 416.3h0M156.1 415.9h0M174.7 413.9h0M167.0 402.2h0M145.4 416.7h0M167.2 412.0h0M155.3 412.0h0M165.5 417.0h0M166.5 417.0h0M160.0 416.4h0M160.6 417.9h0M175.9 418.7h0M160.5 409.1h0M173.7 402.9h0M137.2 422.1h0M156.6 411.9h0M177.1 404.6h0M140.8 415.0h0M140.2 418.3h0M178.5 411.9h0M164.2 409.2h0M163.5 414.8h0M183.4 403.5h0M157.3 422.6h0M174.5 413.5h0M163.4 410.0h0M164.6 410.1h0M139.7 428.7h0M170.3 418.7h0M146.8 426.9h0M179.6 406.2h0M182.5 415.9h0M161.5 421.7h0M172.4 402.6h0M148.8 407.9h0M175.6 412.7h0M133.3 412.2h0M160.1 418.7h0M167.2 410.9h0M182.9 416.3h0M177.7 402.1h0M182.2 411.3h0M150.8 410.8h0M163.1 413.6h0M181.8 411.9h0M128.7 424.2h0M135.0 415.4h0M166.0 417.5h0M161.3 409.6h0M162.6 406.3h0M160.6 408.5h0M182.8 400.2h0M151.9 411.4h0M134.7 427.2h0M133.4 414.2h0M143.9 418.6h0M158.7 415.5h0M153.0 415.1h0M187.0 408.9h0M169.1 406.9h0M158.6 423.0h0M153.5 409.8h0M138.0 423.5h0M175.9 406.7h0M161.6 409.7h0M163.8 421.4h0M139.1 423.5h0M174.6 415.3h0M148.6 422.2h0M139.6 420.2h0M144.6 416.1h0M166.2 417.6h0M133.7 416.3h0M157.5 429.2h0M149.0 415.6h0M154.9 411.3h0M172.1 408.3h0M166.1 405.5h0M170.9 409.9h0M131.7 415.7h0M180.2 412.5h0M154.8 404.3h0M136.4 417.3h0M148.2 413.4h0M188.4 409.6h0M169.5 407.4h0M148.5 418.1h0M165.7 408.7h0M161.0 416.0h0M147.0 420.1h0M174.2 411.3h0M149.3 422.5h0M177.7 407.3h0M170.3 409.8h0M185.5 406.9h0M160.5 411.7h0M133.7 414.4h0M166.1 418.0h0M180.4 399.5h0M141.4 423.1h0M165.6 412.7h0M155.8 421.9h0M191.8 401.8h0M144.4 426.6h0M185.8 403.4h0M187.5 404.1h0M149.0 415.8h0M130.6 426.0h0M160.6 411.7h0M151.1 417.7h0M168.0 411.0h0M170.6 411.4h0M156.8 410.9h0M162.2 419.6h0M152.5 416.6h0M159.9 414.1h0M161.5 413.6h0M159.6 422.8h0M167.5 406.9h0M167.7 414.5h0M167.8 419.2h0M134.4 420.2h0M148.2 413.1h0M146.0 424.4h0M184.0 412.1h0M141.9 423.6h0M168.9 410.0h0M164.0 405.1h0M171.6 412.6h0M170.0 402.7h0M175.3 405.4h0M146.0 419.0h0M171.9 414.3h0M176.7 407.7h0M174.4 413.2h0M179.2 412.2h0M162.8 416.5h0M174.0 406.0h0M161.6 421.8h0M164.1 411.9h0M177.6 406.4h0M161.8 409.4h0M169.2 411.8h0M162.3 416.0h0M171.3 419.0h0M152.5 416.6h0M140.6 421.9h0M132.8 425.1h0M169.6 409.5h0M160.7 416.3h0M141.2 407.9h0M168.8 406.4h0M148.9 418.6h0M135.5 415.6h0M174.8 423.4h0M160.7 411.0h0M136.3 431.4h0M146.3 421.9h0M141.4 418.9h0M165.0 410.0h0M171.5 403.3h0M178.1 419.1h0M154.3 422.8h0M146.1 418.5h0M161.5 411.7h0M138.8 427.2h0M161.1 416.0h0M157.0 416.1h0M150.6 412.8h0M166.5 414.1h0M151.9 417.9h0M147.5 417.5h0M140.0 418.1h0M163.6 422.7h0M157.9 417.4h0M168.0 409.5h0M161.0 420.0h0M159.4 415.5h0M172.0 410.6h0M151.2 425.2h0M156.1 420.4h0M145.6 418.9h0M154.5 415.6h0M168.9 415.6h0M156.9 408.9h0M163.2 407.5h0M150.7 415.5h0M170.1 398.5h0M166.1 405.9h0M172.4 406.5h0M168.8 414.1h0M168.7 419.7h0M178.3 417.3h0M165.0 400.9h0M158.3 415.3h0M178.1 410.9h0M149.9 415.6h0M169.8 408.5h0M150.4 406.4h0M185.3 409.4h0M165.3 416.5h0M181.7 414.6h0M171.1 415.5h0M151.6 412.4h0M180.5 410.6h0M151.8 411.8h0M160.8 413.0h0M183.2 403.0h0M154.0 402.3h0M161.5 409.9h0M152.2 417.0h0M136.5 409.2h0M181.0 417.9h0M140.0 429.3h0M178.3 413.9h0M160.6 416.8h0M159.7 421.7h0M161.8 423.4h0M160.4 413.0h0M168.1 414.7h0M148.6 416.5h0M154.5 406.6h0M172.4 413.0h0M154.7 420.5h0M148.1 419.8h0M165.7 410.6h0M169.6 400.1h0M151.4 416.8h0M134.8 423.7h0M163.9 413.2h0M167.3 414.9h0M166.7 413.2h0M172.5 423.9h0M148.8 417.5h0M146.7 424.3h0M170.4 416.7h0M170.5 408.2h0M165.8 410.6h0M160.0 423.7h0M161.0 412.0h0M153.9 417.0h0M172.2 417.8h0M170.6 401.3h0M153.6 415.5h0M159.3 405.7h0M166.0 408.2h0M151.6 416.9h0M161.3 425.6h0M182.0 404.7h0M136.5 415.6h0M159.6 412.4h0M166.7 422.7h0M158.4 406.2h0M153.3 422.8h0M142.1 426.4h0M166.3 403.3h0M167.6 411.9h0M193.4 411.0h0M151.8 413.6h0M169.3 419.2h0M144.8 416.5h0M165.0 421.9h0M158.6 418.7h0M168.0 414.0h0M160.2 417.1h0M176.5 402.9h0M156.2 410.7h0M150.7 416.6h0M172.2 403.1h0M156.0 416.3h0M164.3 423.3h0M161.7 418.8h0M166.8 420.5h0M133.2 420.6h0M165.2 417.3h0M174.2 413.6h0M152.8 413.7h0M139.1 423.7h0M161.2 409.6h0M159.1 413.3h0M152.1 414.9h0M185.2 413.7h0M152.3 416.6h0M163.9 407.9h0M143.8 431.4h0M170.1 407.9h0M170.4 411.5h0M165.1 408.2h0M166.7 403.4h0M143.8 420.8h0M173.1 414.5h0M174.7 398.6h0M161.4 416.3h0M154.3 421.4h0M152.5 412.7h0M162.0 414.2h0M159.0 409.6h0M168.5 414.0h0M171.0 413.6h0M145.0 409.4h0M168.1 419.1h0M176.9 409.2h0M139.1 409.7h0M166.2 408.2h0M164.3 415.0h0M139.4 413.5h0M161.9 416.4h0M166.5 413.1h0M171.1 414.9h0M160.9 427.9h0M155.4 411.9h0M180.6 412.8h0M159.7 405.4h0M156.8 411.2h0M185.4 409.2h0M179.0 415.2h0M164.4 414.5h0M163.1 407.4h0M152.0 420.3h0M168.6 419.6h0M168.6 409.7h0M157.5 412.3h0M139.3 414.8h0M139.4 423.8h0M153.5 418.9h0M173.7 411.5h0M155.8 412.6h0M184.1 409.8h0M166.7 406.0h0M165.3 421.7h0M193.0 420.0h0M160.9 412.3h0M175.3 407.6h0M157.6 422.0h0M162.9 408.0h0M145.9 424.4h0M161.1 426.6h0M157.8 418.2h0M167.9 417.6h0M148.9 419.9h0M160.8 418.9h0M161.6 410.1h0M178.4 400.6h0M150.3 419.7h0M188.6 413.2h0M161.0 411.6h0M142.1 416.1h0M161.1 426.0h0M165.6 406.5h0M134.8 415.5h0M164.5 411.1h0M167.8 405.3h0M158.3 410.0h0M155.6 411.5h0M149.8 417.9h0M186.2 406.6h0M159.2 422.2h0M150.2 416.0h0M174.9 409.2h0M169.0 413.3h0M180.8 412.9h0M153.6 411.0h0M162.4 416.2h0M153.2 418.1h0M170.4 410.6h0M144.2 415.8h0M164.0 420.3h0M172.5 414.0h0M156.7 410.9h0M180.3 414.8h0M167.7 418.7h0M154.4 408.9h0M152.2 411.7h0M193.2 410.5h0M168.6 413.7h0M151.9 403.6h0M162.6 424.5h0M173.7 422.6h0M177.9 414.7h0M163.5 406.5h0M163.2 422.9h0M137.3 412.7h0M172.0 417.4h0M173.7 409.0h0M170.7 426.5h0M157.2 410.1h0M171.9 407.0h0M163.9 411.2h0M147.9 419.7h0M162.0 409.2h0M155.1 409.0h0M150.2 415.5h0M153.9 415.4h0M151.6 426.6h0M177.1 409.4h0M153.5 415.2h0M175.6 417.6h0M159.9 411.7h0M169.0 415.1h0M131.4 413.6h0M166.2 413.6h0M157.5 413.9h0M155.4 422.3h0M150.9 420.7h0M152.7 423.7h0M170.6 420.8h0M170.9 418.9h0M166.5 405.2h0M164.4 418.5h0M162.2 413.6h0M136.7 423.8h0M163.8 417.1h0M162.6 410.0h0M172.4 406.8h0M169.9 414.6h0M161.2 416.4h0M157.0 416.8h0M136.8 422.1h0M161.1 420.7h0M161.1 411.6h0M159.1 402.5h0M158.5 426.5h0M175.5 410.9h0M168.9 414.9h0M169.3 426.7h0M173.6 409.8h0M161.8 418.2h0M170.6 415.7h0M164.7 417.1h0M129.4 421.9h0M164.4 409.4h0M149.0 417.6h0M170.3 411.9h0M179.2 398.6h0M148.5 429.3h0M173.7 402.7h0M174.6 406.9h0M152.6 421.0h0M174.2 417.5h0M135.6 426.4h0M188.9 412.9h0M151.1 415.5h0M150.8 409.0h0M160.4 421.6h0M180.2 414.2h0M164.6 414.1h0M157.0 413.7h0M151.6 428.2h0M129.9 429.3h0M150.6 417.2h0M162.3 411.1h0M163.2 419.2h0M151.3 429.9h0M159.1 412.3h0M169.0 413.8h0M159.0 409.5h0M161.7 410.1h0M169.8 411.6h0M180.1 414.2h0M156.3 420.8h0M150.1 407.6h0M186.6 409.1h0M169.6 405.7h0M173.0 404.8h0M143.4 422.5h0M167.9 404.5h0M163.0 419.6h0M156.4 419.8h0M149.2 408.2h0M152.5 416.5h0M192.3 400.7h0M166.3 417.4h0M167.3 403.5h0M170.4 405.0h0M162.9 411.2h0M158.6 412.7h0M180.0 419.4h0M160.6 413.4h0M153.3 418.4h0M172.7 400.0h0M170.5 410.7h0M139.3 407.7h0M162.6 414.7h0M145.5 418.5h0M145.8 417.7h0M168.1 413.1h0M165.5 419.1h0M181.9 414.3h0M135.5 421.5h0M150.6 423.3h0M156.4 414.0h0M144.6 419.2h0M181.8 406.1h0M159.3 414.4h0M159.8 415.4h0M171.9 413.0h0M161.2 420.2h0M170.8 416.4h0M163.6 400.9h0M146.5 424.8h0M141.3 433.8h0M134.6 418.3h0M152.4 428.1h0M140.3 415.5h0M150.4 419.4h0M166.2 405.4h0M189.2 402.4h0M163.5 413.1h0M187.2 400.4h0M157.0 412.9h0M165.6 413.5h0M154.3 424.4h0M153.8 425.8h0M178.9 407.6h0M144.2 409.9h0M174.2 423.6h0M187.8 404.0h0M190.9 415.8h0M169.0 410.5h0M164.4 413.0h0M176.5 420.6h0M143.7 427.1h0M153.5 420.1h0M166.7 411.9h0M161.9 418.7h0M155.2 410.2h0M172.4 411.7h0M156.9 406.2h0M153.0 412.6h0M177.9 412.7h0M173.3 419.0h0M175.9 410.3h0M138.8 415.5h0M148.7 409.6h0M151.8 417.8h0M165.5 415.9h0M165.2 417.3h0M171.1 412.6h0M164.5 406.9h0M161.9 425.5h0M162.8 411.5h0M176.8 418.0h0M183.6 410.9h0M159.4 411.0h0M156.2 422.7h0M177.1 405.7h0M183.4 404.7h0M153.3 426.7h0M152.2 420.9h0M149.8 413.7h0M166.2 415.3h0M163.9 415.1h0M164.5 409.4h0M175.2 415.9h0M140.0 410.6h0M163.1 407.6h0M138.0 421.8h0M161.9 423.4h0M154.1 411.9h0M176.9 401.6h0M149.1 426.0h0M168.9 407.3h0M164.2 422.1h0M172.6 407.4h0M169.4 416.0h0M165.8 408.9h0M153.5 427.7h0M166.2 410.7h0M161.7 409.2h0M153.1 417.0h0M157.1 412.1h0M184.3 411.3h0M190.8 399.0h0M172.8 408.6h0M186.8 410.3h0M159.9 421.6h0M168.2 405.0h0M169.1 410.5h0M158.6 414.3h0M141.1 412.7h0M155.6 422.7h0M150.7 422.1h0M173.7 405.6h0M142.1 413.2h0M174.2 415.5h0M140.2 423.9h0M152.4 414.6h0M156.4 428.2h0M164.8 423.4h0M174.4 419.3h0M151.6 422.1h0M153.7 408.4h0M173.6 408.4h0M166.0 423.2h0M154.0 419.7h0M147.5 414.6h0M150.9 421.3h0M146.6 430.5h0M170.0 404.7h0M164.0 420.1h0M163.9 406.7h0M165.7 408.1h0M182.6 403.2h0M155.2 409.6h0M172.5 421.7h0M155.7 424.7h0M159.9 411.5h0M146.2 430.6h0M180.0 408.4h0M182.5 418.2h0M176.6 398.7h0M190.1 409.8h0M165.3 414.8h0M175.7 405.2h0M162.7 422.8h0M172.1 415.3h0M170.4 411.1h0M184.7 402.7h0M155.0 414.0h0M186.7 412.5h0M167.7 406.1h0M179.4 407.6h0M142.6 426.5h0M165.0 411.6h0M149.2 410.4h0M172.5 422.6h0M149.8 416.2h0M154.4 417.2h0M168.2 418.2h0M168.1 417.2h0M153.7 413.1h0M153.3 414.7h0M184.3 409.6h0M159.4 410.6h0M156.2 409.2h0M143.2 414.9h0M154.2 421.2h0M186.7 414.4h0M186.6 405.2h0M182.2 416.2h0M178.6 402.1h0M159.8 415.9h0M164.0 416.7h0M152.5 413.9h0M166.2 412.6h0M186.1 411.4h0M168.2 404.3h0M147.1 411.4h0M187.6 417.3h0M145.8 424.5h0M135.1 417.7h0M135.0 417.4h0M182.2 420.1h0M157.0 427.4h0M172.6 416.8h0M157.7 415.2h0M169.3 415.1h0M161.7 418.0h0M163.1 421.5h0M162.4 426.3h0M154.5 404.5h0M162.6 422.2h0M165.1 419.9h0M137.9 424.3h0M172.0 410.1h0M160.1 420.7h0M146.1 409.8h0M165.0 419.8h0M131.3 429.6h0M145.1 418.7h0M164.5 415.0h0M157.5 424.0h0M146.5 407.6h0M150.7 411.9h0M137.3 421.6h0M165.2 407.5h0M145.4 414.5h0M167.0 418.0h0M168.3 418.7h0M150.1 417.3h0M159.9 421.2h0M140.6 421.8h0M172.4 414.8h0M179.5 417.9h0M142.7 409.3h0M167.2 407.7h0M149.7 412.3h0M165.2 409.9h0M161.8 407.2h0M152.2 422.6h0M140.4 412.2h0M150.9 423.4h0M148.1 420.3h0M143.3 420.4h0M152.5 420.0h0M147.8 417.5h0M154.9 415.4h0M165.0 411.8h0M130.2 424.8h0M150.1 412.4h0M138.9 424.0h0M157.3 417.7h0M175.6 414.3h0M175.2 420.7h0M135.6 412.9h0M167.7 410.4h0M163.2 411.3h0M144.1 412.7h0M153.9 410.3h0M162.7 426.5h0M143.1 411.8h0M159.5 417.5h0M164.9 416.6h0M153.7 415.8h0M163.5 405.0h0M162.1 403.0h0M187.2 398.6h0M176.6 410.6h0M163.4 415.1h0M151.0 417.4h0M152.3 406.6h0M169.1 415.8h0M134.1 421.0h0M155.5 422.6h0M145.2 432.0h0M169.6 413.3h0M161.0 415.7h0M182.1 409.4h0M163.9 416.5h0M152.8 407.4h0M175.8 401.1h0M156.5 415.6h0M148.9 411.5h0M141.6 415.6h0M177.1 402.7h0M148.0 410.9h0M151.3 421.6h0M142.6 411.7h0M185.0 413.2h0M150.6 419.1h0M175.8 414.9h0M135.8 424.4h0M178.4 399.6h0M157.7 419.8h0M154.2 427.8h0M174.4 418.5h0M176.7 421.9h0M143.3 416.9h0M150.6 412.3h0M161.6 421.9h0M170.4 407.6h0M134.2 409.4h0M168.6 408.5h0M134.9 424.9h0M156.5 409.2h0M140.6 424.6h0M132.5 422.5h0M166.4 424.0h0M153.0 413.4h0M184.1 405.7h0M157.1 422.9h0M148.1 421.7h0M163.6 414.5h0M185.3 407.8h0M146.2 408.6h0M175.0 411.1h0M151.2 428.4h0M146.9 412.3h0M150.0 425.3h0M164.3 412.6h0M170.1 408.8h0M181.6 415.5h0M175.4 417.7h0M171.4 411.4h0M164.9 408.0h0M161.2 407.9h0M174.0 411.2h0M153.4 421.1h0M153.9 417.6h0M161.1 410.9h0M172.5 417.6h0M151.3 418.9h0M164.2 420.5h0M184.5 413.2h0M176.9 425.7h0M161.4 413.0h0M164.2 410.4h0M165.5 412.8h0M134.4 424.9h0M170.4 410.9h0M158.7 420.3h0M153.2 405.2h0M186.2 409.7h0M179.9 420.4h0M133.8 423.7h0M149.0 420.8h0M164.2 418.2h0M162.2 412.9h0M161.0 409.1h0M186.8 416.8h0M163.8 415.8h0M166.6 423.0h0M136.4 434.3h0M169.0 411.9h0M162.5 429.0h0M156.1 420.5h0M141.3 424.7h0M171.4 409.2h0M161.1 411.6h0M152.9 416.1h0M162.0 411.2h0M160.5 415.8h0M159.5 419.1h0M193.4 404.6h0M167.6 399.3h0M181.5 419.9h0M171.4 407.4h0M188.4 400.8h0M172.5 419.5h0M149.0 415.8h0M168.7 419.4h0M156.0 418.3h0M162.3 412.5h0M157.4 423.2h0M179.2 401.1h0M160.0 408.7h0M167.8 409.3h0M168.3 417.9h0M169.7 406.7h0M148.7 405.4h0M191.3 397.0h0M189.9 404.0h0M156.6 419.4h0M149.9 416.5h0M161.0 410.7h0M132.6 406.8h0M194.0 407.8h0M171.1 409.7h0M165.4 415.1h0M159.7 420.1h0M164.0 414.3h0M166.0 418.9h0M162.0 414.3h0M170.1 419.3h0M167.5 407.4h0M170.0 415.1h0M154.5 417.7h0M171.9 402.9h0M159.2 419.1h0M166.8 412.3h0M148.5 422.0h0M160.0 410.9h0M144.4 424.6h0M168.6 420.7h0M163.0 412.2h0M159.9 421.3h0M160.6 416.9h0M166.3 418.8h0M177.1 421.6h0M159.0 415.2h0M175.2 415.4h0M169.3 416.5h0M172.0 401.8h0M155.7 413.2h0M148.2 411.6h0M178.8 410.7h0M145.3 415.8h0M177.9 404.5h0M173.1 423.4h0M151.8 408.1h0M144.0 411.6h0M188.4 404.2h0M177.5 413.3h0M144.0 419.1h0M158.6 415.6h0M171.4 413.4h0M164.2 411.5h0M161.4 403.4h0M167.8 412.8h0M158.5 419.2h0M180.7 409.6h0M146.1 421.5h0M159.5 417.9h0M177.0 418.5h0M168.5 412.3h0M144.7 418.1h0M160.1 411.9h0M155.0 414.2h0M137.7 426.5h0M172.7 405.9h0M161.3 418.4h0M176.9 424.2h0M150.1 413.1h0M170.8 419.0h0M134.5 411.7h0M163.7 419.7h0M162.2 409.0h0M177.3 406.7h0M131.8 416.4h0M136.1 413.2h0M167.2 399.7h0M152.7 416.6h0M176.4 415.4h0M151.4 419.2h0M160.4 421.6h0M168.4 409.9h0M162.5 404.1h0M156.8 407.7h0M153.7 411.8h0M133.8 419.5h0M159.0 418.3h0M152.8 418.7h0M151.2 430.4h0M153.0 419.9h0M154.0 422.8h0M159.5 410.3h0M157.9 418.5h0M180.9 404.5h0M174.6 404.8h0M156.8 416.5h0M177.4 414.6h0M159.8 412.8h0M166.8 415.2h0M175.5 412.7h0M171.8 405.9h0M170.9 408.2h0M144.9 426.3h0M152.6 413.7h0M182.9 417.5h0M165.8 419.0h0M151.0 418.7h0M171.3 411.2h0M178.3 417.1h0M174.2 406.2h0M162.5 411.6h0M153.4 423.1h0M155.7 419.9h0M154.5 406.1h0M164.4 412.2h0M172.1 417.2h0M174.6 409.6h0M139.8 415.7h0M169.4 410.2h0M184.1 412.3h0M168.8 408.5h0M148.6 410.1h0M140.8 427.2h0M168.9 419.8h0M159.8 425.1h0M162.5 421.4h0M166.4 423.0h0M167.9 414.9h0M162.4 414.9h0M163.3 422.4h0M162.0 420.3h0M155.0 413.5h0M133.1 425.5h0M152.8 423.1h0M166.1 414.5h0M149.8 423.3h0M173.0 416.2h0M169.8 410.1h0M134.4 427.2h0M161.5 412.6h0M172.6 407.4h0M176.2 413.8h0M158.5 410.6h0M155.4 409.5h0M138.8 415.6h0M159.0 427.3h0M175.5 409.8h0M161.8 421.2h0M154.8 406.9h0M149.7 422.5h0M144.3 419.2h0M155.9 421.5h0M149.5 410.9h0M140.9 407.2h0M153.7 423.1h0M172.7 408.8h0M146.6 413.3h0M135.2 426.1h0M177.6 412.8h0M142.9 415.6h0M174.6 412.0h0M135.7 422.4h0M167.4 408.7h0M187.9 410.5h0M154.6 416.4h0M178.7 416.7h0M180.1 405.8h0M151.8 414.0h0M171.3 419.8h0M160.2 413.5h0M169.9 418.6h0M147.3 429.6h0M158.7 416.7h0M140.1 413.6h0M153.8 407.6h0M173.6 411.9h0M171.9 419.3h0M156.8 419.2h0M143.3 418.5h0M159.4 406.4h0M151.9 422.4h0M154.8 413.6h0M167.2 413.3h0M154.7 413.1h0M166.6 424.9h0M157.7 423.9h0M144.6 417.5h0M162.3 413.8h0M149.0 418.6h0M148.4 415.2h0M171.3 401.8h0M179.5 415.7h0M154.9 421.9h0M165.8 401.6h0M171.6 426.0h0M143.5 426.5h0M168.8 413.1h0M165.8 402.9h0M149.7 422.5h0M189.5 406.5h0M150.3 429.5h0M139.7 419.0h0M162.1 408.5h0M159.5 419.4h0M150.9 405.3h0M136.3 419.1h0M161.8 410.8h0M155.7 412.9h0M173.1 413.1h0M154.9 417.3h0M147.7 419.0h0M157.2 414.3h0M180.6 402.5h0M155.1 412.4h0M165.7 409.1h0M161.8 413.0h0M154.8 421.0h0M173.9 404.0h0M170.9 410.0h0M165.3 416.6h0M136.0 416.2h0M164.3 417.5h0M147.7 409.9h0M135.7 409.5h0M170.6 398.2h0M151.2 417.1h0M154.2 415.3h0M158.5 419.9h0M176.8 416.2h0M154.2 412.9h0M153.8 419.0h0M166.6 415.8h0M143.7 419.2h0M158.3 404.9h0M145.8 412.2h0M150.2 419.3h0M156.8 414.1h0M173.8 401.3h0M152.4 408.5h0M175.7 406.6h0M150.6 411.5h0M159.9 412.9h0M157.6 411.5h0M177.4 404.3h0M158.5 409.2h0M182.2 415.9h0M182.5 418.3h0M169.2 409.4h0M182.6 408.4h0M154.6 421.1h0M143.6 413.9h0M158.1 419.8h0M169.1 417.7h0M155.2 418.9h0M185.1 400.6h0M159.2 424.8h0M165.4 413.4h0M166.5 410.2h0M156.9 410.0h0M173.4 410.8h0M155.7 418.9h0M171.4 419.3h0M159.2 419.8h0M141.6 415.3h0M161.1 414.6h0M174.0 421.1h0M160.5 413.1h0M173.4 418.8h0M171.7 411.1h0M180.8 403.5h0M169.3 399.8h0M161.5 417.3h0M156.6 421.5h0M161.1 426.3h0M160.3 412.4h0M175.6 413.8h0M181.3 414.4h0M159.5 426.6h0M150.6 421.9h0M182.3 407.0h0M146.1 414.9h0M168.2 414.6h0M161.8 416.5h0M153.9 427.0h0M160.2 407.3h0M181.4 412.0h0M151.1 418.2h0M174.0 409.9h0M153.3 414.3h0M158.6 412.2h0M155.8 424.7h0M162.3 410.0h0M146.0 418.7h0M173.7 414.3h0M152.4 404.5h0M173.0 406.1h0M148.3 407.8h0M138.4 422.8h0M171.8 404.5h0M148.5 421.5h0M164.2 425.6h0M170.3 409.4h0M155.3 412.8h0M172.2 410.5h0M168.7 404.1h0M154.8 415.2h0M154.2 410.1h0M155.8 413.1h0M163.4 413.9h0M185.2 410.0h0M181.1 405.5h0M179.7 411.7h0M174.3 407.4h0M153.0 414.9h0M159.7 415.3h0M179.4 415.1h0M138.3 430.1h0M155.2 419.9h0M161.7 411.3h0M185.7 407.6h0M167.9 417.7h0M169.5 404.9h0M179.9 422.2h0M173.7 402.7h0M172.9 421.1h0M157.2 412.1h0M167.2 418.2h0M149.2 411.7h0M143.1 410.2h0M161.7 412.9h0M143.1 422.2h0M170.9 421.3h0M189.9 416.8h0M144.7 418.1h0M168.1 408.9h0M156.4 417.0h0M158.2 418.8h0M174.7 410.4h0M163.6 417.9h0M164.9 414.0h0M160.4 408.4h0M137.8 418.4h0M146.8 419.7h0M182.0 416.6h0M160.1 418.5h0M174.5 417.6h0M138.4 416.7h0M156.6 417.6h0M176.3 416.7h0M156.3 414.9h0M167.1 416.5h0M175.7 398.4h0M155.9 404.9h0M132.5 412.7h0M156.8 414.9h0M156.8 419.5h0M143.9 420.8h0M179.2 404.1h0M156.7 418.8h0M151.8 423.9h0M186.2 405.4h0M163.1 417.2h0M147.5 410.0h0M172.2 418.0h0M175.0 418.3h0M170.3 418.4h0M155.8 413.0h0M167.4 407.5h0M150.0 407.9h0M179.9 410.8h0M167.8 417.9h0M159.4 422.9h0M162.7 413.3h0M179.9 405.1h0M172.6 414.4h0M158.4 417.4h0M164.5 425.4h0M172.0 421.6h0M154.4 416.1h0M154.4 406.4h0M160.1 405.7h0M177.6 414.1h0M167.0 405.9h0M156.9 415.2h0M153.8 416.0h0M156.6 415.3h0M175.2 403.5h0M163.3 413.1h0M173.2 413.9h0M147.0 411.3h0M148.7 412.0h0M148.2 406.8h0M147.2 412.8h0M182.0 415.9h0M181.8 415.1h0M137.3 415.7h0M171.1 413.8h0M160.7 416.7h0M156.3 417.5h0M136.9 423.4h0M186.1 400.2h0M156.5 420.0h0M166.9 407.3h0M171.4 419.4h0M163.7 413.4h0M181.2 403.4h0M168.7 406.0h0M156.1 406.8h0M155.6 413.6h0M174.1 417.3h0M151.8 427.1h0M163.7 414.5h0M157.0 412.7h0M132.5 421.1h0M162.7 416.0h0M172.4 402.0h0M155.4 421.6h0M153.2 416.0h0M169.5 418.0h0M175.2 417.8h0M172.8 409.7h0M167.8 400.6h0M157.9 416.5h0M168.0 408.2h0M143.1 417.1h0M151.3 413.2h0M180.2 410.3h0M160.0 413.9h0M172.0 409.1h0M163.7 416.5h0M151.5 417.9h0M178.1 411.7h0M179.9 413.4h0M165.2 414.0h0M138.7 423.6h0M178.6 418.6h0M147.9 424.1h0M153.9 412.6h0M169.6 424.9h0M181.5 413.8h0M153.4 406.6h0M160.4 422.2h0M152.7 420.9h0M147.6 419.7h0M173.5 410.0h0M142.5 424.6h0M163.1 414.2h0M171.9 414.4h0M167.7 401.0h0M162.8 420.8h0M166.0 418.4h0M156.4 414.7h0M166.1 415.4h0M173.1 413.3h0M143.6 413.4h0M156.5 408.6h0M152.5 413.3h0M165.8 422.5h0M146.1 409.8h0M135.6 414.9h0M176.4 408.5h0M170.7 415.6h0M161.3 413.4h0M167.2 409.3h0M158.6 419.4h0M153.8 414.0h0M138.7 427.0h0M155.8 419.2h0M157.8 417.5h0M158.0 410.9h0M134.3 422.4h0M168.0 410.4h0M177.9 404.9h0M147.1 414.1h0M156.9 420.4h0M182.5 413.8h0M149.7 419.6h0M149.8 411.3h0M166.7 405.3h0M167.1 417.1h0M175.8 415.4h0M155.1 417.1h0M162.0 407.5h0M153.1 414.4h0M161.1 422.2h0M146.4 419.3h0M167.0 411.6h0M168.1 413.0h0M155.3 413.5h0M147.7 425.6h0M156.9 424.1h0M154.4 420.6h0M153.8 416.6h0M150.5 419.6h0M137.9 419.0h0M149.3 414.9h0M150.4 415.7h0M156.5 415.2h0M162.9 423.2h0M164.6 413.1h0M148.1 413.2h0M160.8 414.7h0M155.3 412.8h0M162.8 407.7h0M167.7 417.0h0M158.4 409.9h0M156.4 413.5h0M168.7 414.2h0M129.4 420.9h0M164.4 413.3h0M151.0 409.8h0M159.6 418.8h0M151.6 414.7h0M146.4 423.9h0M189.1 400.9h0M176.0 403.4h0M169.7 422.9h0M178.0 403.8h0M168.2 424.8h0M178.6 402.9h0M154.7 415.4h0M172.2 412.9h0M176.7 410.9h0M171.0 412.1h0M141.0 425.1h0M165.3 406.1h0M177.2 401.1h0M169.1 416.6h0M161.7 426.0h0M158.9 409.9h0M131.5 420.0h0M172.9 404.3h0M148.6 421.4h0M135.5 426.4h0M168.9 400.8h0M145.6 410.0h0M167.4 416.4h0M191.9 408.5h0M164.5 401.4h0M186.4 395.8h0M163.3 408.5h0M180.4 407.5h0M166.5 414.7h0M155.8 423.2h0M188.5 411.5h0M132.6 419.4h0M161.0 413.8h0M186.7 409.9h0M157.8 419.9h0M161.2 417.4h0M164.3 411.7h0M149.6 405.8h0M173.5 407.2h0M171.4 407.7h0M170.8 404.3h0M175.5 403.6h0M154.5 416.2h0M151.3 411.2h0M173.0 415.0h0M169.6 405.6h0M146.0 418.6h0M170.3 413.0h0M166.8 406.5h0M166.0 420.3h0M171.4 413.1h0M163.1 417.7h0M142.2 426.3h0M156.6 422.1h0M177.4 418.2h0M151.4 413.7h0M180.1 415.2h0M170.6 415.6h0M165.7 413.1h0M161.5 425.6h0M141.0 419.4h0M181.1 413.7h0M168.9 412.1h0M168.2 407.3h0M140.6 417.6h0M159.0 417.1h0M149.6 422.0h0M147.1 424.4h0M185.1 409.5h0M171.8 418.3h0M136.1 419.4h0M181.5 410.6h0M147.5 419.2h0M147.6 426.0h0M158.2 417.8h0M150.2 422.4h0M148.5 416.1h0M180.9 411.7h0M192.6 417.6h0M165.3 420.8h0M159.2 414.6h0M169.2 406.3h0M153.7 423.8h0M158.9 413.5h0M151.7 411.5h0M184.9 418.1h0M166.5 407.5h0M134.7 419.3h0M158.3 423.9h0M179.8 409.4h0M154.8 413.5h0M170.4 408.2h0M169.5 410.5h0M145.1 420.8h0M163.3 401.6h0M156.2 422.1h0M136.2 418.7h0M161.9 418.1h0M155.7 421.3h0M151.0 417.6h0M152.5 412.6h0M159.5 414.3h0M167.1 405.9h0M169.8 411.5h0M159.2 420.0h0M156.7 411.7h0M164.6 416.3h0M142.9 427.9h0M165.9 407.6h0M166.7 421.8h0M158.5 414.0h0M148.7 415.4h0M158.7 420.3h0M144.2 413.6h0M166.4 418.9h0M147.4 412.5h0M169.8 414.7h0M183.6 411.6h0M146.8 411.4h0M158.9 413.2h0M162.0 420.6h0M145.0 419.4h0M181.0 416.4h0M180.4 409.3h0M146.0 416.5h0M169.4 418.4h0M131.9 419.0h0M146.0 415.4h0M134.9 421.3h0M150.2 426.0h0M158.1 414.4h0M153.7 423.4h0M164.4 424.5h0M168.9 410.2h0M184.8 404.4h0M166.4 412.1h0M161.9 422.5h0M181.8 407.1h0M157.5 422.4h0M182.1 407.1h0M145.0 414.3h0M187.8 409.1h0M167.0 416.0h0M152.7 410.2h0M163.1 415.1h0M172.5 414.1h0M171.6 407.6h0M147.4 424.1h0M160.4 410.0h0M165.3 406.5h0M142.4 415.9h0M152.8 416.0h0M165.9 419.5h0M158.3 422.3h0M165.2 419.0h0M154.6 414.9h0M152.4 409.8h0M152.6 411.6h0M165.4 420.0h0M158.4 420.3h0M156.5 417.4h0M186.7 411.7h0M183.2 407.3h0M143.4 432.4h0M170.9 424.5h0M171.4 406.4h0M166.9 414.8h0M158.0 413.9h0M157.3 418.8h0M156.4 408.9h0M152.9 414.3h0M145.5 422.4h0M142.5 420.0h0M170.9 410.8h0M154.7 412.6h0M156.7 413.5h0M165.3 410.7h0M143.5 414.0h0M160.0 401.7h0M158.2 418.7h0M182.1 406.9h0M187.7 406.0h0M158.7 411.0h0M150.6 419.7h0M153.8 417.7h0M172.2 415.2h0M165.9 416.7h0M173.7 413.3h0M163.8 420.6h0M175.5 410.4h0M179.2 405.2h0M170.3 413.7h0M146.5 419.3h0M155.1 414.6h0M155.1 425.6h0M177.7 414.0h0M158.1 409.9h0M161.5 421.9h0M167.2 414.6h0M133.1 419.7h0M146.9 422.3h0M168.1 411.5h0M157.5 402.7h0M167.3 417.1h0M164.7 414.7h0M131.1 430.6h0M142.3 406.6h0M158.9 416.9h0M153.7 410.6h0M161.9 404.5h0M172.3 402.6h0M159.9 412.8h0M155.5 417.0h0M137.6 423.3h0M148.4 421.4h0M178.2 409.5h0M178.3 406.0h0M174.1 406.0h0M153.1 411.8h0M157.0 418.8h0M177.9 398.3h0M148.0 407.4h0M172.9 417.2h0M165.2 411.7h0M166.6 415.7h0M143.8 418.4h0M173.3 407.5h0M170.6 406.2h0M147.8 417.9h0M166.2 407.8h0M163.6 411.2h0M163.3 401.9h0M131.4 421.4h0M164.7 424.8h0M163.3 422.8h0M152.1 415.4h0M185.0 406.8h0M170.7 406.7h0M164.2 419.2h0M160.1 413.0h0M157.7 419.5h0M156.5 424.6h0M147.4 418.3h0M156.5 415.6h0M180.8 408.7h0M161.0 421.7h0M146.6 415.7h0M149.5 414.8h0M146.7 417.1h0M160.5 409.0h0M156.1 418.1h0M164.8 413.6h0M184.7 411.2h0M154.1 418.2h0M168.0 411.9h0M171.0 420.8h0M186.8 409.4h0M144.9 417.4h0M167.2 426.6h0M161.7 423.4h0M167.8 405.2h0M175.7 420.5h0M180.5 405.2h0M156.5 412.8h0M182.3 412.1h0M161.3 418.0h0M177.4 423.9h0M181.0 416.2h0M174.2 421.5h0M148.6 421.0h0M172.9 421.8h0M169.8 416.6h0M178.5 412.8h0M168.2 414.3h0M186.1 411.5h0M161.1 403.1h0M162.5 410.4h0M151.3 415.7h0M130.3 420.9h0M152.6 425.5h0M142.0 412.2h0M167.3 422.4h0M186.4 413.4h0M156.4 414.3h0M145.8 427.6h0M151.2 410.0h0M174.5 421.2h0M178.0 410.9h0M168.3 412.9h0M167.2 419.4h0M149.0 421.6h0M156.4 412.1h0M144.8 408.9h0M152.8 420.1h0M171.1 410.0h0M156.8 422.0h0M147.7 427.1h0M177.2 404.9h0M187.1 406.2h0M166.0 409.2h0M174.5 413.4h0M166.3 400.9h0M138.2 428.0h0M148.2 413.1h0M177.8 413.2h0M170.7 413.0h0M165.6 417.0h0M161.1 414.8h0M177.0 398.2h0M136.5 417.0h0M161.4 409.0h0M176.1 406.9h0M172.6 417.9h0M138.0 409.9h0M178.1 416.7h0M179.2 406.9h0M173.8 417.8h0M177.5 415.2h0M151.2 426.0h0M158.5 409.3h0M152.2 427.7h0M191.0 397.4h0M171.0 415.8h0M144.8 428.0h0M169.2 405.4h0M146.9 417.9h0M157.7 417.0h0M168.4 400.8h0M152.7 411.6h0M176.5 413.1h0M159.4 423.1h0M176.3 414.6h0M152.5 416.3h0M149.7 423.4h0M157.4 406.8h0M158.6 412.2h0M141.3 430.6h0M186.5 411.6h0M140.3 419.9h0M169.8 423.1h0M149.3 415.8h0M148.8 412.7h0M174.7 409.2h0M155.6 416.3h0M152.8 417.4h0M165.9 415.5h0M174.9 415.0h0M166.2 408.8h0M170.4 414.2h0M154.9 410.2h0M170.1 409.8h0M150.4 413.4h0M172.4 413.4h0M170.4 399.9h0M135.6 416.7h0M145.3 426.3h0M158.2 412.2h0M162.2 421.4h0M141.6 422.3h0M161.7 419.6h0M140.7 408.8h0M149.9 418.1h0M153.9 419.8h0M162.0 416.3h0M170.0 419.9h0M140.9 407.6h0M160.4 410.4h0M177.8 407.9h0M162.0 423.8h0M139.3 413.7h0M170.8 409.3h0M138.5 432.3h0M146.9 424.9h0M163.7 420.3h0M183.4 413.6h0M153.7 411.3h0M166.0 419.1h0M172.8 400.8h0M144.5 419.9h0M146.6 429.5h0M170.1 408.7h0M175.0 409.2h0M133.6 420.9h0M152.2 423.7h0M146.1 413.5h0M157.4 403.9h0M168.0 424.6h0M173.9 404.6h0M161.9 421.8h0M186.0 417.2h0M160.3 426.3h0M144.1 428.6h0M176.6 404.4h0M155.8 424.0h0M160.6 412.6h0M140.3 426.2h0M160.0 410.8h0M162.5 411.8h0M144.1 416.6h0M148.7 418.2h0M156.2 413.0h0M150.7 408.4h0M161.9 411.4h0M170.2 406.6h0M167.1 423.9h0M152.7 405.5h0M168.1 409.9h0M168.0 417.1h0M152.0 420.6h0M177.6 409.0h0M186.3 406.3h0M187.9 406.2h0M144.9 407.9h0M166.2 406.5h0M164.5 416.0h0M163.8 420.9h0M144.8 423.7h0M154.1 424.4h0M160.0 413.2h0M189.9 397.5h0M160.8 409.5h0M158.4 413.0h0M161.0 418.1h0M162.5 423.4h0M167.6 415.1h0M146.3 420.2h0M169.2 417.1h0M168.1 409.8h0M183.4 416.5h0M159.9 412.0h0M182.6 408.5h0M172.1 421.2h0M153.3 406.5h0M157.5 402.5h0M151.2 418.6h0M139.0 415.7h0M165.2 401.7h0M163.8 415.7h0M141.6 419.5h0M174.8 407.3h0M178.8 405.7h0M160.8 411.2h0M163.9 422.2h0M185.6 407.2h0M146.6 415.6h0M165.5 407.8h0M181.8 406.9h0M183.1 415.8h0M135.2 418.7h0M166.2 411.5h0M145.8 420.9h0M164.2 409.6h0M192.4 406.2h0M153.0 430.9h0M176.7 412.2h0M159.9 421.0h0M171.9 423.3h0M163.0 413.6h0M165.7 405.9h0M160.1 414.4h0M173.6 421.5h0M157.3 415.2h0M175.0 416.6h0M172.9 409.9h0M140.4 428.3h0M141.2 418.3h0M164.4 409.7h0M173.1 415.5h0M176.6 406.4h0M168.2 410.3h0M143.2 416.5h0M146.8 425.1h0M156.5 414.9h0M160.7 416.9h0M147.3 416.6h0M151.0 425.6h0M162.8 405.6h0M155.7 422.4h0M181.1 400.0h0M157.3 416.9h0M164.5 413.2h0M175.6 408.9h0M135.6 427.0h0M144.0 415.9h0M163.0 403.5h0M157.6 413.7h0M162.5 413.6h0M165.5 404.8h0M179.9 414.4h0M171.2 414.9h0M163.0 413.4h0M161.8 417.5h0M183.6 411.5h0M171.5 402.3h0M170.4 406.5h0M181.2 403.8h0M185.9 418.1h0M189.4 408.5h0M136.6 424.0h0M141.6 419.1h0M140.3 425.5h0M165.7 412.8h0M150.1 418.6h0M160.1 414.5h0M161.4 416.1h0M174.0 421.8h0M154.4 415.4h0M155.8 419.3h0M155.2 414.8h0M179.2 412.0h0M157.7 413.4h0M158.0 427.3h0M165.3 416.2h0M153.3 412.6h0M162.1 418.0h0M130.4 432.0h0M161.7 415.4h0M167.7 412.0h0M154.6 423.9h0M145.8 418.9h0M145.1 413.6h0M142.5 429.8h0M158.7 426.2h0M184.7 415.7h0M160.7 416.4h0M149.8 428.1h0M134.9 415.2h0M176.0 398.3h0M140.6 415.8h0M161.3 409.6h0M154.1 411.9h0M174.3 408.2h0M182.1 411.3h0M183.5 414.2h0M185.3 409.4h0M150.0 417.2h0M176.2 407.1h0M162.8 404.0h0M140.4 424.3h0M183.0 408.0h0M131.8 419.0h0M144.6 409.3h0M177.8 414.5h0M179.9 415.8h0M174.6 408.3h0M159.7 423.8h0M157.5 429.6h0M153.4 427.8h0M178.8 416.9h0M169.8 410.6h0M154.2 403.3h0M172.5 411.9h0M152.3 413.8h0M175.2 415.3h0M141.3 419.3h0M137.6 419.8h0M172.5 403.1h0M165.3 412.7h0M172.2 403.8h0M156.9 423.2h0M150.2 424.9h0M148.8 418.2h0M166.4 412.7h0M162.5 416.7h0M167.5 408.0h0M172.3 403.2h0M157.3 417.1h0M185.7 408.2h0M167.4 415.5h0M175.3 414.2h0M147.1 418.2h0M155.2 411.0h0M156.1 415.1h0M158.4 413.3h0M152.5 409.9h0M141.1 421.5h0M151.4 412.9h0M162.0 411.6h0M156.8 420.1h0M145.5 420.2h0M153.8 414.6h0M166.5 407.6h0M159.9 419.6h0M146.3 417.6h0M166.6 401.6h0M164.1 403.4h0M188.2 415.3h0M178.8 404.0h0M180.7 410.6h0M175.1 414.7h0M160.5 414.8h0M186.9 410.5h0M175.1 411.3h0M151.3 415.4h0M170.9 417.0h0M170.5 417.1h0M148.9 416.1h0M158.1 421.5h0M138.2 419.6h0M164.9 416.8h0M164.1 423.5h0M167.1 410.9h0M165.4 417.6h0M162.6 413.7h0M176.7 409.7h0M165.1 418.3h0M173.8 404.8h0M154.4 412.3h0M165.9 414.0h0M143.1 407.9h0M134.8 418.6h0M156.1 408.9h0M155.4 415.8h0M170.2 410.0h0M154.1 412.1h0M167.1 407.4h0M154.2 416.6h0M155.9 421.0h0M165.1 411.4h0M181.7 412.3h0M167.0 406.5h0M159.8 414.7h0M163.4 418.5h0M147.4 410.9h0M163.9 414.6h0M143.8 417.8h0M178.2 418.1h0M148.8 410.7h0M181.8 400.8h0M153.6 412.7h0M150.8 413.8h0M156.3 414.6h0M180.5 408.5h0M158.0 415.1h0M165.2 417.0h0M164.4 410.4h0M183.6 422.5h0M144.6 425.9h0M173.9 410.8h0M163.2 407.4h0M158.9 414.3h0M154.3 419.2h0M166.3 417.2h0M177.2 411.3h0M166.9 416.3h0M174.6 416.9h0M179.2 405.0h0M163.5 408.2h0M184.3 401.4h0M161.5 415.0h0M177.2 420.2h0M152.9 413.6h0M169.5 401.6h0M186.4 407.3h0M167.7 421.4h0M158.8 413.7h0M158.3 415.0h0M170.1 418.6h0M153.4 427.2h0M177.7 417.6h0M137.4 415.3h0M158.4 409.5h0M156.3 402.9h0M171.6 411.6h0M163.1 415.6h0M172.9 400.1h0M155.5 422.6h0M169.9 406.4h0M140.4 423.5h0M147.4 414.4h0M168.6 417.6h0M145.6 414.0h0M132.5 417.1h0M159.3 403.6h0M175.5 415.2h0M157.6 417.2h0M151.2 416.4h0M175.1 420.9h0M158.3 406.4h0M171.9 417.3h0M150.1 422.3h0M138.9 412.7h0M162.4 418.7h0M141.3 421.4h0M154.3 405.9h0M155.0 415.4h0M176.5 407.4h0M158.9 428.4h0M181.2 406.8h0M155.4 416.6h0M148.0 423.0h0M140.6 416.2h0M168.7 412.1h0M172.4 409.1h0M163.2 419.6h0M169.8 405.7h0M170.3 405.3h0M154.8 422.0h0M179.0 414.4h0M164.9 415.1h0M161.8 416.3h0M153.9 427.1h0M188.2 407.7h0M134.5 426.0h0M145.7 422.6h0M169.5 403.1h0M158.0 411.0h0M169.9 420.4h0M178.5 421.1h0M153.4 418.6h0M179.1 410.2h0M159.7 419.9h0M162.7 414.2h0M171.7 404.1h0M171.8 412.3h0M159.3 405.6h0M164.3 414.2h0M186.6 399.8h0M169.4 413.6h0M152.6 410.2h0M155.1 410.3h0M150.5 416.5h0M167.1 412.6h0M164.7 411.7h0M145.8 424.8h0M159.4 404.3h0M159.7 420.6h0M152.3 416.5h0M178.0 414.5h0M169.3 411.9h0M156.5 421.4h0M159.3 419.5h0M169.0 423.6h0M177.2 406.7h0M169.5 404.0h0M169.9 423.1h0M162.2 411.8h0M151.9 423.5h0M167.5 410.3h0M155.5 417.4h0M154.4 419.6h0M160.7 408.5h0M139.0 421.6h0M184.0 407.9h0M163.6 409.2h0M147.5 425.0h0M138.4 428.4h0M164.9 408.9h0M155.7 420.0h0M167.1 409.8h0M165.0 425.3h0M153.9 414.9h0M149.7 421.2h0M182.4 402.3h0M168.2 411.6h0M163.9 417.7h0M160.8 403.4h0M149.3 421.3h0M163.7 408.9h0M173.1 417.9h0M159.7 416.7h0M144.3 418.0h0M154.8 410.7h0M167.5 418.0h0M162.6 416.6h0M152.7 419.5h0M176.3 414.0h0M137.7 424.5h0M172.7 399.4h0M146.8 420.0h0M156.9 424.1h0M167.1 413.8h0M165.3 400.5h0M157.8 410.8h0M173.1 416.0h0M153.3 407.2h0M171.4 411.7h0M146.3 412.7h0M168.8 400.0h0M181.9 405.5h0M165.2 413.5h0M153.8 414.5h0M164.9 410.1h0M176.6 409.6h0M153.9 411.5h0M183.0 415.0h0M167.3 410.2h0M168.9 410.1h0M160.2 415.6h0M184.9 399.3h0M142.0 416.3h0M152.1 419.8h0M139.3 417.4h0M160.7 418.1h0M173.9 397.5h0M181.9 403.3h0M155.8 412.0h0M160.9 407.9h0M169.6 413.1h0M169.1 417.3h0M172.5 403.4h0M156.5 412.5h0M138.4 414.1h0M173.7 418.1h0M185.7 408.8h0M137.5 428.1h0M173.6 413.7h0M176.8 420.6h0M160.1 409.2h0M152.1 412.7h0M156.5 413.7h0M166.0 400.4h0M144.3 413.8h0M179.7 417.4h0M162.6 400.7h0M176.0 412.9h0M137.8 418.0h0M151.4 420.2h0M149.9 415.5h0M155.0 421.5h0M158.3 413.0h0M149.6 410.7h0M138.4 417.3h0M156.1 406.5h0M152.5 420.6h0M142.9 406.9h0M170.0 419.3h0M156.8 421.4h0M182.6 407.6h0M133.2 419.6h0M174.2 411.9h0M168.0 413.9h0M164.4 412.8h0M151.7 414.8h0M163.8 414.4h0M152.0 422.8h0M164.9 409.0h0M154.0 408.3h0M174.2 416.2h0M180.2 416.5h0M150.5 405.5h0M155.4 417.3h0M138.6 425.7h0M145.2 419.1h0M136.0 413.9h0M156.5 419.4h0M152.7 412.2h0M182.8 412.5h0M183.9 400.2h0M180.1 408.9h0M140.8 415.2h0M155.8 414.8h0M135.3 422.1h0M164.7 419.6h0M165.6 403.8h0M164.7 418.1h0M131.6 426.7h0M167.1 417.0h0M129.6 420.1h0M173.0 416.9h0M181.9 407.3h0M178.0 420.2h0M161.4 405.2h0M189.5 400.7h0M161.5 413.6h0M152.7 410.0h0M151.8 416.1h0M132.8 429.9h0M186.2 409.0h0M164.5 427.2h0M161.0 402.4h0M140.7 433.4h0M159.2 418.4h0M158.5 422.8h0M142.6 426.2h0M170.4 413.0h0M172.9 418.7h0M169.7 415.6h0M162.7 408.8h0M161.9 416.7h0M138.3 419.4h0M172.4 416.1h0M160.5 425.5h0M142.8 416.3h0M179.6 412.6h0M138.1 422.1h0M139.6 421.1h0M188.5 407.0h0M159.3 408.9h0M156.2 413.9h0M164.3 411.4h0M140.9 414.9h0M173.8 425.7h0M148.9 408.5h0M161.8 410.6h0M169.2 407.7h0M152.5 420.2h0M166.7 409.9h0M169.5 410.9h0M154.7 409.5h0M168.1 406.9h0M175.6 426.3h0M164.4 418.1h0M163.2 417.2h0M157.1 414.5h0M166.3 418.5h0M150.5 413.8h0M149.6 414.7h0M156.3 421.5h0M177.9 401.1h0M160.0 415.3h0M175.0 419.8h0M149.2 410.5h0M174.2 414.9h0M150.5 415.0h0M141.6 422.0h0M158.2 411.8h0M172.3 405.9h0M141.2 426.9h0M150.0 425.1h0M190.5 414.3h0M157.0 414.4h0M167.9 404.5h0M146.1 412.7h0M163.6 421.4h0M163.6 422.7h0M184.4 414.1h0M175.7 403.7h0M152.7 422.1h0M163.3 420.7h0M174.2 410.9h0M150.7 421.2h0M171.8 421.3h0M185.4 414.3h0M158.7 420.9h0M184.5 404.7h0M179.9 406.7h0M162.7 404.1h0M170.9 410.0h0M169.7 408.4h0M165.4 414.9h0M138.8 407.1h0M143.0 431.9h0M151.3 405.1h0M178.8 414.6h0M165.2 414.0h0M133.2 422.9h0M165.6 406.6h0M144.4 432.2h0M139.0 417.6h0M162.6 413.5h0M163.6 416.5h0M142.0 416.2h0M167.0 410.0h0M179.2 418.4h0M136.0 407.1h0M148.4 415.1h0M161.3 410.3h0M154.1 417.3h0M152.9 415.0h0M168.9 419.0h0M180.3 403.6h0M167.8 414.0h0M158.1 425.5h0M170.8 418.6h0M154.3 410.2h0M148.3 420.7h0M173.7 400.7h0M151.6 410.1h0M152.1 414.4h0M168.4 420.2h0M176.1 400.5h0M162.2 412.9h0M144.7 407.4h0M162.4 422.3h0M172.4 421.3h0M151.7 429.9h0M181.1 396.9h0M152.4 420.7h0M153.2 420.0h0M169.4 404.0h0M147.1 415.1h0M135.7 411.0h0M160.2 419.3h0M183.3 410.6h0M181.0 403.9h0M185.1 414.5h0M162.3 412.3h0M158.7 406.0h0M151.3 410.8h0M180.9 422.4h0M147.6 423.2h0M153.7 414.0h0M159.0 414.8h0M154.9 416.6h0M168.4 408.6h0M150.3 417.8h0M150.6 418.2h0M141.0 413.3h0M171.1 413.4h0M151.7 419.6h0M152.0 426.2h0M184.8 417.2h0M144.8 414.8h0M170.1 422.5h0M134.0 417.3h0M133.0 412.2h0M154.4 415.7h0M161.4 418.1h0M159.4 417.0h0M179.2 411.4h0M161.0 418.0h0M152.4 421.2h0M161.6 403.4h0M177.4 409.8h0M185.3 403.3h0M164.4 415.1h0M145.8 416.6h0M157.0 425.4h0M143.1 406.8h0M164.5 411.0h0M164.3 416.9h0M168.1 406.6h0M157.1 412.5h0M176.1 414.5h0M163.9 418.7h0M170.1 415.1h0M177.8 415.8h0M185.6 411.4h0M149.5 422.8h0M170.9 417.9h0M187.2 401.2h0M168.9 421.8h0M161.1 419.2h0M135.6 417.7h0M192.9 411.2h0M173.0 404.3h0M147.7 419.8h0M165.3 411.0h0M145.1 416.9h0M159.9 409.2h0M138.7 423.1h0M154.3 418.2h0M171.8 416.3h0M151.4 411.7h0M176.0 405.6h0M158.6 420.4h0M157.8 411.4h0M163.2 410.8h0M169.7 418.3h0M148.1 408.8h0M154.5 425.9h0M188.0 414.0h0M148.1 411.7h0M145.3 423.5h0M176.4 416.5h0M162.9 413.6h0M162.3 418.5h0M158.3 418.5h0M161.1 410.0h0M143.3 424.3h0M131.6 412.0h0M160.4 415.0h0M160.6 408.7h0M166.1 408.5h0M159.1 416.0h0M160.7 426.3h0M177.0 421.0h0M147.3 413.7h0M162.3 409.5h0M185.8 398.0h0M181.2 411.8h0M190.7 413.7h0M160.2 408.9h0M158.4 416.1h0M156.4 407.4h0M179.6 404.3h0M160.4 411.5h0M147.6 410.9h0M148.3 409.0h0M160.7 416.9h0M154.5 417.4h0M143.6 426.9h0M185.2 409.7h0M169.4 411.1h0M168.3 422.6h0M147.9 413.8h0M175.7 418.6h0M153.2 423.0h0M170.8 410.6h0M161.9 418.6h0M166.4 413.4h0M150.9 415.0h0M152.0 410.9h0M170.4 417.0h0M169.9 412.5h0M151.4 422.5h0M137.7 426.8h0M166.4 406.2h0M152.5 415.7h0M166.4 408.8h0M167.8 405.8h0M172.4 417.0h0M167.1 427.8h0M158.9 415.1h0M169.7 414.8h0M173.4 404.0h0M149.5 420.6h0M165.2 410.9h0M163.5 409.2h0M144.6 413.6h0M178.1 404.3h0M167.6 414.8h0M167.2 413.9h0M138.8 423.3h0M160.9 418.0h0M148.2 419.0h0M156.2 415.4h0M160.8 413.8h0M175.7 410.8h0M167.3 420.9h0M155.8 411.8h0M156.6 419.6h0M143.8 413.1h0M153.9 414.8h0M177.6 407.9h0M193.5 408.6h0M175.1 407.5h0M152.1 416.4h0M153.4 422.7h0M165.8 418.5h0M185.5 414.0h0M153.7 415.8h0M154.1 416.0h0M152.8 425.3h0M143.1 409.4h0M167.8 412.4h0M154.8 417.0h0M165.7 422.3h0M150.1 422.6h0M179.4 417.3h0M178.2 413.9h0M160.3 414.7h0M180.8 405.1h0M174.9 418.3h0M177.7 400.9h0M160.0 418.0h0M145.9 411.9h0M165.7 413.7h0M143.8 408.6h0M174.0 412.1h0M182.6 415.9h0M174.1 418.1h0M181.6 412.0h0M178.9 413.5h0M167.2 406.5h0M148.6 416.9h0M149.5 412.1h0M152.8 418.9h0M158.6 408.2h0M146.6 418.1h0M156.8 419.1h0M150.2 418.1h0M164.3 423.6h0M164.8 421.2h0M161.7 400.7h0M147.7 418.1h0M157.8 409.5h0M154.7 427.1h0M138.5 418.6h0M165.1 407.4h0M153.8 412.3h0M146.3 410.1h0M160.5 419.1h0M164.0 403.5h0M149.4 424.9h0M147.0 424.9h0M160.7 412.7h0M159.1 414.0h0M178.4 412.8h0M143.6 432.6h0M164.9 418.1h0M157.9 413.0h0M168.1 422.9h0M147.8 417.2h0M159.4 408.1h0M154.3 428.9h0M178.2 421.1h0M147.6 415.3h0M146.3 416.5h0M169.1 415.7h0M193.1 404.5h0M151.2 409.2h0M137.3 423.5h0M165.6 413.0h0M147.8 408.0h0M182.5 415.9h0M166.8 417.4h0M155.3 410.0h0M163.3 415.0h0M162.9 421.6h0M178.9 415.5h0M180.2 413.4h0M155.0 407.0h0M164.2 418.0h0M153.8 412.7h0M188.2 405.1h0M155.9 422.8h0M151.9 417.5h0M165.0 418.0h0M179.7 416.6h0M151.3 413.9h0M168.3 415.6h0M175.2 420.3h0M184.8 396.2h0M189.4 407.9h0M189.6 408.3h0M180.5 411.8h0M164.2 410.9h0M136.5 421.4h0M186.0 407.0h0M174.6 409.8h0M164.2 405.6h0M166.3 425.3h0M148.0 419.4h0M163.5 417.0h0M160.0 404.8h0M177.9 405.4h0M170.1 412.7h0M162.4 412.3h0M164.9 418.4h0M172.6 417.3h0M160.9 417.0h0M145.0 414.6h0M160.5 422.0h0M160.4 423.4h0M181.9 407.1h0M189.8 412.0h0M171.5 418.4h0M149.3 417.9h0M167.3 407.8h0M157.7 408.8h0M175.2 417.1h0M158.9 420.9h0M185.8 412.8h0M174.1 406.4h0M157.9 418.5h0M166.4 418.4h0M143.5 424.5h0M166.3 412.5h0M186.5 420.4h0M168.6 420.2h0M177.9 406.9h0M163.3 405.3h0M156.2 419.1h0M146.5 422.0h0M163.1 410.2h0M179.7 412.4h0M151.1 419.0h0M155.4 418.9h0M155.8 421.3h0M160.7 418.0h0M159.1 423.7h0M163.5 410.8h0M170.7 416.0h0M145.3 426.1h0M144.8 422.2h0M157.1 426.4h0M171.0 422.0h0M151.8 421.2h0M173.2 401.0h0M156.5 417.5h0M155.9 417.1h0M159.1 421.8h0M159.9 419.8h0M166.5 416.8h0M169.6 419.5h0M191.3 406.9h0M136.5 415.9h0M154.8 423.1h0M167.7 416.5h0M171.9 415.7h0M174.2 411.0h0M166.5 412.6h0M156.3 418.0h0M167.9 409.0h0M155.7 402.4h0M185.4 416.4h0M176.8 411.8h0M164.8 418.8h0M184.8 414.6h0M160.3 419.3h0M188.8 401.2h0M142.9 421.5h0M166.6 416.2h0M150.8 427.9h0M162.9 424.6h0M174.5 385.1h0M151.4 399.5h0M165.4 419.5h0M151.0 426.6h0M160.2 406.8h0M176.5 412.3h0M134.1 422.2h0M191.3 402.4h0M156.6 436.6h0M149.3 411.5h0M139.0 406.0h0M146.6 426.9h0M146.3 418.9h0M177.8 414.9h0M122.4 425.5h0M168.3 395.8h0M135.5 405.6h0M171.4 406.2h0M142.6 428.1h0M138.9 410.4h0M162.3 402.4h0M194.1 404.3h0M157.0 395.1h0M131.9 426.6h0M150.5 420.7h0M160.8 422.5h0M181.0 422.2h0M141.7 436.7h0M130.0 416.5h0M170.4 413.2h0M174.7 403.5h0M146.4 418.3h0M165.2 391.8h0M149.1 413.3h0M168.8 399.0h0M166.4 401.2h0M136.7 423.3h0M119.4 426.0h0M204.3 399.1h0M159.7 411.4h0M160.8 427.5h0M144.1 420.3h0M161.3 422.6h0M155.8 422.8h0M131.7 428.8h0M141.9 410.5h0M184.5 401.2h0M153.7 421.6h0M126.7 428.9h0M189.0 394.0h0M162.4 415.9h0M158.0 410.3h0M157.8 410.3h0M142.6 418.5h0M150.9 405.5h0M133.2 408.2h0M156.2 420.3h0M158.3 413.2h0M153.3 411.6h0M146.4 435.3h0M171.7 411.0h0M191.0 401.3h0M118.1 413.1h0M144.2 412.8h0M202.0 391.0h0M136.2 421.7h0M126.0 416.8h0M169.1 422.0h0M166.9 402.5h0M174.0 417.0h0M144.1 430.0h0M132.2 418.6h0M158.7 401.0h0M163.3 416.4h0M129.5 406.8h0M161.2 414.0h0M137.9 431.0h0M170.5 421.1h0M169.5 404.9h0M150.3 433.4h0M166.1 397.9h0M141.5 432.2h0M179.5 407.0h0M145.5 405.5h0M152.4 411.5h0M149.9 424.5h0M162.3 422.2h0M122.7 430.1h0M182.4 396.5h0M201.1 392.3h0M190.0 403.0h0M149.3 412.3h0M139.0 412.4h0M149.0 414.5h0M141.0 420.7h0M177.4 411.3h0M144.5 415.5h0M175.4 411.6h0M134.7 437.1h0M131.3 411.2h0M156.1 410.2h0M179.2 405.7h0M167.5 417.1h0M126.0 417.2h0M156.0 409.3h0M136.8 422.0h0M197.9 411.9h0M159.8 400.7h0M153.3 414.6h0M115.6 418.6h0M149.2 403.9h0M156.1 418.9h0M166.5 414.6h0M147.7 401.7h0M177.4 408.0h0M173.9 401.7h0M169.4 410.9h0M159.3 410.0h0M169.1 407.8h0M147.0 418.4h0M167.0 422.0h0M157.7 406.9h0M161.2 416.5h0M157.5 419.6h0M177.4 412.9h0M124.9 436.1h0M163.8 410.8h0M148.6 430.5h0M154.9 423.9h0M144.9 418.2h0M142.7 415.7h0M143.3 423.4h0M153.4 401.0h0M189.1 396.2h0M143.3 418.6h0M176.0 401.3h0M125.7 424.2h0M143.3 411.1h0M170.5 416.4h0M200.3 405.4h0M206.3 402.6h0M156.2 395.9h0M147.5 422.2h0M187.1 406.7h0M167.4 424.6h0M193.3 394.7h0M165.0 405.4h0M148.0 422.1h0M126.8 419.6h0M182.4 399.0h0M176.1 402.3h0M139.7 432.8h0M170.6 409.3h0M177.4 411.8h0M140.4 415.0h0M146.9 434.1h0M145.9 426.7h0M135.8 426.3h0M176.7 385.6h0M192.1 409.1h0M180.5 408.9h0M165.9 419.1h0M156.4 431.8h0M193.4 412.2h0M169.5 417.2h0M163.3 424.8h0M150.5 407.5h0M169.7 430.7h0M174.8 422.9h0M163.6 407.7h0M145.2 421.3h0M153.0 411.9h0M176.0 395.8h0M164.4 392.7h0M139.2 402.0h0M152.7 408.3h0M155.4 414.4h0M139.7 415.8h0M198.0 401.7h0M157.5 414.6h0M172.0 412.6h0M157.8 412.4h0M183.7 397.7h0M137.1 426.7h0M158.3 405.9h0M177.1 411.2h0M200.0 404.3h0M185.7 392.4h0M189.5 403.6h0M169.3 426.6h0M122.7 430.6h0M172.1 399.9h0M155.9 404.7h0M169.4 396.1h0M126.4 431.7h0M139.0 430.3h0M190.5 414.6h0M141.5 423.1h0M175.4 414.2h0M172.5 404.9h0M145.2 441.7h0M139.7 432.1h0M190.3 412.6h0M136.7 416.7h0M159.0 423.6h0M179.6 399.3h0M163.4 420.6h0M140.6 439.9h0M165.5 408.5h0M139.7 419.4h0M222.9 407.5h0M124.1 418.0h0M149.5 421.9h0M170.2 412.4h0M177.6 403.8h0M180.9 406.9h0M115.1 413.0h0M124.2 413.6h0M162.9 427.0h0M159.2 405.4h0M137.6 419.8h0M143.3 428.7h0M145.7 405.2h0M171.5 411.0h0M156.3 413.7h0M163.6 411.1h0M123.8 415.0h0M140.9 445.4h0M171.9 422.7h0M155.1 416.3h0M146.2 412.5h0M152.5 418.9h0M139.0 422.7h0M137.3 420.0h0M184.2 397.1h0M166.4 425.8h0M178.3 399.5h0M198.8 425.6h0M158.2 417.8h0M179.5 419.4h0M150.3 393.5h0M177.7 429.0h0M158.3 400.8h0M145.6 412.1h0M159.9 428.7h0M145.5 406.7h0M181.5 414.0h0M180.3 415.4h0M162.8 413.4h0M133.1 418.4h0M150.2 444.3h0M141.4 427.7h0M141.3 429.1h0M144.2 443.1h0M175.6 408.9h0M163.0 415.9h0M159.2 416.9h0M136.2 436.0h0M159.4 404.0h0M162.6 397.1h0M130.8 424.9h0M145.6 405.7h0M191.6 410.4h0M172.5 413.0h0M138.0 421.3h0M137.2 404.9h0M169.6 399.4h0M165.0 437.1h0M173.9 409.2h0M110.5 427.0h0M178.0 391.8h0M137.5 412.4h0M164.5 414.5h0M152.3 410.9h0M169.4 404.8h0M149.8 430.2h0M184.1 394.2h0M146.7 418.1h0M174.0 427.8h0M167.8 387.5h0M163.3 420.2h0M198.6 403.1h0M162.1 417.8h0M161.5 431.7h0M132.4 436.7h0M175.8 410.5h0M180.8 428.7h0M146.0 403.3h0M142.1 437.9h0M143.1 422.3h0M157.6 401.6h0M184.3 391.6h0M169.5 416.5h0M148.1 432.4h0M183.2 394.9h0M159.7 423.2h0M171.3 406.0h0M161.0 425.5h0M162.7 419.1h0M172.6 404.5h0M166.7 416.5h0M188.2 398.3h0M183.1 399.1h0M171.1 407.0h0M136.6 439.0h0M139.3 413.7h0M176.0 407.7h0M159.7 395.7h0M150.0 434.9h0M127.2 426.6h0M171.8 403.3h0M153.5 407.7h0M156.9 422.3h0M150.4 409.2h0M176.9 420.7h0M138.3 419.0h0M200.1 414.6h0M133.0 417.5h0M168.0 418.0h0M157.4 409.9h0M123.3 424.7h0M169.8 402.0h0M181.0 408.9h0M129.3 409.2h0M173.2 416.8h0M178.4 398.4h0M155.1 439.3h0M148.6 424.9h0M141.3 420.2h0M136.5 416.8h0M195.4 416.1h0M178.5 414.2h0M168.7 412.9h0M183.3 414.7h0M172.4 418.4h0M162.4 413.6h0M179.5 424.5h0M131.2 408.2h0M165.6 395.4h0M137.5 418.3h0M169.9 393.5h0M156.9 419.5h0M172.1 411.7h0M143.1 411.2h0M120.2 435.6h0M184.9 412.1h0M151.5 412.7h0M180.1 403.1h0M138.8 425.8h0M178.7 410.0h0M145.4 409.4h0M180.5 386.4h0M136.6 427.8h0M144.2 415.0h0M148.5 406.1h0M104.7 420.0h0M145.2 421.0h0M169.1 409.5h0M137.9 405.2h0M169.3 416.4h0M162.0 424.7h0M133.6 424.6h0M165.1 411.6h0M142.6 433.0h0M124.8 407.9h0M165.2 420.7h0M181.3 402.6h0M149.7 423.2h0M180.4 405.1h0M190.2 401.9h0M146.4 424.0h0M144.0 416.0h0M162.9 407.2h0M166.8 422.8h0M153.9 425.3h0M167.4 425.3h0M146.4 426.6h0M145.7 420.7h0M187.7 408.9h0M129.6 425.7h0M172.7 404.9h0M162.6 393.2h0M179.8 407.6h0M181.9 421.5h0M154.6 424.4h0M161.4 397.4h0M148.1 401.4h0M137.8 406.0h0M124.6 432.7h0M177.6 410.1h0M160.8 414.0h0M161.5 415.5h0M138.6 423.1h0M160.1 423.2h0M167.1 394.3h0M125.6 429.3h0M152.4 416.1h0M159.8 421.5h0M157.2 414.8h0M156.2 399.6h0M160.5 428.9h0M127.1 417.4h0M151.2 422.8h0M131.3 425.3h0M156.1 422.1h0M151.0 407.7h0M173.3 404.8h0M154.5 429.4h0M173.2 395.3h0M183.0 395.9h0M163.4 409.4h0M157.6 402.1h0M152.6 394.5h0M173.2 413.6h0M157.9 431.0h0M143.5 421.8h0M206.0 409.4h0M175.9 408.8h0M152.1 410.0h0M118.7 416.2h0M195.9 401.0h0M156.7 413.4h0M170.9 416.0h0M160.3 408.9h0M151.0 412.7h0M164.5 405.6h0M138.5 425.6h0M149.5 405.0h0M162.8 430.0h0M132.8 402.2h0M164.6 425.9h0M140.0 418.3h0M185.9 390.4h0M150.7 419.7h0M195.6 414.0h0M188.6 402.6h0M159.8 401.2h0M167.4 420.5h0M128.0 423.0h0M168.0 398.0h0M106.6 415.6h0M170.1 395.9h0M173.6 408.1h0M166.4 408.3h0M145.6 419.3h0M160.4 418.5h0M129.1 437.4h0M167.8 406.6h0M160.0 425.9h0M174.6 413.9h0M117.1 410.3h0M128.6 400.2h0M168.4 416.2h0M111.7 434.8h0M187.0 392.7h0M163.0 430.6h0M150.4 419.7h0M167.0 413.4h0M164.7 429.3h0M145.3 403.7h0M129.4 413.4h0M203.3 395.3h0M130.6 409.8h0M121.5 421.5h0M149.9 404.4h0M181.1 406.3h0M193.1 394.8h0M148.5 427.3h0M206.3 405.2h0M166.0 413.6h0M148.6 433.6h0M155.1 416.7h0M177.2 414.5h0M127.2 434.2h0M157.1 412.4h0M172.1 414.6h0M168.5 410.3h0M191.1 405.9h0M160.7 408.2h0M181.8 417.3h0M148.6 420.1h0M116.0 413.3h0M179.0 408.5h0M224.0 383.2h0M197.6 387.6h0M175.7 424.0h0M188.0 402.0h0M134.4 420.8h0M172.7 400.5h0M161.3 419.0h0M172.9 418.2h0M156.4 407.4h0M129.6 418.9h0M119.4 434.9h0M133.7 422.4h0M171.9 411.3h0M175.9 408.7h0M153.9 410.8h0M153.2 414.6h0M178.4 414.7h0M180.5 419.6h0M153.6 433.5h0M147.5 401.5h0M164.9 399.8h0M129.0 433.1h0M167.1 403.7h0M174.3 427.1h0M168.0 412.6h0M160.3 409.2h0M152.4 433.4h0M136.9 435.3h0M132.0 423.3h0M183.6 414.7h0M142.9 430.6h0M123.9 423.6h0M148.4 419.8h0M139.0 415.1h0M134.3 415.8h0M144.9 410.4h0M140.4 415.1h0M166.6 413.1h0M190.1 403.9h0M140.4 412.6h0M141.7 424.8h0M158.1 412.8h0M191.5 423.0h0M152.8 404.6h0M154.8 412.3h0M188.0 418.7h0M158.8 406.4h0M146.4 435.8h0M138.2 418.3h0M161.6 394.9h0M184.1 423.1h0M178.3 399.6h0M189.8 407.3h0M146.9 416.3h0M188.4 399.8h0M191.3 397.3h0M146.3 428.3h0M194.4 419.8h0M151.0 419.9h0M139.9 425.6h0M158.0 390.5h0M156.6 420.4h0M160.3 404.4h0M141.8 423.4h0M123.5 417.2h0M171.3 395.6h0M134.3 399.2h0M175.1 412.7h0M150.2 420.0h0M134.0 413.6h0M145.9 425.4h0M168.1 410.7h0M146.4 420.3h0M148.2 403.7h0M177.7 416.5h0M157.1 400.9h0M152.2 398.1h0M166.7 405.4h0M116.9 417.6h0M164.6 406.9h0M167.4 406.6h0M147.9 408.3h0M159.1 425.0h0M137.8 418.7h0M164.5 435.3h0M117.2 415.4h0M157.7 385.7h0M127.7 425.7h0M146.1 412.3h0M185.7 390.4h0M138.0 407.7h0M133.9 418.3h0M161.3 407.4h0M142.1 405.5h0M156.6 415.3h0M152.6 427.1h0M172.1 407.3h0M166.9 393.1h0M140.8 422.4h0M158.1 405.9h0M154.4 406.1h0M166.9 430.1h0M144.4 439.2h0M152.3 420.5h0M169.5 409.7h0M156.6 402.2h0M169.6 424.0h0M144.3 415.2h0M191.5 407.3h0M154.5 412.9h0M173.4 411.3h0M163.7 417.4h0M147.0 425.9h0M170.9 416.7h0M168.8 407.5h0M177.1 436.7h0M138.8 432.5h0M154.7 407.4h0M207.9 384.8h0M184.7 403.2h0M150.3 411.4h0M114.9 417.3h0M158.1 408.3h0M137.6 431.6h0M145.2 418.7h0M164.8 416.4h0M164.8 405.8h0M135.0 422.2h0M127.1 429.0h0M175.8 417.0h0M194.7 399.2h0M175.5 408.7h0M175.0 398.7h0M160.0 419.5h0M147.0 398.0h0M154.3 420.4h0M143.9 435.9h0M148.0 414.2h0M148.3 425.2h0M166.0 407.7h0M149.3 414.0h0M138.7 411.3h0M138.4 423.6h0M160.6 418.2h0M135.3 399.6h0M187.9 424.1h0M160.3 427.0h0M164.1 426.3h0M169.4 406.0h0M191.7 392.8h0M148.8 407.6h0M148.8 418.4h0M148.0 435.5h0M169.8 432.2h0M153.2 410.6h0M160.2 430.2h0M145.1 411.3h0M179.6 392.2h0M122.0 420.1h0M148.4 409.5h0M124.5 425.5h0M171.9 417.4h0M150.7 426.8h0M179.9 422.1h0M139.8 423.2h0M163.4 358.2h0M164.1 363.2h0M162.2 370.7h0M143.4 378.9h0M171.7 377.0h0M209.3 382.7h0M77.7 409.0h0M93.4 412.0h0M122.7 471.2h0M237.4 407.2h0M224.3 416.6h0M103.9 458.0h0M137.9 454.1h0M205.5 405.1h0M212.6 404.2h0M203.1 410.9h0" stroke="#bdbdbd" stroke-width="1.85" stroke-linecap="round" fill="none"/>
<line x1="55.5" y1="452.8" x2="261.0" y2="376.2" stroke="#7a7a7a" stroke-width="0.9" stroke-dasharray="2.6,3.6"/>
<rect x="325.3" y="331.7" width="197.99999999999994" height="166.3" fill="none" stroke="#b0b0b0" stroke-width="1.1"/>
<line x1="342.80" y1="498.0" x2="342.80" y2="503.5" stroke="#909090" stroke-width="1"/>
<text x="342.80" y="513.0" font-size="10.2" text-anchor="middle" fill="#111" >−4</text>
<line x1="383.50" y1="498.0" x2="383.50" y2="503.5" stroke="#909090" stroke-width="1"/>
<text x="383.50" y="513.0" font-size="10.2" text-anchor="middle" fill="#111" >−2</text>
<line x1="424.20" y1="498.0" x2="424.20" y2="503.5" stroke="#909090" stroke-width="1"/>
<text x="424.20" y="513.0" font-size="10.2" text-anchor="middle" fill="#111" >0</text>
<line x1="464.90" y1="498.0" x2="464.90" y2="503.5" stroke="#909090" stroke-width="1"/>
<text x="464.90" y="513.0" font-size="10.2" text-anchor="middle" fill="#111" >2</text>
<line x1="505.60" y1="498.0" x2="505.60" y2="503.5" stroke="#909090" stroke-width="1"/>
<text x="505.60" y="513.0" font-size="10.2" text-anchor="middle" fill="#111" >4</text>
<line x1="320.3" y1="483.20" x2="325.3" y2="483.20" stroke="#909090" stroke-width="1"/>
<text transform="translate(317.7,483.20) rotate(-90)" font-size="10.2" text-anchor="middle" fill="#111">−4</text>
<line x1="320.3" y1="448.90" x2="325.3" y2="448.90" stroke="#909090" stroke-width="1"/>
<text transform="translate(317.7,448.90) rotate(-90)" font-size="10.2" text-anchor="middle" fill="#111">−2</text>
<line x1="320.3" y1="414.60" x2="325.3" y2="414.60" stroke="#909090" stroke-width="1"/>
<text transform="translate(317.7,414.60) rotate(-90)" font-size="10.2" text-anchor="middle" fill="#111">0</text>
<line x1="320.3" y1="380.30" x2="325.3" y2="380.30" stroke="#909090" stroke-width="1"/>
<text transform="translate(317.7,380.30) rotate(-90)" font-size="10.2" text-anchor="middle" fill="#111">2</text>
<line x1="320.3" y1="346.00" x2="325.3" y2="346.00" stroke="#909090" stroke-width="1"/>
<text transform="translate(317.7,346.00) rotate(-90)" font-size="10.2" text-anchor="middle" fill="#111">4</text>
<text x="339.8" y="344.8" font-size="10.6" fill="#111" textLength="35.6" lengthAdjust="spacingAndGlyphs">R = 0.64</text>
<text x="424.29999999999995" y="534.4" font-size="10.25" text-anchor="middle" fill="#111" >Genes Log2FC Darolutamide vs. R1881, 22h</text>
<text transform="translate(298.7,415.65) rotate(-90)" font-size="10.25" text-anchor="middle" fill="#111">Proteins Log2FC Darolutamide vs. R1881, 28h</text>
<path d="M423.2 403.1h0M431.9 416.9h0M436.4 408.7h0M432.0 412.5h0M434.7 417.9h0M410.2 421.9h0M411.6 415.1h0M456.4 396.9h0M434.4 409.4h0M417.8 424.3h0M435.9 419.2h0M432.3 412.9h0M438.9 409.6h0M429.4 416.3h0M402.5 424.1h0M438.1 404.2h0M448.1 412.4h0M414.1 414.2h0M421.2 414.0h0M405.6 424.2h0M450.9 416.2h0M430.1 420.7h0M451.3 408.2h0M412.8 428.4h0M417.4 431.7h0M420.9 403.5h0M429.3 414.6h0M410.8 417.4h0M420.9 420.7h0M448.2 404.2h0M414.8 409.5h0M427.1 411.0h0M430.0 406.1h0M436.9 412.5h0M438.4 412.2h0M429.8 403.6h0M412.3 424.7h0M422.0 418.4h0M447.0 416.2h0M461.5 393.2h0M421.3 414.7h0M422.6 411.5h0M437.6 406.0h0M439.1 398.8h0M425.4 410.4h0M425.1 414.3h0M431.1 412.8h0M432.9 416.7h0M425.6 417.8h0M410.7 423.4h0M420.6 416.9h0M404.9 422.8h0M411.3 423.8h0M430.6 406.3h0M432.1 414.9h0M421.4 408.1h0M404.0 415.1h0M405.8 424.6h0M428.5 414.6h0M452.3 402.5h0M427.2 408.4h0M428.4 418.0h0M444.4 399.5h0M446.7 413.9h0M455.9 406.5h0M439.2 403.0h0M462.8 411.0h0M412.9 411.9h0M435.1 412.9h0M434.4 412.4h0M419.7 416.4h0M431.3 408.1h0M424.0 420.0h0M422.6 427.4h0M411.4 407.8h0M417.8 417.4h0M455.8 398.2h0M429.7 408.8h0M423.9 420.1h0M442.6 407.8h0M451.4 407.1h0M422.4 413.5h0M425.1 416.3h0M414.7 416.5h0M432.6 401.5h0M427.5 423.7h0M434.7 398.2h0M421.4 420.3h0M425.4 416.3h0M425.1 423.1h0M436.4 415.7h0M400.6 426.9h0M437.2 399.5h0M446.3 406.2h0M420.3 417.6h0M442.2 411.7h0M434.0 406.0h0M414.5 421.4h0M434.5 411.3h0M426.0 417.2h0M426.9 403.3h0M447.9 416.0h0M428.6 412.8h0M428.4 421.3h0M425.9 413.4h0M417.8 415.2h0M405.7 420.5h0M433.6 412.6h0M421.1 414.8h0M443.8 403.0h0M426.7 416.6h0M443.5 405.2h0M440.9 410.8h0M415.2 416.8h0M418.7 410.1h0M440.5 421.8h0M437.7 402.6h0M443.2 411.1h0M415.2 412.3h0M442.8 408.2h0M410.9 428.0h0M431.8 417.0h0M417.8 414.4h0M443.3 420.2h0M418.0 409.5h0M427.2 415.7h0M437.3 416.9h0M409.8 419.5h0M450.9 400.0h0M427.8 407.8h0M421.8 422.4h0M403.2 420.3h0M441.1 407.0h0M427.3 416.1h0M443.9 408.4h0M406.6 412.9h0M418.3 414.6h0M427.9 407.5h0M431.5 405.3h0M431.0 415.2h0M420.4 412.4h0M415.6 412.4h0M424.3 420.1h0M415.0 418.7h0M454.0 400.4h0M428.2 418.7h0M456.0 405.7h0M427.8 416.0h0M447.5 405.9h0M421.1 414.8h0M413.1 424.6h0M425.5 407.7h0M457.3 410.0h0M425.8 423.3h0M430.4 411.5h0M438.8 417.5h0M419.0 420.3h0M424.2 401.7h0M424.9 414.8h0M420.4 411.6h0M445.0 399.0h0M412.0 412.9h0M428.3 406.3h0M443.5 404.5h0M403.1 421.1h0M420.5 413.5h0M428.4 407.4h0M404.2 425.8h0M426.7 412.1h0M421.9 415.7h0M428.7 407.3h0M426.2 412.7h0M401.0 431.0h0M433.1 425.0h0M433.9 412.1h0M427.9 417.7h0M421.6 410.9h0M433.2 411.9h0M420.6 414.8h0M445.5 407.7h0M422.4 422.1h0M429.3 418.3h0M406.6 415.8h0M418.6 428.3h0M417.2 406.6h0M426.3 421.7h0M411.5 415.0h0M433.9 410.3h0M425.0 411.8h0M450.7 403.1h0M425.4 422.4h0M434.5 402.4h0M437.5 417.5h0M430.6 405.2h0M418.5 413.9h0M445.8 398.2h0M404.3 431.5h0M433.4 407.7h0M422.6 415.5h0M421.8 408.7h0M395.1 423.2h0M408.9 423.8h0M405.1 426.4h0M427.5 413.5h0M454.4 405.9h0M433.0 409.8h0M431.7 403.9h0M429.9 412.0h0M426.2 414.1h0M427.0 408.1h0M428.2 413.1h0M427.2 409.5h0M420.9 410.5h0M419.4 412.5h0M456.4 402.6h0M426.6 420.8h0M438.8 409.8h0M441.4 412.8h0M435.6 400.6h0M433.8 413.4h0M408.5 420.1h0M437.6 406.8h0M411.3 425.1h0M413.4 424.3h0M423.8 413.4h0M456.4 402.8h0M449.4 415.8h0M450.8 401.3h0M434.4 406.6h0M437.0 399.5h0M439.8 419.5h0M401.9 413.1h0M426.6 406.4h0M422.8 419.1h0M422.8 413.5h0M430.6 416.2h0M435.8 407.3h0M414.2 424.6h0M398.7 425.2h0M428.0 417.5h0M418.9 417.4h0M428.3 410.1h0M440.2 406.9h0M444.5 413.5h0M436.9 408.4h0M412.3 422.7h0M434.5 410.9h0M409.2 423.1h0M450.6 401.1h0M429.1 405.4h0M414.4 419.1h0M442.1 410.7h0M411.2 415.8h0M451.7 404.6h0M409.3 421.6h0M406.9 424.6h0M428.5 417.4h0M413.1 421.2h0M431.0 402.4h0M432.1 403.1h0M412.0 418.5h0M421.4 424.8h0M424.3 413.4h0M416.7 420.7h0M412.5 412.9h0M421.9 416.4h0M430.6 419.7h0M431.3 413.4h0M434.5 413.6h0M428.4 410.4h0M442.2 412.7h0M442.3 414.4h0M425.1 413.8h0M430.0 427.2h0M413.3 419.5h0M441.6 413.0h0M450.3 416.4h0M429.0 410.1h0M428.1 412.0h0M441.8 413.5h0M436.6 404.5h0M424.4 428.1h0M410.1 424.5h0M412.1 416.4h0M415.9 403.3h0M436.3 418.2h0M423.6 406.2h0M438.0 416.0h0M443.3 411.1h0M460.8 405.6h0M436.7 407.3h0M421.3 416.7h0M445.1 404.9h0M427.0 411.3h0M453.9 399.4h0M434.9 409.3h0M404.6 420.6h0M420.6 411.8h0M418.8 414.0h0M412.2 413.7h0M417.0 417.4h0M436.5 412.5h0M428.0 407.4h0M454.2 415.1h0M414.4 414.2h0M441.9 411.6h0M429.3 414.2h0M461.7 403.3h0M410.1 428.5h0M408.9 412.5h0M422.1 404.3h0M437.4 408.2h0M437.5 405.8h0M441.5 414.6h0M419.6 419.5h0M429.4 414.5h0M409.5 423.7h0M454.4 392.4h0M415.1 415.7h0M427.3 418.6h0M438.5 410.4h0M452.7 402.6h0M423.2 415.7h0M440.5 413.4h0M441.0 405.2h0M401.6 423.6h0M432.6 407.6h0M430.2 412.9h0M422.7 417.0h0M427.9 419.7h0M437.4 412.2h0M435.6 413.9h0M434.0 410.8h0M441.1 406.4h0M441.7 409.8h0M427.0 415.4h0M409.2 420.6h0M444.1 403.7h0M415.2 416.1h0M439.0 417.6h0M433.1 409.9h0M439.0 408.3h0M402.0 433.9h0M457.4 405.9h0M446.8 399.9h0M429.2 419.7h0M448.2 406.9h0M435.6 408.2h0M442.0 403.0h0M406.7 428.8h0M430.0 412.8h0M439.4 410.4h0M425.2 402.8h0M448.3 400.0h0M443.3 412.9h0M426.6 414.4h0M411.6 424.1h0M430.3 419.7h0M435.9 408.1h0M424.4 416.7h0M436.8 407.8h0M433.3 418.8h0M403.7 409.9h0M418.2 418.9h0M400.7 427.3h0M417.0 412.7h0M407.1 423.0h0M420.6 420.5h0M421.3 424.9h0M431.8 405.3h0M430.1 415.9h0M446.6 404.4h0M412.6 422.0h0M418.8 416.9h0M445.8 411.6h0M425.7 413.7h0M410.2 422.3h0M436.9 404.0h0M400.1 418.9h0M423.6 407.6h0M437.1 399.1h0M432.5 414.3h0M415.5 426.0h0M436.1 407.8h0M440.0 407.5h0M405.7 423.4h0M424.3 413.9h0M439.2 401.6h0M432.1 424.0h0M412.8 431.0h0M416.6 424.3h0M431.4 413.7h0M444.4 401.8h0M421.1 410.4h0M428.1 410.9h0M447.8 413.5h0M426.9 405.0h0M416.6 416.1h0M429.8 415.3h0M408.5 424.0h0M413.4 412.2h0M431.5 408.3h0M410.3 416.6h0M430.0 406.8h0M417.2 412.5h0M448.1 396.3h0M414.1 424.7h0M406.2 415.3h0M436.7 408.6h0M415.1 410.7h0M451.6 405.8h0M426.1 407.3h0M435.3 403.3h0M421.9 413.6h0M422.9 418.5h0M423.5 416.7h0M435.3 412.8h0M428.9 417.9h0M409.8 411.4h0M413.4 408.0h0M441.7 422.1h0M418.4 419.1h0M428.2 414.5h0M419.0 409.4h0M426.0 408.7h0M417.8 420.9h0M447.5 408.6h0M411.7 420.0h0M443.4 409.3h0M417.3 413.5h0M442.4 409.9h0M423.2 417.2h0M425.1 404.5h0M425.7 412.0h0M397.6 422.8h0M428.7 415.1h0M421.8 423.4h0M405.7 420.1h0M418.4 417.3h0M425.2 417.4h0M417.1 406.6h0M411.5 422.0h0M423.5 421.6h0M413.6 413.4h0M441.7 408.1h0M440.1 402.3h0M415.9 411.4h0M452.7 407.4h0M454.5 409.2h0M411.2 419.4h0M416.0 413.9h0M411.6 418.6h0M399.1 423.4h0M443.3 409.9h0M432.5 405.7h0M411.7 426.3h0M429.1 411.5h0M423.9 420.5h0M445.7 414.2h0M424.0 415.1h0M438.5 412.5h0M415.8 406.0h0M415.4 413.1h0M425.6 417.1h0M427.2 415.2h0M432.4 412.2h0M429.0 418.7h0M422.1 402.2h0M455.4 400.6h0M431.4 414.1h0M448.6 409.1h0M415.7 413.7h0M413.6 422.9h0M449.4 415.4h0M426.9 413.2h0M431.8 420.5h0M424.5 416.6h0M456.5 398.2h0M416.7 412.4h0M437.6 410.9h0M424.3 416.3h0M405.0 424.9h0M441.8 400.6h0M455.5 406.4h0M437.1 424.2h0M423.9 422.1h0M440.2 418.9h0M412.4 425.1h0M433.8 406.8h0M414.3 407.9h0M430.3 417.5h0M433.1 411.9h0M440.3 407.4h0M460.5 395.9h0M418.4 412.3h0M439.2 415.4h0M416.8 421.9h0M437.2 411.6h0M446.0 410.7h0M429.0 409.0h0M442.1 406.9h0M412.6 406.0h0M440.6 401.4h0M451.6 397.4h0M434.0 408.8h0M437.2 419.1h0M439.8 415.1h0M434.1 417.3h0M438.4 412.8h0M430.8 409.7h0M414.5 419.7h0M427.1 415.5h0M421.5 420.7h0M439.3 411.9h0M415.9 415.5h0M415.9 418.6h0M420.4 421.4h0M424.6 419.3h0M409.4 417.8h0M423.6 423.3h0M422.1 414.4h0M434.3 409.3h0M431.7 408.9h0M420.6 420.5h0M437.1 412.8h0M428.1 409.8h0M441.9 401.9h0M417.8 419.1h0M436.2 418.9h0M409.3 416.4h0M418.9 421.8h0M439.9 406.5h0M441.6 410.8h0M423.7 416.9h0M432.4 423.6h0M417.7 413.0h0M416.4 417.8h0M429.8 409.9h0M420.9 422.3h0M417.4 407.2h0M402.1 421.6h0M425.0 403.6h0M457.8 397.8h0M413.0 423.1h0M416.9 420.2h0M431.7 416.7h0M424.3 406.3h0M449.0 417.1h0M413.9 420.3h0M446.9 409.0h0M455.8 402.0h0M448.9 411.4h0M423.3 409.2h0M436.2 421.4h0M423.9 413.8h0M437.1 414.0h0M453.4 404.1h0M449.1 404.1h0M429.1 414.9h0M410.8 414.3h0M438.9 404.4h0M422.4 421.1h0M422.3 417.2h0M427.7 407.9h0M414.6 420.8h0M438.0 404.9h0M460.2 399.6h0M415.5 423.6h0M416.3 417.0h0M431.6 412.6h0M418.9 417.6h0M426.8 410.5h0M429.1 417.7h0M410.8 410.8h0M426.6 414.9h0M427.5 407.2h0M423.3 414.0h0M424.4 411.4h0M413.1 417.3h0M442.9 401.7h0M436.9 408.8h0M450.8 401.7h0M448.3 413.5h0M411.9 414.3h0M424.0 417.3h0M414.0 409.7h0M410.5 418.8h0M407.6 421.3h0M460.7 388.5h0M420.7 421.7h0M451.7 410.4h0M401.9 420.3h0M412.2 427.1h0M444.3 412.1h0M412.4 417.8h0M425.1 408.0h0M429.3 403.9h0M444.5 397.7h0M444.2 407.6h0M435.8 410.7h0M405.2 427.8h0M438.7 423.3h0M415.9 424.9h0M427.0 419.7h0M431.5 413.4h0M421.1 420.6h0M395.5 424.0h0M409.1 421.5h0M433.3 405.7h0M438.1 401.6h0M407.2 416.6h0M450.7 403.5h0M411.7 416.6h0M420.3 419.7h0M443.4 409.3h0M411.6 422.8h0M456.5 408.7h0M437.7 409.1h0M444.9 409.3h0M414.1 421.8h0M412.9 417.5h0M423.4 408.0h0M437.8 411.2h0M437.3 408.9h0M444.7 398.6h0M423.5 415.2h0M425.4 407.5h0M433.8 407.1h0M441.3 412.6h0M430.0 405.0h0M441.7 404.3h0M424.0 416.9h0M415.5 419.2h0M427.2 421.9h0M445.2 412.0h0M431.8 408.8h0M420.0 426.4h0M442.3 406.4h0M424.4 408.3h0M441.3 414.4h0M426.9 423.8h0M424.2 406.8h0M415.8 413.0h0M405.9 422.6h0M442.0 399.1h0M434.8 407.0h0M453.4 418.7h0M403.0 411.3h0M436.6 410.2h0M431.7 412.0h0M419.0 416.6h0M426.1 410.3h0M437.8 404.5h0M436.5 416.1h0M448.2 406.1h0M433.0 414.8h0M455.6 410.4h0M411.0 422.1h0M434.3 406.9h0M429.7 409.2h0M417.8 420.4h0M430.0 420.4h0M430.9 414.8h0M438.1 415.8h0M420.4 419.3h0M422.8 420.9h0M424.3 422.4h0M436.0 407.0h0M427.9 414.6h0M415.1 423.3h0M424.9 419.6h0M410.9 418.3h0M427.8 415.9h0M416.2 417.8h0M418.0 419.3h0M430.8 408.5h0M439.2 413.2h0M445.8 414.0h0M425.6 407.0h0M462.8 401.0h0M422.9 417.3h0M410.4 420.3h0M421.9 419.8h0M445.6 412.0h0M452.8 400.4h0M437.5 413.6h0M420.7 427.2h0M432.1 413.6h0M433.8 415.3h0M435.2 419.5h0M396.2 421.6h0M443.8 400.8h0M422.8 416.1h0M405.5 426.7h0M438.2 414.1h0M427.3 414.5h0M456.9 398.7h0M408.7 422.7h0M411.2 426.9h0M418.0 410.6h0M428.6 409.4h0M425.9 416.5h0M429.1 413.5h0M455.9 393.9h0M433.4 408.2h0M398.9 423.9h0M462.7 406.2h0M439.7 402.6h0M422.1 416.7h0M421.3 411.2h0M428.2 404.9h0M445.2 407.7h0M423.6 418.4h0M424.6 419.6h0M422.0 416.0h0M441.0 418.0h0M407.7 424.7h0M423.6 412.4h0M416.6 408.8h0M420.4 417.3h0M428.9 406.6h0M432.4 411.9h0M420.2 415.2h0M433.9 413.5h0M427.7 424.0h0M420.3 409.4h0M448.7 406.9h0M396.7 413.7h0M425.6 399.8h0M422.1 409.9h0M419.1 408.8h0M444.9 413.8h0M446.9 408.3h0M410.2 417.9h0M422.0 423.9h0M412.6 417.3h0M405.7 414.9h0M434.4 412.3h0M448.3 411.8h0M437.9 417.7h0M423.1 411.5h0M420.1 416.8h0M437.4 401.7h0M446.9 404.5h0M424.1 422.9h0M453.0 394.5h0M396.4 419.2h0M427.3 409.7h0M432.5 413.0h0M427.8 413.7h0M444.9 409.2h0M419.9 412.5h0M437.3 407.9h0M432.0 403.8h0M444.2 406.8h0M424.8 410.8h0M400.5 425.7h0M417.5 416.0h0M422.2 401.6h0M438.7 407.6h0M460.8 402.4h0M423.2 408.2h0M440.0 404.2h0M445.6 409.6h0M418.2 420.8h0M429.4 407.4h0M412.5 421.7h0M408.3 408.9h0M439.6 408.3h0M410.1 425.3h0M418.4 416.5h0M409.3 421.1h0M445.7 407.4h0M429.3 424.8h0M423.9 415.7h0M417.7 424.7h0M426.8 419.6h0M419.9 425.2h0M426.5 408.9h0M415.5 415.9h0M405.6 417.8h0M435.8 413.0h0M440.8 414.1h0M428.6 403.8h0M427.5 419.9h0M444.8 404.8h0M423.8 425.1h0M400.3 431.3h0M449.6 404.5h0M415.4 411.3h0M449.4 411.0h0M434.9 420.4h0M433.3 401.5h0M407.2 420.2h0M418.5 417.2h0M429.2 411.5h0M440.9 406.2h0M443.2 402.7h0M444.0 411.9h0M433.9 413.6h0M415.5 406.7h0M432.2 411.8h0M397.0 425.2h0M439.2 410.8h0M419.9 408.0h0M423.3 416.9h0M426.4 415.3h0M443.3 405.1h0M426.8 415.9h0M424.6 405.2h0M423.4 411.4h0M404.7 419.5h0M438.0 403.0h0M432.5 408.7h0M432.6 406.0h0M457.9 402.3h0M415.9 414.2h0M426.2 410.5h0M439.3 408.8h0M421.4 414.0h0M409.5 418.2h0M414.8 415.4h0M429.7 414.1h0M410.2 419.2h0M417.9 417.7h0M438.1 404.8h0M408.9 414.7h0M447.9 400.5h0M431.9 412.6h0M453.5 406.7h0M405.5 420.6h0M432.1 417.9h0M410.0 408.5h0M429.5 408.6h0M419.3 424.9h0M425.3 406.9h0M418.1 426.8h0M425.3 415.9h0M428.1 419.3h0M423.3 418.1h0M440.8 408.3h0M440.7 409.5h0M396.5 435.0h0M435.7 406.0h0M440.7 409.6h0M401.6 425.1h0M433.8 403.8h0M422.8 418.3h0M416.5 411.7h0M440.6 419.4h0M445.7 412.6h0M406.2 429.7h0M417.2 404.2h0M410.1 423.4h0M430.3 410.4h0M421.1 424.9h0M422.1 419.4h0M402.2 421.4h0M406.9 430.5h0M449.9 400.8h0M448.9 405.8h0M422.1 416.0h0M408.3 415.9h0M431.9 413.9h0M401.1 423.2h0M451.5 397.4h0M440.6 411.3h0M430.0 409.7h0M430.8 406.6h0M418.4 430.0h0M393.1 430.5h0M408.1 416.4h0M443.5 408.3h0M435.8 410.5h0M430.5 415.3h0M422.2 408.7h0M424.2 415.0h0M445.3 402.1h0M422.4 414.0h0M413.5 417.7h0M432.6 412.0h0M430.4 410.6h0M415.7 417.2h0M420.6 421.3h0M424.4 405.7h0M424.5 418.3h0M420.8 422.5h0M435.0 416.6h0M441.3 403.9h0M436.3 404.9h0M426.6 423.7h0M426.9 410.3h0M405.1 428.0h0M444.0 405.6h0M447.7 403.1h0M428.8 410.8h0M440.4 409.4h0M424.8 412.8h0M423.2 401.6h0M416.6 425.8h0M408.8 414.1h0M421.9 414.6h0M424.7 413.0h0M406.5 420.2h0M419.4 410.3h0M437.0 417.5h0M413.6 415.1h0M445.5 403.3h0M425.6 408.0h0M393.2 428.2h0M413.5 424.1h0M436.2 409.1h0M432.0 412.8h0M437.0 406.0h0M419.4 411.1h0M414.2 408.2h0M408.7 421.6h0M411.9 418.6h0M447.3 411.2h0M454.0 396.7h0M433.5 414.9h0M441.2 413.4h0M442.0 409.0h0M417.9 424.3h0M424.7 411.3h0M453.0 414.9h0M430.2 405.6h0M417.9 419.4h0M410.0 415.2h0M440.1 406.0h0M431.5 406.7h0M426.1 410.1h0M439.9 402.1h0M435.4 410.5h0M438.3 418.7h0M401.9 413.1h0M429.9 418.7h0M419.3 417.2h0M428.9 417.4h0M442.6 418.2h0M412.2 409.3h0M437.8 419.8h0M410.2 419.2h0M432.0 414.6h0M428.2 412.5h0M411.3 418.8h0M461.3 406.0h0M413.2 414.7h0M447.8 400.9h0M418.8 417.0h0M431.0 413.7h0M433.9 405.3h0M436.1 410.9h0M425.1 404.2h0M410.0 408.1h0M438.9 409.3h0M417.1 406.7h0M445.9 402.3h0M458.7 413.5h0M429.5 414.8h0M417.4 416.7h0M436.0 407.8h0M426.0 421.8h0M436.3 407.2h0M459.3 397.6h0M428.3 420.0h0M417.8 415.7h0M439.0 406.9h0M447.6 412.7h0M417.6 415.9h0M409.6 423.2h0M448.4 404.9h0M426.4 417.3h0M428.6 413.4h0M411.9 414.4h0M408.9 412.6h0M422.8 428.3h0M404.8 419.6h0M414.9 407.5h0M448.4 394.5h0M441.2 401.2h0M418.9 409.0h0M421.4 416.0h0M407.6 420.0h0M433.9 411.8h0M411.4 413.8h0M441.5 409.4h0M439.6 403.9h0M413.2 418.6h0M400.1 428.8h0M434.3 416.4h0M433.7 409.4h0M397.1 426.7h0M450.5 405.8h0M429.7 416.9h0M403.9 430.8h0M425.3 419.5h0M429.7 424.2h0M449.0 396.5h0M416.8 415.4h0M414.6 413.1h0M415.5 418.6h0M447.6 403.9h0M423.2 424.0h0M404.2 414.6h0M435.7 410.6h0M446.9 406.3h0M417.2 417.8h0M426.6 414.1h0M436.6 409.0h0M424.1 418.7h0M413.0 429.4h0M421.0 424.7h0M400.1 428.3h0M397.4 415.8h0M446.6 412.8h0M458.6 399.3h0M428.4 419.2h0M401.8 423.9h0M445.4 405.1h0M406.1 424.8h0M416.6 410.7h0M426.6 419.7h0M414.3 429.6h0M415.3 412.6h0M399.2 422.1h0M426.3 409.3h0M410.8 414.0h0M451.4 392.3h0M403.5 422.0h0M424.8 413.9h0M413.1 413.5h0M450.5 411.5h0M419.2 412.2h0M429.9 417.3h0M446.5 404.2h0M443.3 409.4h0M447.1 409.7h0M411.0 419.2h0M406.8 413.3h0M438.9 419.6h0M430.4 407.7h0M422.5 412.9h0M419.1 416.9h0M426.6 411.1h0M413.3 425.1h0M432.8 414.8h0M435.7 413.8h0M408.1 415.9h0M431.9 407.9h0M422.7 417.4h0M446.9 417.0h0M454.1 401.7h0M427.0 413.3h0M437.0 415.0h0M432.1 417.7h0M400.0 421.8h0M429.4 409.2h0M436.3 406.6h0M439.8 415.7h0M446.2 410.7h0M408.9 416.0h0M441.8 403.0h0M451.2 413.8h0M433.6 408.9h0M446.9 412.4h0M428.3 415.6h0M425.5 415.2h0M425.6 424.7h0M427.4 413.3h0M422.1 419.6h0M418.0 422.0h0M452.1 400.0h0M425.1 411.0h0M413.2 415.7h0M418.8 407.9h0M444.7 408.6h0M437.2 415.1h0M403.9 416.7h0M452.7 407.0h0M419.9 426.7h0M460.4 409.6h0M413.2 419.6h0M446.3 407.1h0M427.6 413.5h0M440.8 409.4h0M430.3 413.2h0M411.1 411.4h0M417.4 424.8h0M421.3 415.6h0M440.3 418.0h0M408.7 419.0h0M433.7 418.0h0M410.7 418.3h0M425.7 423.8h0M414.6 409.3h0M411.9 412.8h0M404.7 412.7h0M452.2 409.1h0M417.6 413.4h0M409.1 416.7h0M446.3 405.8h0M432.8 412.8h0M443.1 413.2h0M452.0 405.6h0M423.0 424.8h0M421.2 414.4h0M446.7 416.7h0M426.0 418.2h0M409.8 419.6h0M416.4 412.3h0M439.0 421.0h0M398.4 420.5h0M422.7 414.5h0M413.2 424.6h0M416.7 417.6h0M415.2 420.3h0M414.9 416.6h0M410.7 431.6h0M427.6 413.1h0M442.4 413.0h0M410.6 428.1h0M439.3 413.4h0M442.8 409.0h0M423.7 425.9h0M417.6 412.4h0M418.7 412.7h0M403.0 416.0h0M444.7 406.0h0M409.2 422.9h0M418.0 415.8h0M397.3 428.9h0M439.8 408.7h0M439.1 404.8h0M410.6 427.3h0M434.9 411.0h0M429.1 417.9h0M443.3 405.5h0M445.1 409.8h0M438.3 410.4h0M413.6 418.8h0M402.8 423.1h0M430.6 408.6h0M411.9 426.7h0M416.8 429.4h0M418.0 416.1h0M416.4 421.4h0M454.6 411.4h0M426.1 414.6h0M416.8 421.5h0M402.5 427.0h0M447.5 398.7h0M423.6 410.9h0M434.8 410.6h0M425.8 407.2h0M436.5 412.0h0M424.3 409.3h0M418.9 420.8h0M423.7 417.9h0M446.9 405.1h0M426.5 417.1h0M449.2 403.8h0M459.3 397.6h0M424.6 417.9h0M423.6 414.0h0M439.8 406.7h0M451.6 414.5h0M428.3 421.7h0M412.3 422.3h0M418.0 422.6h0M404.9 414.7h0M423.0 409.6h0M411.2 432.8h0M418.9 411.5h0M419.4 414.1h0M411.6 410.9h0M434.4 405.2h0M423.7 407.5h0M429.0 416.1h0M418.2 416.5h0M414.1 425.2h0M429.8 408.8h0M423.5 410.1h0M451.8 412.9h0M431.7 417.9h0M418.1 415.8h0M437.0 405.6h0M436.0 407.0h0M455.2 406.5h0M444.4 399.5h0M435.3 421.5h0M425.5 416.1h0M403.4 422.2h0M439.3 411.2h0M425.1 405.9h0M418.6 422.2h0M428.4 406.8h0M436.8 410.1h0M420.4 408.9h0M441.2 419.2h0M432.9 425.9h0M450.4 402.4h0M418.3 424.3h0M423.3 425.4h0M436.4 413.7h0M401.1 422.7h0M445.7 415.0h0M422.5 404.8h0M430.6 415.9h0M430.7 408.1h0M412.7 419.3h0M403.2 431.2h0M404.6 416.5h0M432.5 407.7h0M446.2 407.1h0M431.4 410.0h0M434.9 417.4h0M423.7 415.9h0M428.4 417.8h0M425.8 412.6h0M430.7 409.2h0M440.2 406.1h0M442.4 403.8h0M448.9 402.8h0M418.5 403.1h0M444.9 400.5h0M438.9 409.6h0M410.6 416.8h0M422.5 417.7h0M395.6 415.4h0M410.2 426.0h0M434.9 407.9h0M415.9 417.7h0M431.7 411.4h0M435.8 406.4h0M422.3 424.9h0M460.5 404.8h0M412.9 414.2h0M436.7 414.2h0M447.2 407.3h0M432.5 410.1h0M424.3 412.9h0M408.2 422.5h0M455.8 397.0h0M394.1 429.9h0M441.1 411.5h0M419.1 425.3h0M426.0 415.2h0M418.2 426.0h0M430.2 410.3h0M445.1 404.8h0M450.8 398.8h0M453.0 405.7h0M412.0 416.4h0M442.3 417.8h0M409.2 415.8h0M419.5 407.9h0M431.1 415.7h0M407.8 416.8h0M401.8 430.0h0M408.0 410.3h0M453.6 406.2h0M422.1 411.4h0M446.7 412.0h0M461.1 403.6h0M444.9 421.6h0M427.1 417.9h0M457.8 404.7h0M408.6 408.7h0M417.5 417.1h0M408.9 416.0h0M430.8 414.3h0M421.8 419.0h0M417.0 425.5h0M446.1 402.2h0M406.8 427.5h0M434.0 398.3h0M424.8 416.5h0M424.0 413.4h0M425.2 408.1h0M442.7 405.3h0M451.6 406.9h0M419.5 427.7h0M404.3 435.3h0M433.3 418.0h0M443.9 420.5h0M425.8 416.6h0M411.5 412.5h0M421.8 413.0h0M419.9 415.4h0M421.1 415.4h0M426.3 418.1h0M434.5 412.4h0M413.2 424.7h0M434.5 403.5h0M408.0 422.7h0M434.7 405.2h0M438.6 416.9h0M428.4 408.1h0M431.5 413.7h0M410.0 418.6h0M426.9 413.7h0M450.6 399.0h0M415.9 416.3h0M423.2 414.6h0M452.5 399.9h0M428.5 417.2h0M425.4 412.3h0M420.3 409.7h0M428.2 420.4h0M458.8 404.7h0M426.0 408.4h0M444.7 399.4h0M451.4 403.8h0M429.6 407.0h0M427.5 421.1h0M421.0 412.0h0M437.1 416.9h0M445.9 405.7h0M405.1 418.5h0M443.1 405.3h0M423.2 419.9h0M444.8 406.5h0M427.8 415.9h0M412.2 429.8h0M422.6 408.8h0M439.4 413.7h0M450.9 407.1h0M412.6 413.0h0M448.8 408.8h0M409.4 420.2h0M428.7 404.4h0M432.0 416.5h0M438.6 412.9h0M447.0 409.2h0M458.7 405.2h0M430.8 418.1h0M408.5 418.1h0M433.2 417.5h0M436.3 413.1h0M419.5 416.8h0M433.8 407.3h0M446.6 405.0h0M416.9 421.3h0M433.4 418.7h0M425.3 416.7h0M426.4 413.0h0M443.6 398.7h0M441.2 403.2h0M411.7 413.0h0M447.5 414.9h0M419.3 430.4h0M454.5 404.2h0M415.7 421.0h0M444.0 406.6h0M422.2 408.8h0M413.7 423.3h0M419.4 420.8h0M438.3 411.4h0M412.0 421.6h0M397.9 422.7h0M429.4 409.5h0M424.3 412.4h0M413.8 418.2h0M430.2 419.9h0M436.7 409.8h0M428.6 416.1h0M458.1 403.4h0M416.3 422.5h0M436.8 411.8h0M415.9 421.8h0M441.9 408.3h0M443.8 408.3h0M410.0 414.5h0M432.7 415.8h0M423.2 420.8h0M440.4 411.8h0M435.1 409.6h0M423.9 412.7h0M424.1 421.7h0M421.6 422.6h0M439.2 405.9h0M419.0 412.9h0M431.6 406.6h0M413.8 418.2h0M412.9 422.6h0M448.5 418.4h0M414.1 415.4h0M439.6 414.2h0M397.3 433.9h0M433.4 405.3h0M441.5 413.2h0M448.2 407.8h0M437.1 411.6h0M451.8 408.5h0M395.5 426.3h0M430.7 411.0h0M417.1 418.6h0M410.8 420.7h0M429.2 411.7h0M452.6 416.9h0M435.6 408.4h0M410.4 419.0h0M427.7 419.5h0M438.7 398.8h0M438.0 405.6h0M443.9 408.9h0M442.5 413.3h0M430.5 408.6h0M447.5 408.6h0M423.5 412.3h0M426.7 413.2h0M439.9 414.0h0M441.0 406.9h0M423.9 422.2h0M418.4 417.0h0M442.0 420.3h0M438.5 408.9h0M410.9 414.3h0M433.8 409.0h0M413.2 425.0h0M441.5 400.8h0M433.3 412.8h0M421.1 425.8h0M442.6 409.2h0M446.3 411.5h0M443.6 412.4h0M436.6 402.6h0M417.3 411.9h0M427.8 419.0h0M430.9 408.8h0M417.2 418.7h0M419.4 420.9h0M424.7 409.9h0M420.4 408.9h0M422.2 419.5h0M443.9 400.0h0M418.1 413.5h0M410.5 421.8h0M422.3 411.4h0M409.1 422.9h0M417.6 416.5h0M409.5 427.5h0M431.0 421.2h0M440.3 417.0h0M399.7 413.4h0M446.5 412.1h0M411.6 416.3h0M458.2 399.9h0M437.7 417.1h0M401.3 420.3h0M443.0 407.7h0M427.8 405.6h0M415.3 411.5h0M440.2 413.0h0M429.7 412.3h0M436.5 416.3h0M424.4 414.2h0M428.3 413.3h0M431.6 413.4h0M420.4 410.1h0M418.3 418.6h0M414.8 424.6h0M434.5 411.6h0M425.9 411.6h0M425.3 410.5h0M454.7 402.5h0M423.9 405.4h0M438.3 419.6h0M447.6 405.7h0M440.5 415.9h0M415.3 421.5h0M436.1 417.3h0M417.3 411.6h0M418.3 416.1h0M414.5 427.8h0M426.6 414.7h0M406.6 415.1h0M440.0 404.4h0M420.3 422.7h0M426.5 413.1h0M425.3 417.8h0M413.1 422.8h0M426.6 416.8h0M452.5 406.8h0M434.6 414.0h0M425.1 420.1h0M420.7 424.6h0M397.1 416.3h0M412.2 416.4h0M426.0 417.5h0M438.6 413.1h0M434.3 413.5h0M442.2 403.3h0M428.8 407.0h0M435.3 402.2h0M426.0 423.0h0M431.0 411.2h0M422.5 416.6h0M423.9 422.1h0M453.2 409.5h0M412.0 428.0h0M415.4 418.0h0M449.6 402.8h0M417.1 424.3h0M411.3 419.6h0M440.7 412.0h0M451.5 394.6h0M430.2 425.2h0M443.9 408.7h0M437.7 404.6h0M413.0 418.2h0M430.4 417.0h0M438.1 410.9h0M421.9 404.9h0M430.3 403.4h0M425.6 408.4h0M416.7 416.5h0M443.8 420.6h0M435.8 412.5h0M443.9 407.2h0M426.7 421.3h0M417.0 419.1h0M417.2 418.9h0M431.1 420.1h0M443.4 409.8h0M436.7 422.6h0M420.1 417.9h0M422.1 419.3h0M432.4 409.7h0M413.4 429.7h0M438.6 411.8h0M443.6 403.3h0M426.3 422.3h0M422.5 419.6h0M446.1 417.1h0M441.3 417.8h0M419.4 424.5h0M417.5 419.6h0M433.3 415.1h0M438.0 400.2h0M430.2 419.4h0M425.2 415.1h0M422.5 408.9h0M444.9 396.5h0M435.5 411.8h0M437.6 414.9h0M418.9 411.4h0M429.9 419.3h0M419.2 416.5h0M409.8 420.0h0M410.3 424.8h0M420.2 422.9h0M410.3 422.6h0M443.4 403.8h0M438.0 412.0h0M429.6 417.4h0M425.1 419.1h0M406.4 426.5h0M456.1 401.8h0M416.7 418.0h0M421.1 408.9h0M427.3 417.4h0M437.7 408.4h0M417.7 421.4h0M429.8 422.3h0M414.3 412.4h0M440.4 403.0h0M421.2 419.2h0M423.7 417.7h0M446.5 408.6h0M447.6 411.0h0M433.3 402.5h0M416.8 421.0h0M418.9 425.8h0M423.4 418.8h0M460.1 405.5h0M396.3 418.8h0M441.7 409.1h0M431.9 408.1h0M419.5 416.2h0M429.8 403.5h0M448.4 405.7h0M408.0 415.2h0M426.9 407.2h0M428.5 412.4h0M437.3 414.6h0M418.0 403.8h0M415.0 412.6h0M437.7 405.6h0M447.8 414.5h0M441.7 420.7h0M428.5 411.5h0M442.8 402.4h0M414.0 419.8h0M425.4 418.4h0M415.7 421.5h0M444.5 400.2h0M438.7 400.3h0M429.0 419.4h0M418.1 415.7h0M442.7 401.6h0M414.5 412.6h0M419.9 412.9h0M441.1 400.7h0M420.0 414.9h0M434.0 413.9h0M429.0 409.8h0M403.6 425.5h0M461.5 399.7h0M419.5 426.9h0M413.6 415.4h0M437.6 407.7h0M436.4 414.2h0M451.0 412.2h0M435.1 412.7h0M402.6 416.9h0M423.6 411.0h0M446.3 406.4h0M418.0 418.1h0M426.7 405.7h0M440.2 400.4h0M438.8 414.3h0M441.2 403.5h0M425.9 411.6h0M423.0 422.4h0M426.3 409.7h0M422.4 428.2h0M415.9 411.4h0M430.9 406.1h0M416.6 419.8h0M413.0 423.0h0M435.2 410.3h0M420.6 414.3h0M408.5 422.3h0M405.7 429.6h0M407.7 426.7h0M450.8 398.0h0M446.1 410.8h0M436.8 417.1h0M419.7 414.9h0M404.2 420.4h0M436.6 422.5h0M423.7 415.7h0M430.0 419.4h0M436.3 410.1h0M417.0 408.0h0M431.7 408.2h0M455.3 407.2h0M424.6 424.6h0M424.5 412.3h0M435.9 409.7h0M409.1 424.8h0M400.5 430.7h0M429.3 411.4h0M414.2 419.4h0M415.9 414.1h0M437.0 413.7h0M420.9 423.0h0M420.8 403.4h0M427.4 408.8h0M436.1 402.3h0M422.8 420.5h0M442.8 403.2h0M417.9 410.6h0M427.4 414.0h0M454.6 401.5h0M432.2 413.9h0M430.5 406.6h0M434.3 415.8h0M434.2 412.1h0M432.1 413.3h0M395.6 433.7h0M422.0 428.3h0M405.5 409.4h0M437.8 412.9h0M432.4 424.9h0M431.3 406.8h0M430.4 420.3h0M441.8 411.9h0M419.2 415.3h0M423.2 403.4h0M425.6 402.0h0M434.3 418.6h0M427.6 413.4h0M448.7 399.2h0M417.9 419.5h0M462.6 407.1h0M433.1 402.7h0M412.7 420.7h0M416.7 414.4h0M433.8 411.9h0M437.7 414.8h0M422.2 412.9h0M458.0 403.7h0M428.7 405.9h0M429.0 405.9h0M431.4 405.9h0M430.6 418.0h0M415.1 415.5h0M456.0 393.6h0M423.1 401.0h0M411.2 424.1h0M441.8 417.7h0M441.5 406.9h0M437.3 417.4h0M433.6 406.4h0M427.1 408.1h0M428.2 411.6h0M423.1 423.0h0M425.5 411.6h0M416.5 428.6h0M404.7 414.0h0M424.5 419.2h0M446.4 408.4h0M405.3 423.8h0M414.6 419.2h0M414.2 417.9h0M434.7 414.6h0M424.8 415.6h0M440.3 413.6h0M439.1 402.7h0M425.0 420.2h0M423.2 425.4h0M419.7 423.2h0M425.3 416.6h0M435.6 410.4h0M434.2 411.8h0M432.1 418.7h0M437.8 402.9h0M444.5 415.7h0M434.1 420.8h0M439.2 411.0h0M421.0 420.3h0M424.3 414.9h0M413.4 418.2h0M431.8 409.3h0M427.2 413.9h0M462.7 396.1h0M432.7 420.0h0M437.2 407.2h0M425.2 412.2h0M428.2 412.9h0M425.4 406.4h0M433.3 413.4h0M424.3 402.6h0M414.9 421.0h0M432.5 411.2h0M432.1 404.2h0M444.5 405.5h0M428.3 413.8h0M424.2 408.9h0M408.9 426.0h0M420.9 421.5h0M416.8 410.4h0M394.3 421.5h0M408.2 421.6h0M419.2 422.3h0M405.7 420.6h0M396.0 426.6h0M444.4 397.4h0M423.5 419.7h0M423.6 412.4h0M441.9 414.4h0M435.0 411.4h0M445.1 410.2h0M424.7 419.6h0M407.9 418.8h0M438.6 403.6h0M431.9 414.9h0M414.0 425.0h0M417.0 415.4h0M429.2 426.4h0M426.3 415.8h0M412.1 419.1h0M435.9 416.9h0M407.5 422.4h0M431.8 413.8h0M451.1 405.0h0M412.8 414.3h0M418.1 413.0h0M429.4 406.0h0M412.9 414.5h0M434.3 416.7h0M438.5 397.0h0M433.2 416.2h0M425.6 406.9h0M431.7 403.8h0M418.0 409.4h0M404.1 422.6h0M423.4 418.0h0M446.3 410.9h0M433.2 401.1h0M440.3 411.8h0M416.9 428.9h0M433.6 406.6h0M444.5 406.6h0M460.3 398.2h0M393.1 430.4h0M439.9 411.9h0M440.5 413.8h0M460.8 402.9h0M405.8 420.4h0M441.2 412.4h0M451.3 410.7h0M424.8 409.2h0M424.6 417.9h0M427.5 409.9h0M453.6 397.0h0M455.8 404.3h0M402.9 422.2h0M421.6 421.5h0M420.1 416.6h0M428.6 408.0h0M414.1 411.5h0M428.4 409.1h0M446.4 414.5h0M451.7 409.7h0M433.8 405.2h0M441.6 418.1h0M430.2 406.1h0M426.0 414.7h0M428.9 403.6h0M419.7 421.8h0M411.2 422.3h0M424.3 412.8h0M426.6 424.0h0M404.2 417.6h0M438.7 417.8h0M441.9 423.0h0M462.7 398.4h0M402.9 419.0h0M427.3 416.4h0M422.3 416.8h0M426.3 419.4h0M419.3 413.2h0M435.8 418.7h0M420.4 406.9h0M438.6 400.3h0M407.5 426.5h0M395.2 435.9h0M422.2 421.6h0M411.4 423.2h0M425.0 409.7h0M436.3 421.0h0M450.2 408.0h0M412.8 418.8h0M421.8 423.7h0M451.3 409.1h0M418.8 413.5h0M453.0 402.3h0M414.3 415.6h0M444.5 405.7h0M437.6 413.1h0M426.8 423.8h0M417.0 423.9h0M427.9 404.8h0M394.0 432.7h0M413.8 418.8h0M445.4 412.2h0M416.0 410.5h0M433.5 408.6h0M440.4 413.7h0M431.2 416.3h0M417.0 416.5h0M434.4 418.8h0M416.2 413.9h0M430.4 408.8h0M423.1 419.9h0M439.6 406.1h0M440.9 413.6h0M438.0 401.0h0M423.6 420.7h0M431.7 411.7h0M436.4 418.9h0M431.6 407.1h0M438.4 406.3h0M446.0 412.3h0M446.3 406.1h0M412.9 420.4h0M432.0 410.3h0M448.3 405.6h0M420.2 403.4h0M422.9 420.1h0M441.9 411.3h0M416.0 423.8h0M445.8 413.7h0M429.4 415.7h0M425.0 419.3h0M430.2 409.3h0M443.8 410.3h0M410.3 428.2h0M428.0 428.1h0M448.0 406.6h0M429.8 421.1h0M418.2 421.2h0M438.1 412.5h0M437.2 407.4h0M398.8 424.7h0M447.0 410.1h0M429.9 413.6h0M409.4 407.0h0M425.9 410.5h0M421.2 407.6h0M445.3 400.8h0M442.3 404.6h0M448.9 404.1h0M430.0 408.1h0M414.5 413.3h0M430.2 416.9h0M423.8 420.5h0M415.1 416.7h0M429.7 408.1h0M426.5 410.3h0M438.2 414.1h0M402.3 426.1h0M424.0 417.9h0M461.2 406.3h0M435.0 415.6h0M438.3 417.4h0M442.2 407.6h0M421.8 422.5h0M453.1 408.4h0M449.6 420.2h0M409.7 409.1h0M454.8 404.3h0M443.0 404.9h0M422.4 414.6h0M410.5 427.2h0M429.7 408.6h0M430.3 419.8h0M440.7 408.7h0M439.2 411.4h0M423.8 408.7h0M448.6 413.5h0M411.1 413.5h0M433.3 411.4h0M413.1 412.6h0M430.7 411.3h0M433.7 414.6h0M433.9 410.7h0M438.7 407.6h0M408.5 424.2h0M423.8 408.1h0M418.0 410.2h0M444.2 402.9h0M461.9 402.1h0M432.7 404.8h0M434.0 405.6h0M425.9 405.9h0M433.2 422.8h0M444.2 409.1h0M414.5 419.7h0M423.6 408.3h0M432.9 412.2h0M427.6 418.8h0M418.2 419.5h0M424.4 421.4h0M421.8 409.7h0M434.7 411.2h0M433.1 413.1h0M409.9 414.4h0M461.8 399.1h0M438.2 395.7h0M409.6 416.6h0M422.7 416.8h0M402.8 422.4h0M433.9 420.7h0M424.5 417.5h0M412.7 414.9h0M452.7 402.7h0M443.4 403.8h0M426.9 410.4h0M447.9 409.2h0M425.6 422.2h0M399.8 427.7h0M441.4 406.8h0M431.8 404.5h0M401.2 414.5h0M429.1 408.6h0M448.7 411.2h0M414.7 415.6h0M427.0 417.2h0M426.0 418.3h0M429.9 415.0h0M453.6 410.9h0M436.6 410.1h0M451.8 411.0h0M420.8 405.8h0M417.9 419.0h0M421.9 421.2h0M446.3 398.5h0M425.6 418.6h0M407.4 416.6h0M419.8 413.0h0M421.8 412.0h0M434.3 409.6h0M429.8 412.9h0M422.7 417.8h0M430.0 409.8h0M427.9 408.1h0M424.8 407.5h0M414.1 407.0h0M442.4 411.0h0M449.7 397.0h0M409.8 420.2h0M435.0 405.0h0M429.0 420.6h0M446.3 408.2h0M434.5 413.1h0M426.2 422.0h0M438.0 413.7h0M401.0 420.2h0M427.3 408.1h0M440.3 416.3h0M425.2 414.4h0M429.2 419.1h0M429.0 407.4h0M446.6 398.8h0M439.3 424.2h0M423.8 418.0h0M451.0 400.4h0M427.9 411.4h0M435.3 412.3h0M448.5 395.9h0M440.3 412.6h0M431.8 406.5h0M438.8 413.9h0M442.3 404.5h0M436.7 413.0h0M427.6 424.8h0M427.6 416.3h0M423.6 416.6h0M423.3 414.6h0M429.5 416.6h0M426.1 414.7h0M435.4 408.5h0M422.7 420.1h0M403.6 429.1h0M434.1 416.9h0M452.0 406.4h0M422.3 416.4h0M419.9 419.9h0M429.0 421.7h0M430.0 413.4h0M414.6 412.0h0M433.4 405.4h0M418.1 424.1h0M410.4 428.7h0M399.9 413.8h0M420.9 414.8h0M420.1 417.0h0M451.5 415.8h0M413.3 417.7h0M414.5 414.0h0M447.3 401.8h0M439.2 410.7h0M442.9 413.2h0M410.3 421.0h0M424.3 407.6h0M413.3 411.8h0M416.4 424.8h0M402.8 422.2h0M406.5 419.5h0M428.7 415.6h0M399.3 426.2h0M434.6 421.7h0M438.3 410.0h0M419.9 415.1h0M437.7 410.4h0M416.4 412.8h0M417.9 414.8h0M442.5 401.0h0M451.7 399.5h0M430.1 414.0h0M430.8 409.5h0M437.8 414.9h0M450.9 414.9h0M443.0 415.8h0M411.4 422.0h0M423.6 422.8h0M437.2 411.0h0M448.2 412.6h0M400.5 418.8h0M424.5 409.1h0M392.6 432.6h0M429.2 401.8h0M409.2 430.8h0M421.0 407.7h0M451.8 413.3h0M418.7 427.2h0M415.1 423.4h0M434.3 404.8h0M422.6 410.6h0M431.2 411.7h0M456.7 399.7h0M451.2 403.9h0M440.8 406.2h0M426.5 418.1h0M421.9 415.5h0M422.3 417.5h0M417.4 412.1h0M424.3 415.5h0M424.7 407.0h0M419.9 408.0h0M415.1 408.9h0M437.0 413.3h0M434.7 404.6h0M413.7 419.6h0M432.6 413.2h0M423.6 414.9h0M432.6 407.4h0M449.9 408.0h0M422.9 405.0h0M426.0 422.6h0M421.3 417.7h0M444.0 419.7h0M418.4 417.5h0M437.8 407.9h0M440.8 410.1h0M424.4 407.8h0M453.8 402.6h0M430.2 417.7h0M459.6 400.5h0M437.2 419.6h0M437.0 396.4h0M425.4 415.5h0M451.0 406.8h0M440.6 398.0h0M410.3 424.2h0M438.1 409.4h0M428.5 414.3h0M429.8 410.8h0M420.7 417.5h0M431.4 418.6h0M434.6 423.9h0M437.5 411.0h0M410.2 411.7h0M410.3 407.6h0M417.0 410.2h0M426.9 404.5h0M424.6 408.7h0M423.1 426.0h0M433.8 408.8h0M433.9 401.8h0M416.9 425.5h0M431.8 416.2h0M426.4 414.1h0M415.6 411.4h0M426.1 403.8h0M431.7 406.2h0M423.6 418.8h0M420.0 421.3h0M434.6 410.5h0M411.7 427.9h0M415.0 428.4h0M414.6 426.8h0M438.5 416.7h0M419.1 417.2h0M428.4 410.9h0M439.4 406.0h0M422.8 408.0h0M433.5 415.7h0M450.3 412.8h0M435.0 403.9h0M429.6 410.9h0M429.8 409.1h0M431.3 412.4h0M438.5 420.9h0M431.7 414.0h0M457.3 402.0h0M418.1 413.1h0M422.2 422.3h0M423.8 412.0h0M445.7 401.5h0M431.4 413.3h0M430.9 405.5h0M426.1 407.5h0M416.1 417.6h0M439.5 405.6h0M430.9 415.5h0M401.2 425.1h0M415.3 420.1h0M451.5 410.0h0M440.6 409.4h0M411.5 418.4h0M439.1 416.6h0M410.6 421.5h0M438.7 413.4h0M434.2 408.8h0M428.1 410.9h0M446.8 408.3h0M432.8 418.0h0M417.2 417.7h0M440.0 413.3h0M407.3 415.2h0M463.2 407.7h0M429.7 410.1h0M413.8 416.4h0M444.3 409.6h0M438.8 409.1h0M414.0 421.7h0M418.8 409.0h0M445.1 406.3h0M404.6 424.2h0M421.9 426.6h0M427.6 412.0h0M408.2 422.6h0M421.1 405.2h0M437.8 405.8h0M429.2 420.4h0M441.6 412.8h0M399.3 419.0h0M422.7 415.3h0M435.6 412.3h0M434.0 404.1h0M423.1 417.2h0M428.2 409.8h0M421.9 415.1h0M417.7 417.4h0M436.0 415.5h0M425.2 422.8h0M417.5 416.6h0M435.8 416.8h0M426.4 419.3h0M432.6 410.5h0M434.5 412.5h0M406.7 423.9h0M408.0 424.1h0M427.0 407.7h0M418.3 421.2h0M430.9 424.3h0M457.5 412.3h0M443.0 402.9h0M442.2 409.3h0M438.8 411.8h0M442.1 412.5h0M415.8 415.5h0M421.2 412.0h0M415.1 416.3h0M413.3 419.0h0M459.8 408.9h0M409.6 428.8h0M424.5 405.5h0M421.2 410.5h0M425.2 418.1h0M457.7 397.4h0M400.6 428.3h0M434.0 407.8h0M424.6 412.9h0M435.9 412.8h0M442.7 413.4h0M439.1 404.6h0M430.9 414.5h0M427.6 426.2h0M431.7 420.3h0M398.0 419.3h0M414.3 416.1h0M428.6 423.3h0M414.5 419.6h0M434.8 410.8h0M409.2 422.9h0M429.4 420.2h0M421.3 418.9h0M396.4 414.4h0M440.9 411.8h0M441.9 414.7h0M450.6 408.0h0M430.0 416.1h0M429.2 411.2h0M428.3 418.1h0M439.1 406.6h0M427.9 407.6h0M416.9 410.0h0M425.5 405.8h0M421.3 417.2h0M431.0 406.3h0M449.2 408.9h0M417.1 412.9h0M446.3 403.4h0M423.0 408.0h0M427.5 412.7h0M437.1 413.7h0M394.3 423.6h0M438.5 407.5h0M435.9 409.9h0M443.3 407.7h0M450.0 405.8h0M439.7 412.7h0M432.3 409.7h0M429.9 404.1h0M428.5 407.0h0M433.1 405.6h0M414.5 420.1h0M442.2 413.3h0M433.7 408.4h0M430.8 410.1h0M435.9 412.2h0M434.0 414.4h0M421.2 424.8h0M426.3 423.7h0M428.3 412.2h0M411.7 418.6h0M432.2 414.1h0M414.4 418.7h0M434.0 406.3h0M456.6 415.0h0M433.0 409.4h0M418.4 414.9h0M458.9 402.4h0M448.1 400.7h0M421.3 428.8h0M445.1 399.1h0M401.7 423.5h0M417.5 415.9h0M428.8 406.8h0M419.1 405.6h0M402.5 420.9h0M426.5 410.4h0M421.0 410.8h0M422.7 426.1h0M431.0 408.4h0M397.6 426.5h0M436.2 424.3h0M425.0 423.5h0M407.9 418.0h0M444.8 401.3h0M418.1 414.0h0M401.5 430.8h0M436.0 413.1h0M412.7 429.2h0M424.4 402.1h0M397.9 429.6h0M444.6 418.7h0M418.6 416.3h0M444.7 408.3h0M455.0 404.6h0M426.2 411.6h0M433.1 420.3h0M413.8 419.6h0M433.0 418.8h0M417.2 421.4h0M432.9 414.3h0M436.8 408.3h0M414.2 419.8h0M409.4 419.2h0M440.0 415.1h0M401.5 419.5h0M423.5 415.2h0M434.7 409.1h0M441.7 411.5h0M395.0 427.4h0M423.3 417.4h0M433.7 413.0h0M447.2 410.6h0M427.8 415.6h0M459.5 408.3h0M412.9 420.8h0M439.3 409.6h0M425.2 422.7h0M396.9 425.2h0M424.3 404.8h0M433.4 409.3h0M442.3 413.8h0M409.5 421.9h0M450.0 400.5h0M419.1 423.6h0M441.8 402.7h0M411.5 410.0h0M416.3 413.2h0M424.8 416.5h0M418.7 412.7h0M437.1 405.9h0M423.7 419.8h0M460.0 393.0h0M425.0 421.1h0M450.3 405.3h0M428.7 408.4h0M433.1 411.2h0M457.6 414.3h0M437.5 415.9h0M429.0 414.2h0M431.8 426.0h0M438.3 396.8h0M421.7 410.5h0M437.2 408.7h0M420.3 412.5h0M431.9 403.9h0M440.3 413.4h0M450.1 403.2h0M430.4 416.2h0M447.9 406.3h0M422.3 412.1h0M448.2 403.7h0M442.0 407.3h0M433.2 419.0h0M429.7 412.7h0M426.8 415.3h0M432.5 415.3h0M424.9 422.1h0M462.6 407.0h0M409.8 422.7h0M421.6 421.8h0M452.2 399.4h0M422.2 412.2h0M411.4 428.5h0M432.8 408.5h0M417.7 417.0h0M425.9 408.1h0M430.4 411.7h0M436.5 422.7h0M408.5 427.4h0M431.5 416.0h0M399.6 418.0h0M425.1 408.8h0M458.0 413.0h0M408.7 413.8h0M449.0 404.2h0M433.3 407.7h0M437.7 417.6h0M439.0 404.1h0M421.8 420.9h0M420.5 419.4h0M435.8 406.4h0M428.2 415.2h0M401.3 425.0h0M412.9 421.8h0M433.0 410.9h0M414.8 421.1h0M410.7 420.8h0M423.6 409.2h0M398.7 418.1h0M437.5 413.4h0M417.6 415.9h0M435.7 411.9h0M425.5 414.3h0M411.7 417.5h0M436.5 410.4h0M410.8 419.3h0M426.2 412.3h0M421.6 410.9h0M444.1 403.3h0M431.3 405.3h0M427.2 414.7h0M406.4 420.7h0M446.0 413.0h0M439.5 417.0h0M432.3 401.5h0M428.5 420.1h0M432.1 413.0h0M439.7 412.6h0M401.9 425.1h0M436.6 404.7h0M431.9 412.0h0M438.1 411.3h0M421.0 414.6h0M444.2 410.9h0M435.2 414.8h0M416.8 416.3h0M407.9 425.2h0M410.0 423.0h0M414.2 404.8h0M436.9 410.1h0M407.8 433.9h0M434.4 415.0h0M443.5 410.6h0M408.3 423.8h0M404.9 429.4h0M438.4 413.0h0M438.1 413.3h0M424.3 417.9h0M419.6 420.1h0M450.1 406.4h0M398.6 413.7h0M446.5 400.9h0M426.2 415.0h0M420.6 415.3h0M434.8 411.2h0M415.4 423.2h0M452.7 395.6h0M409.2 423.5h0M427.1 410.5h0M426.0 412.8h0M433.2 405.3h0M408.2 413.9h0M434.3 408.3h0M405.1 422.5h0M423.8 411.3h0M438.0 406.2h0M408.3 413.0h0M428.7 408.0h0M427.6 417.6h0M437.5 405.9h0M421.1 417.2h0M444.2 405.5h0M453.5 398.0h0M412.2 427.9h0M444.9 404.4h0M424.1 416.6h0M419.8 405.9h0M425.5 422.4h0M441.2 409.7h0M433.1 414.1h0M427.4 424.7h0M435.8 415.0h0M422.3 413.7h0M446.6 419.9h0M426.0 411.1h0M442.7 413.9h0M432.6 409.7h0M441.5 412.7h0M425.2 417.5h0M444.5 401.7h0M421.5 416.6h0M431.1 417.8h0M426.3 409.2h0M439.2 413.8h0M418.5 417.5h0M406.7 419.0h0M429.7 420.8h0M424.6 418.6h0M424.1 420.0h0M447.7 412.6h0M439.0 408.7h0M448.9 406.9h0M428.0 413.2h0M400.7 408.8h0M424.9 416.5h0M411.7 419.9h0M451.2 410.2h0M434.4 405.5h0M441.6 411.4h0M402.9 419.7h0M436.2 412.8h0M421.8 405.5h0M405.3 424.3h0M419.3 425.7h0M418.1 421.6h0M445.9 417.7h0M408.3 418.8h0M405.8 432.8h0M419.1 423.7h0M414.0 419.3h0M434.5 415.2h0M424.1 410.8h0M425.8 410.1h0M419.6 413.6h0M446.3 415.5h0M422.7 417.1h0M425.2 411.8h0M409.4 419.5h0M418.8 408.6h0M401.6 418.7h0M422.8 419.3h0M429.6 414.2h0M428.2 412.1h0M445.7 409.7h0M452.7 394.7h0M445.4 398.7h0M430.9 411.0h0M413.6 410.7h0M411.5 423.8h0M428.0 412.3h0M432.9 418.7h0M423.1 412.4h0M445.0 403.5h0M434.0 413.1h0M420.3 419.2h0M426.7 411.0h0M420.9 404.1h0M413.8 413.7h0M425.2 415.4h0M422.7 406.5h0M423.8 411.8h0M429.8 408.7h0M436.4 401.2h0M417.7 421.9h0M452.2 398.1h0M429.1 414.9h0M431.7 404.8h0M417.2 408.8h0M427.3 416.0h0M422.4 427.7h0M432.7 419.7h0M420.1 421.5h0M431.4 408.3h0M428.6 412.3h0M433.9 402.3h0M436.3 401.7h0M427.2 411.9h0M418.8 413.3h0M415.9 415.0h0M419.1 418.7h0M445.4 406.9h0M439.4 411.2h0M401.6 414.0h0M425.5 418.2h0M441.5 415.7h0M417.5 410.5h0M418.2 410.4h0M423.7 416.3h0M429.1 416.2h0M443.3 402.1h0M429.0 409.7h0M435.8 401.2h0M405.6 415.2h0M441.1 411.0h0M428.3 415.5h0M445.7 414.3h0M436.7 403.2h0M436.2 413.6h0M421.6 428.1h0M413.5 412.2h0M414.7 427.6h0M424.6 423.4h0M434.6 416.5h0M441.6 409.7h0M408.0 424.9h0M418.9 421.6h0M445.6 413.5h0M433.3 415.2h0M436.5 419.1h0M405.9 418.1h0M448.4 414.8h0M423.7 418.0h0M414.8 412.4h0M428.8 421.4h0M425.1 406.9h0M418.1 420.0h0M416.4 416.6h0M420.2 411.1h0M416.3 426.0h0M434.5 416.4h0M431.8 410.8h0M418.9 418.9h0M435.4 415.8h0M425.6 417.1h0M436.0 410.9h0M436.0 401.4h0M424.2 416.6h0M433.4 399.6h0M423.0 405.5h0M444.9 413.2h0M412.9 416.3h0M447.6 406.5h0M430.1 400.8h0M433.0 399.9h0M414.2 409.0h0M420.0 429.4h0M415.2 420.3h0M427.0 409.6h0M438.0 407.2h0M416.4 407.5h0M445.6 407.3h0M419.0 416.7h0M424.3 418.5h0M427.5 417.3h0M437.3 413.9h0M435.0 409.3h0M430.1 409.8h0M412.2 404.6h0M417.2 413.0h0M428.0 415.8h0M453.8 398.7h0M423.5 411.8h0M437.9 401.4h0M442.9 409.3h0M423.9 421.2h0M431.6 407.4h0M421.8 411.9h0M429.6 415.4h0M409.3 413.6h0M435.9 417.2h0M413.4 417.1h0M437.4 401.6h0M393.8 414.4h0M430.5 412.0h0M433.6 413.8h0M424.0 408.8h0M403.4 422.5h0M436.1 420.5h0M425.8 405.4h0M433.4 407.6h0M438.1 408.9h0M433.2 416.6h0M425.1 403.8h0M410.6 420.4h0M410.0 422.8h0M417.1 424.4h0M431.5 417.9h0M435.6 400.5h0M425.2 425.9h0M425.9 412.1h0M430.9 405.8h0M430.1 422.3h0M450.4 411.1h0M426.3 412.2h0M414.5 417.5h0M450.2 415.3h0M402.6 424.5h0M425.2 421.4h0M393.1 420.2h0M433.6 418.9h0M436.4 411.0h0M430.2 420.1h0M424.5 412.0h0M401.4 428.2h0M442.4 397.5h0M437.7 410.6h0M411.4 421.3h0M424.0 412.4h0M423.9 401.1h0M447.7 419.0h0M410.2 419.5h0M442.6 406.3h0M404.5 413.6h0M436.5 406.1h0M434.8 402.7h0M421.1 418.8h0M412.5 417.3h0M434.4 406.1h0M449.6 402.7h0M446.4 408.6h0M413.3 414.4h0M443.1 400.9h0M425.3 417.0h0M422.3 413.4h0M427.1 414.8h0M431.6 413.8h0M432.9 415.1h0M404.5 423.1h0M456.3 408.4h0M441.6 401.4h0M419.6 414.9h0M393.4 421.9h0M451.0 404.7h0M397.8 426.9h0M416.6 416.7h0M432.1 414.4h0M423.1 419.7h0M436.5 409.5h0M433.0 414.6h0M435.3 412.7h0M432.3 412.9h0M417.8 423.0h0M399.7 430.6h0M434.8 420.8h0M416.2 417.6h0M424.7 421.1h0M434.2 399.7h0M411.1 412.0h0M411.2 419.8h0M418.9 412.1h0M407.0 418.8h0M431.1 409.2h0M434.2 410.6h0M402.2 424.1h0M414.3 415.1h0M424.6 413.8h0M443.9 408.8h0M452.4 400.4h0M406.4 424.2h0M445.6 410.5h0M445.3 411.0h0M426.2 408.1h0M405.1 420.8h0M421.4 414.8h0M452.8 402.3h0M408.3 414.5h0M421.4 414.8h0M444.8 409.7h0M441.8 407.8h0M414.8 419.8h0M408.2 413.3h0M430.3 407.1h0M411.7 414.1h0M410.6 417.8h0M427.7 417.1h0M432.4 411.8h0M415.3 422.1h0M409.0 411.9h0M430.1 414.9h0M438.0 415.2h0M411.0 417.2h0M451.0 404.0h0M430.2 402.6h0M405.4 427.3h0M426.8 421.5h0M409.5 421.1h0M414.2 421.8h0M431.8 418.2h0M424.1 410.0h0M396.2 426.0h0M423.6 418.0h0M426.2 424.6h0M421.5 418.8h0M412.9 411.2h0M457.0 399.1h0M415.3 409.5h0M435.2 415.9h0M436.7 414.0h0M436.2 405.4h0M444.7 414.0h0M426.0 414.2h0M410.1 417.1h0M438.0 418.2h0M419.8 422.7h0M409.3 426.0h0M447.9 410.7h0M422.1 409.7h0M442.8 400.3h0M397.6 419.4h0M402.3 425.9h0M421.8 418.9h0M456.6 404.9h0M445.0 408.8h0M427.0 410.9h0M434.3 408.5h0M402.5 419.1h0M432.5 408.5h0M427.1 411.4h0M408.8 413.4h0M410.1 411.4h0M442.7 408.9h0M423.6 410.5h0M423.4 422.0h0M431.9 419.3h0M421.2 405.3h0M439.7 412.2h0M426.9 417.7h0M427.7 422.1h0M437.8 410.1h0M418.9 420.2h0M421.2 418.5h0M419.1 419.3h0M447.6 403.1h0M434.2 409.4h0M410.7 433.0h0M450.6 401.8h0M431.1 410.9h0M430.9 412.4h0M423.9 427.5h0M436.4 410.4h0M442.6 406.9h0M423.6 411.6h0M430.7 415.1h0M422.2 417.9h0M423.4 417.6h0M442.7 409.2h0M444.3 419.5h0M420.7 416.9h0M416.7 425.1h0M415.0 420.8h0M430.2 414.7h0M409.8 421.8h0M450.6 410.9h0M428.8 407.5h0M415.7 420.9h0M446.0 410.5h0M430.2 412.2h0M430.0 410.1h0M423.5 428.0h0M413.8 417.4h0M407.8 422.2h0M449.9 404.8h0M418.3 416.0h0M443.2 418.4h0M409.6 423.6h0M421.4 416.3h0M419.4 415.8h0M429.2 419.9h0M418.7 423.9h0M432.1 410.6h0M437.4 415.4h0M420.1 429.1h0M428.0 422.9h0M432.9 405.6h0M434.4 407.7h0M431.2 410.3h0M441.6 401.6h0M457.4 405.2h0M440.1 404.4h0M434.1 409.9h0M409.4 413.5h0M414.9 421.7h0M415.4 414.5h0M413.7 415.7h0M436.1 410.2h0M422.9 411.8h0M447.0 409.8h0M412.5 422.3h0M415.0 419.3h0M425.6 427.7h0M449.2 411.1h0M421.6 427.1h0M399.1 429.2h0M431.2 407.5h0M401.4 421.2h0M450.0 407.8h0M441.3 407.2h0M408.9 411.9h0M414.8 415.1h0M418.7 418.5h0M429.1 401.4h0M394.7 435.4h0M428.1 404.8h0M422.7 416.8h0M436.1 396.6h0M409.3 433.9h0M420.9 409.3h0M401.6 413.5h0M443.8 400.4h0M410.4 430.9h0M438.5 406.9h0M439.1 420.5h0M370.8 425.3h0M445.0 409.1h0M426.1 410.0h0M440.2 410.1h0M416.6 425.8h0M445.5 405.7h0M362.4 435.1h0M415.5 428.8h0M416.6 428.4h0M417.8 421.7h0M435.8 418.9h0M392.1 431.9h0M400.4 417.3h0M422.4 429.6h0M409.8 420.3h0M425.5 429.9h0M423.8 412.2h0M444.7 397.4h0M423.9 425.9h0M419.2 410.9h0M409.0 409.6h0M408.3 430.3h0M441.8 408.8h0M432.2 414.2h0M426.8 418.6h0M461.7 394.8h0M423.9 410.7h0M441.8 412.4h0M429.5 410.8h0M415.6 424.5h0M422.5 417.8h0M418.6 433.4h0M427.6 407.7h0M427.6 398.7h0M442.3 410.8h0M413.6 414.3h0M419.2 430.3h0M428.5 415.5h0M422.0 410.2h0M429.8 395.2h0M412.4 419.9h0M432.0 415.4h0M416.6 402.5h0M399.1 421.2h0M393.4 423.4h0M390.3 437.4h0M447.4 392.6h0M428.6 436.2h0M445.2 404.6h0M405.5 424.7h0M401.5 424.0h0M424.6 413.4h0M441.0 413.8h0M385.0 439.5h0M402.7 425.9h0M418.0 417.3h0M451.7 403.9h0M406.1 424.1h0M409.8 422.1h0M437.0 419.4h0M439.3 393.6h0M454.6 389.2h0M427.9 424.8h0M463.6 400.1h0M430.5 415.3h0M408.7 415.2h0M400.2 435.5h0M436.5 413.1h0M410.6 415.5h0M452.7 406.2h0M423.7 410.0h0M443.7 398.4h0M438.9 414.7h0M436.1 410.0h0M394.6 415.3h0M436.9 398.1h0M425.0 408.1h0M424.9 412.9h0M443.2 406.9h0M437.6 409.8h0M449.0 399.6h0M395.4 411.3h0M434.4 415.1h0M414.6 401.2h0M427.9 408.8h0M437.3 414.7h0M458.8 383.5h0M411.8 409.6h0M395.9 428.2h0M427.4 412.9h0M436.8 406.4h0M433.2 412.4h0M431.9 416.4h0M462.7 399.5h0M449.3 404.2h0M423.5 416.4h0M402.3 405.2h0M433.9 409.8h0M417.7 406.2h0M420.1 420.1h0M416.2 404.5h0M432.0 412.9h0M414.3 407.4h0M431.6 414.6h0M442.8 400.1h0M407.8 411.0h0M446.5 408.2h0M401.6 413.8h0M419.9 417.9h0M420.9 418.1h0M441.7 417.2h0M436.1 400.2h0M445.8 400.3h0M431.2 413.6h0M424.1 422.1h0M457.2 403.0h0M407.6 413.8h0M454.2 400.8h0M420.4 425.5h0M438.2 411.3h0M414.0 413.3h0M402.4 416.6h0M381.4 436.0h0M399.9 425.8h0M441.0 419.2h0M451.4 410.0h0M417.4 408.7h0M412.8 406.5h0M422.5 416.0h0M408.5 410.8h0M425.1 418.3h0M408.8 425.7h0M424.5 420.5h0M440.9 408.5h0M414.9 414.2h0M452.5 421.3h0M432.9 402.1h0M428.8 405.8h0M398.0 430.8h0M444.8 407.5h0M427.4 408.0h0M433.0 407.4h0M417.2 419.7h0M450.3 408.7h0M399.8 426.7h0M442.7 392.4h0M429.0 417.9h0M437.4 406.9h0M448.0 401.1h0M440.1 404.2h0M433.9 418.4h0M423.3 401.4h0M450.7 396.3h0M433.5 411.9h0M432.7 414.0h0M446.2 408.7h0M412.3 432.5h0M454.8 409.2h0M410.5 416.2h0M459.2 395.6h0M420.2 411.2h0M411.2 421.5h0M426.8 413.3h0M440.6 403.7h0M460.8 393.6h0M421.1 413.4h0M410.7 424.6h0M420.0 407.5h0M413.7 431.4h0M407.8 430.7h0M422.9 417.4h0M404.9 428.3h0M418.7 413.2h0M437.5 398.3h0M421.6 410.1h0M427.7 422.2h0M414.7 399.7h0M423.4 400.9h0M441.4 394.0h0M422.8 407.1h0M420.8 424.9h0M404.9 418.0h0M396.9 421.6h0M410.4 416.6h0M401.2 416.0h0M422.1 427.8h0M400.0 422.9h0M396.4 422.1h0M435.2 415.6h0M451.8 391.8h0M432.0 407.5h0M434.9 412.4h0M450.3 408.9h0M380.3 430.7h0M434.3 403.6h0M406.1 409.6h0M411.3 413.9h0M439.6 407.0h0M447.0 409.7h0M463.7 395.2h0M418.6 394.8h0M426.2 427.0h0M452.2 390.8h0M415.8 425.7h0M446.9 405.2h0M408.7 424.1h0M427.5 404.8h0M454.9 407.8h0M454.3 415.4h0M439.3 409.7h0M434.3 414.1h0M413.3 416.0h0M446.9 424.0h0M427.2 416.5h0M406.7 432.1h0M435.7 405.3h0M438.1 425.5h0M398.4 429.1h0M418.4 401.8h0M419.2 415.1h0M444.5 392.7h0M433.1 408.0h0M461.7 403.4h0M393.5 432.1h0M420.5 404.8h0M432.1 401.3h0M428.2 412.4h0M415.7 427.7h0M435.6 406.9h0M436.8 413.9h0M418.6 413.2h0M437.4 392.7h0M410.3 411.3h0M442.5 409.5h0M428.8 413.0h0M454.3 381.7h0M432.2 413.3h0M443.7 402.8h0M422.9 408.5h0M442.2 410.7h0M441.9 426.1h0M402.7 424.9h0M429.2 424.4h0M453.3 406.3h0M429.1 412.7h0M440.1 413.0h0M439.9 415.2h0M399.2 419.5h0M429.2 405.0h0M390.8 426.0h0M414.5 419.5h0M419.1 419.3h0M414.0 409.6h0M394.8 439.3h0M432.6 394.4h0M412.3 426.2h0M404.9 430.0h0M449.2 399.1h0M442.8 404.3h0M430.6 416.7h0M408.5 415.0h0M471.7 399.3h0M449.5 410.5h0M427.0 399.1h0M424.9 408.7h0M416.0 401.8h0M403.7 417.4h0M421.9 413.5h0M432.9 400.0h0M442.3 398.6h0M433.0 419.8h0M450.9 391.4h0M435.1 403.5h0M422.0 427.0h0M444.3 412.6h0M461.4 394.4h0M425.9 418.7h0M428.3 421.1h0M419.4 402.8h0M420.8 400.3h0M424.5 410.7h0M409.3 422.4h0M418.1 428.1h0M461.8 395.1h0M424.7 423.1h0M426.9 422.0h0M408.5 421.8h0M465.9 412.9h0M436.6 414.1h0M372.9 445.4h0M423.8 413.9h0M412.4 404.0h0M436.1 415.0h0M396.0 423.5h0M413.9 409.7h0M407.1 410.8h0M417.8 415.1h0M421.3 410.2h0M447.4 410.0h0M409.6 404.1h0M443.9 391.0h0M443.9 405.7h0M456.3 407.7h0M418.4 419.8h0M438.9 415.8h0M423.0 421.8h0M422.0 405.8h0M446.7 407.6h0M473.2 401.5h0M434.7 414.3h0M385.5 438.9h0M449.1 418.6h0M480.2 394.1h0M431.3 401.2h0M426.8 418.6h0M415.0 425.6h0M436.4 413.6h0M435.7 422.4h0M418.3 399.4h0M433.0 411.8h0M448.2 402.9h0M454.6 412.5h0M440.4 417.0h0M438.8 388.3h0M454.5 410.0h0M434.0 406.8h0M413.0 416.6h0M406.6 412.9h0M443.1 408.5h0M439.0 388.9h0M423.3 430.2h0M432.5 415.0h0M411.9 411.5h0M444.8 401.6h0M456.4 407.4h0M418.6 413.0h0M376.3 455.3h0M432.6 412.9h0M427.4 421.2h0M430.5 403.2h0M414.6 413.3h0M423.4 416.0h0M428.4 400.2h0M435.9 404.2h0M429.1 430.5h0M443.7 407.1h0M428.0 417.1h0M397.8 412.0h0M460.2 387.6h0M392.3 421.9h0M404.5 423.4h0M416.8 422.4h0M412.0 423.0h0M440.6 394.7h0M443.4 407.2h0M423.6 416.7h0M425.9 418.9h0M423.0 407.8h0M422.1 422.0h0M424.0 413.8h0M424.8 416.4h0M439.3 409.1h0M407.6 416.0h0M413.1 412.2h0M441.4 403.9h0M432.0 422.7h0M422.6 414.0h0M438.1 418.6h0M423.4 427.6h0M429.6 411.7h0M428.5 398.9h0M439.9 410.1h0M415.6 421.4h0M440.7 400.5h0M417.0 418.2h0M418.2 410.9h0M429.8 418.4h0M409.9 409.0h0M400.4 438.7h0M369.4 418.2h0M416.3 410.3h0M436.6 402.7h0M447.3 409.6h0M426.0 405.5h0M436.6 416.1h0M412.3 431.1h0M431.1 416.3h0M397.5 429.3h0M432.3 409.8h0M422.2 413.8h0M438.3 419.2h0M411.2 411.2h0M439.9 420.3h0M412.9 406.5h0M440.2 409.6h0M445.1 395.0h0M452.4 415.5h0M402.3 427.0h0M425.4 417.0h0M430.8 399.5h0M446.6 397.6h0M426.2 399.7h0M434.8 408.4h0M425.9 429.3h0M466.1 398.8h0M397.3 416.7h0M395.0 441.9h0M390.6 419.3h0M375.4 428.3h0M387.1 432.9h0M396.5 439.0h0M376.3 435.0h0M384.2 408.5h0M396.2 424.0h0M364.2 436.1h0M368.2 443.8h0M389.8 421.2h0M395.8 438.9h0M371.0 438.6h0M378.8 426.8h0M370.0 425.5h0M373.1 450.8h0M371.0 445.1h0M385.8 422.1h0M390.0 426.7h0M369.9 444.7h0M376.3 426.8h0M388.0 436.4h0M391.8 441.6h0M390.0 428.5h0M385.3 424.6h0M396.1 428.2h0M380.0 425.6h0M382.6 448.3h0M392.7 421.2h0M380.0 432.5h0M391.5 422.3h0M366.2 426.2h0M375.3 458.6h0M381.2 432.2h0M392.5 434.0h0M381.2 447.6h0M376.6 432.1h0M369.4 450.8h0M371.6 442.3h0M386.9 411.3h0M371.6 464.5h0M396.4 415.3h0M370.9 438.7h0M397.7 428.2h0M374.2 437.7h0M387.0 434.0h0M395.1 421.6h0M368.5 458.2h0M371.3 419.8h0M370.8 451.1h0M375.0 447.9h0M370.5 449.5h0M393.2 416.4h0M377.2 428.0h0M365.2 474.6h0M368.2 472.1h0M383.5 436.9h0" stroke="#bdbdbd" stroke-width="1.85" stroke-linecap="round" fill="none"/>
<line x1="325.3" y1="468.0" x2="523.3" y2="361.5" stroke="#7a7a7a" stroke-width="0.9" stroke-dasharray="2.6,3.6"/>
<path d="M385.7 379.1h0M395.7 378.1h0M409.3 402.2h0M381.5 405.9h0M389.3 404.8h0M392.6 404.1h0M389.8 410.4h0M385.7 414.1h0M389.4 414.4h0M382.8 418.9h0M383.5 419.6h0M388.0 418.0h0M389.3 418.3h0M366.9 412.2h0M363.3 420.2h0M368.0 420.2h0M370.9 424.8h0M416.7 446.1h0M341.7 453.1h0M438.5 378.1h0M515.2 384.1h0M507.0 399.4h0M481.5 392.4h0M473.5 401.7h0M482.4 403.0h0M488.9 401.7h0M493.5 401.7h0M494.4 404.4h0M489.8 405.4h0M497.2 406.7h0M478.7 405.4h0M481.5 409.6h0M483.3 410.0h0M466.7 405.4h0M468.5 407.2h0M470.4 409.1h0M464.8 407.2h0M462.0 409.1h0M463.0 410.9h0M472.2 410.9h0M475.9 410.0h0M460.2 411.9h0M464.8 413.7h0M459.3 414.6h0M454.6 415.6h0M463.0 415.6h0M478.7 414.6h0M488.9 415.6h0M500.6 414.3h0M511.1 418.9h0M450.0 418.9h0M460.2 419.3h0M466.7 418.3h0M472.2 419.3h0M478.7 421.1h0M448.1 423.9h0M469.4 422.0h0M461.1 422.0h0M443.5 425.7h0M486.7 426.3h0M459.8 427.6h0M440.7 429.4h0M432.4 432.8h0M435.7 434.4h0M470.9 433.7h0M456.5 406.3h0M332.3 465.1h0M396.8 464.5h0M403.7 466.9h0M467.0 404.0h0M470.0 406.0h0M466.0 411.0h0M457.0 412.0h0M474.0 407.0h0" stroke="#000" stroke-width="2.3" stroke-linecap="round" fill="none"/>
<text x="362.3" y="418.55" font-size="5.75" class="r" font-weight="bold" text-anchor="middle" fill="#f02020">HMGCS2</text>
<text x="405.0" y="415.05" font-size="5.75" class="r" font-weight="bold" text-anchor="middle" fill="#f02020">ATP1A1</text>
<text x="341.9" y="448.15000000000003" font-size="5.75" class="r" font-weight="bold" text-anchor="middle" fill="#f02020">FKBP5</text>
<text x="508.4" y="381.35" font-size="5.75" class="r" font-weight="bold" text-anchor="middle" fill="#f02020">IGFBP3</text>
<text x="490.5" y="397.65000000000003" font-size="5.75" class="r" font-weight="bold" text-anchor="middle" fill="#f02020">NAALAD2</text>
<text x="514.4" y="407.05" font-size="5.75" class="r" font-weight="bold" text-anchor="middle" fill="#f02020">SYTL2</text>
<text x="496.9" y="423.35" font-size="5.75" class="r" font-weight="bold" text-anchor="middle" fill="#f02020">FABP5</text>
<text x="475.8" y="432.15000000000003" font-size="5.75" class="r" font-weight="bold" text-anchor="middle" fill="#f02020">AKR1C3</text>
</svg></body></html>
